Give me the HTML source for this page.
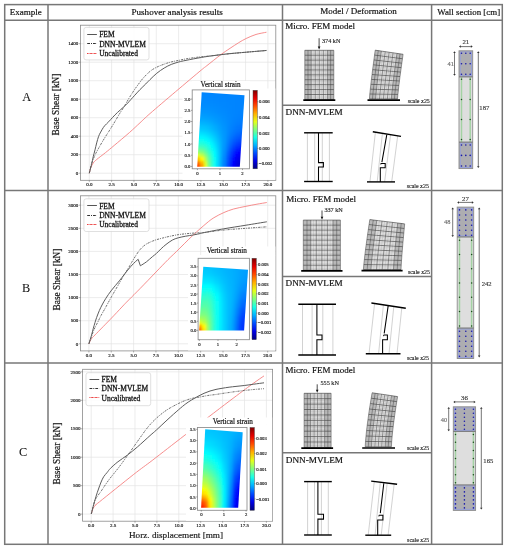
<!DOCTYPE html>
<html><head><meta charset="utf-8"><title>Pushover analysis</title><style>html,body{margin:0;padding:0;background:#fff;}svg{display:block;}</style></head><body>
<svg width="507" height="550" viewBox="0 0 507 550" font-family="'Liberation Serif','Times New Roman',serif">
<rect width="507" height="550" fill="#fff"/>
<g>
<line x1="89.3" y1="25.2" x2="89.3" y2="180.3" stroke="#e4e4e4" stroke-width="0.7" />
<line x1="111.62" y1="25.2" x2="111.62" y2="180.3" stroke="#e4e4e4" stroke-width="0.7" />
<line x1="133.95" y1="25.2" x2="133.95" y2="180.3" stroke="#e4e4e4" stroke-width="0.7" />
<line x1="156.27" y1="25.2" x2="156.27" y2="180.3" stroke="#e4e4e4" stroke-width="0.7" />
<line x1="178.6" y1="25.2" x2="178.6" y2="180.3" stroke="#e4e4e4" stroke-width="0.7" />
<line x1="200.93" y1="25.2" x2="200.93" y2="180.3" stroke="#e4e4e4" stroke-width="0.7" />
<line x1="223.25" y1="25.2" x2="223.25" y2="180.3" stroke="#e4e4e4" stroke-width="0.7" />
<line x1="245.57" y1="25.2" x2="245.57" y2="180.3" stroke="#e4e4e4" stroke-width="0.7" />
<line x1="267.9" y1="25.2" x2="267.9" y2="180.3" stroke="#e4e4e4" stroke-width="0.7" />
<line x1="80.5" y1="173.2" x2="275.8" y2="173.2" stroke="#e4e4e4" stroke-width="0.7" />
<line x1="80.5" y1="154.7" x2="275.8" y2="154.7" stroke="#e4e4e4" stroke-width="0.7" />
<line x1="80.5" y1="136.2" x2="275.8" y2="136.2" stroke="#e4e4e4" stroke-width="0.7" />
<line x1="80.5" y1="117.7" x2="275.8" y2="117.7" stroke="#e4e4e4" stroke-width="0.7" />
<line x1="80.5" y1="99.2" x2="275.8" y2="99.2" stroke="#e4e4e4" stroke-width="0.7" />
<line x1="80.5" y1="80.7" x2="275.8" y2="80.7" stroke="#e4e4e4" stroke-width="0.7" />
<line x1="80.5" y1="62.2" x2="275.8" y2="62.2" stroke="#e4e4e4" stroke-width="0.7" />
<line x1="80.5" y1="43.7" x2="275.8" y2="43.7" stroke="#e4e4e4" stroke-width="0.7" />
<rect x="80.5" y="25.2" width="195.3" height="155.1" fill="none" stroke="#8a8a8a" stroke-width="0.8"/>
<line x1="89.3" y1="180.3" x2="89.3" y2="181.9" stroke="#666" stroke-width="0.5" />
<text x="89.3" y="185.9" font-size="5" text-anchor="middle" fill="#111" stroke="#111" stroke-width="0.14" >0.0</text>
<line x1="111.62" y1="180.3" x2="111.62" y2="181.9" stroke="#666" stroke-width="0.5" />
<text x="111.62" y="185.9" font-size="5" text-anchor="middle" fill="#111" stroke="#111" stroke-width="0.14" >2.5</text>
<line x1="133.95" y1="180.3" x2="133.95" y2="181.9" stroke="#666" stroke-width="0.5" />
<text x="133.95" y="185.9" font-size="5" text-anchor="middle" fill="#111" stroke="#111" stroke-width="0.14" >5.0</text>
<line x1="156.27" y1="180.3" x2="156.27" y2="181.9" stroke="#666" stroke-width="0.5" />
<text x="156.27" y="185.9" font-size="5" text-anchor="middle" fill="#111" stroke="#111" stroke-width="0.14" >7.5</text>
<line x1="178.6" y1="180.3" x2="178.6" y2="181.9" stroke="#666" stroke-width="0.5" />
<text x="178.6" y="185.9" font-size="5" text-anchor="middle" fill="#111" stroke="#111" stroke-width="0.14" >10.0</text>
<line x1="200.93" y1="180.3" x2="200.93" y2="181.9" stroke="#666" stroke-width="0.5" />
<text x="200.93" y="185.9" font-size="5" text-anchor="middle" fill="#111" stroke="#111" stroke-width="0.14" >12.5</text>
<line x1="223.25" y1="180.3" x2="223.25" y2="181.9" stroke="#666" stroke-width="0.5" />
<text x="223.25" y="185.9" font-size="5" text-anchor="middle" fill="#111" stroke="#111" stroke-width="0.14" >15.0</text>
<line x1="245.57" y1="180.3" x2="245.57" y2="181.9" stroke="#666" stroke-width="0.5" />
<text x="245.57" y="185.9" font-size="5" text-anchor="middle" fill="#111" stroke="#111" stroke-width="0.14" >17.5</text>
<line x1="267.9" y1="180.3" x2="267.9" y2="181.9" stroke="#666" stroke-width="0.5" />
<text x="267.9" y="185.9" font-size="5" text-anchor="middle" fill="#111" stroke="#111" stroke-width="0.14" >20.0</text>
<line x1="78.9" y1="173.2" x2="80.5" y2="173.2" stroke="#666" stroke-width="0.5" />
<text x="78.3" y="174.9" font-size="5" text-anchor="end" fill="#111" stroke="#111" stroke-width="0.14" >0</text>
<line x1="78.9" y1="154.7" x2="80.5" y2="154.7" stroke="#666" stroke-width="0.5" />
<text x="78.3" y="156.4" font-size="5" text-anchor="end" fill="#111" stroke="#111" stroke-width="0.14" >200</text>
<line x1="78.9" y1="136.2" x2="80.5" y2="136.2" stroke="#666" stroke-width="0.5" />
<text x="78.3" y="137.9" font-size="5" text-anchor="end" fill="#111" stroke="#111" stroke-width="0.14" >400</text>
<line x1="78.9" y1="117.7" x2="80.5" y2="117.7" stroke="#666" stroke-width="0.5" />
<text x="78.3" y="119.4" font-size="5" text-anchor="end" fill="#111" stroke="#111" stroke-width="0.14" >600</text>
<line x1="78.9" y1="99.2" x2="80.5" y2="99.2" stroke="#666" stroke-width="0.5" />
<text x="78.3" y="100.9" font-size="5" text-anchor="end" fill="#111" stroke="#111" stroke-width="0.14" >800</text>
<line x1="78.9" y1="80.7" x2="80.5" y2="80.7" stroke="#666" stroke-width="0.5" />
<text x="78.3" y="82.4" font-size="5" text-anchor="end" fill="#111" stroke="#111" stroke-width="0.14" >1000</text>
<line x1="78.9" y1="62.2" x2="80.5" y2="62.2" stroke="#666" stroke-width="0.5" />
<text x="78.3" y="63.9" font-size="5" text-anchor="end" fill="#111" stroke="#111" stroke-width="0.14" >1200</text>
<line x1="78.9" y1="43.7" x2="80.5" y2="43.7" stroke="#666" stroke-width="0.5" />
<text x="78.3" y="45.4" font-size="5" text-anchor="end" fill="#111" stroke="#111" stroke-width="0.14" >1400</text>
<text x="0" y="0" font-size="9.4" text-anchor="middle" fill="#111" stroke="#111" stroke-width="0.2" transform="translate(58.8,104.5) rotate(-90)">Base Shear [kN]</text>
<clipPath id="pc0"><rect x="80.5" y="25.2" width="195.3" height="155.1"/></clipPath>
<g clip-path="url(#pc0)" fill="none">
<path d="M89.3,173.2 C89.52,172.37 89.95,169.9 90.6,168.2 C91.25,166.51 92.19,164.47 93.2,163.02 C94.22,161.58 94.66,161.24 96.7,159.51 C98.75,157.78 102.54,155.01 105.46,152.66 C108.38,150.32 110.21,148.81 114.21,145.45 C118.22,142.09 125.18,136.28 129.49,132.5 C133.79,128.72 136.6,125.95 140.02,122.79 C143.45,119.63 144.1,118.72 150.02,113.54 C155.95,108.36 167.02,98.95 175.56,91.71 C184.11,84.46 196.07,74.39 201.28,70.06 C206.49,65.73 203.59,68.26 206.82,65.71 C210.05,63.17 216.79,57.7 220.66,54.8 C224.53,51.9 227.03,50.34 230.04,48.32 C233.04,46.31 236.02,44.32 238.7,42.68 C241.38,41.05 243.22,39.89 246.11,38.52 C249,37.15 252.63,35.5 256.02,34.45 C259.42,33.4 264.73,32.6 266.47,32.23 " stroke="#f47a7a" stroke-width="0.85"/>
<path d="M89.3,173.2 C89.67,171.66 90.55,166.97 91.5,163.95 C92.45,160.93 93.83,157.66 95,155.07 C96.16,152.48 97.33,150.52 98.5,148.41 C99.66,146.3 100.82,144.36 101.98,142.4 C103.14,140.44 104.29,138.54 105.46,136.66 C106.64,134.78 107.86,132.96 109.04,131.11 C110.21,129.26 111.34,127.49 112.52,125.56 C113.69,123.64 114.9,121.55 116.09,119.55 C117.28,117.55 118.4,115.57 119.66,113.54 C120.93,111.5 122.59,109.08 123.68,107.34 C124.77,105.6 125.18,104.78 126.18,103.08 C127.18,101.39 128.31,99.35 129.66,97.16 C131.02,94.98 132.92,92 134.31,89.95 C135.69,87.9 136.55,86.76 137.97,84.86 C139.38,82.97 140.78,80.82 142.79,78.57 C144.8,76.32 147.7,73.25 150.02,71.36 C152.35,69.46 154.36,68.4 156.72,67.19 C159.09,65.99 161.8,65.02 164.22,64.14 C166.65,63.26 168.85,62.55 171.28,61.92 C173.7,61.29 176.32,60.86 178.78,60.35 C181.23,59.84 183.36,59.33 186.01,58.87 C188.66,58.41 192.07,57.93 194.67,57.57 C197.28,57.22 198.75,57.05 201.64,56.74 C204.53,56.43 208.31,56.13 212,55.72 C215.69,55.32 218.1,54.92 223.79,54.34 C229.47,53.75 239,52.84 246.11,52.21 C253.23,51.58 263.08,50.82 266.47,50.54 " stroke="#555" stroke-width="0.85" stroke-dasharray="2.2,1,0.9,1"/>
<path d="M89.3,173.2 C89.67,171.78 90.85,167.42 91.5,164.69 C92.15,161.96 92.62,159.29 93.2,156.83 C93.79,154.36 94.41,152.22 95,149.89 C95.58,147.56 96.12,145.06 96.7,142.86 C97.29,140.66 97.92,138.31 98.5,136.66 C99.08,135.01 99.57,134.2 100.19,132.96 C100.82,131.73 101.5,130.46 102.25,129.26 C102.99,128.06 103.59,127 104.66,125.75 C105.73,124.5 107.35,123.16 108.68,121.77 C110,120.38 111.15,118.96 112.61,117.42 C114.07,115.88 115.58,114.26 117.43,112.52 C119.28,110.78 121.97,108.54 123.68,106.97 C125.39,105.4 126.49,104.33 127.7,103.08 C128.9,101.84 129.81,100.7 130.91,99.48 C132.02,98.26 132.82,97.4 134.31,95.78 C135.8,94.16 137.94,91.74 139.84,89.76 C141.75,87.79 144.04,85.63 145.74,83.94 C147.43,82.24 148.19,81.36 150.02,79.59 C151.85,77.82 154.36,75.23 156.72,73.3 C159.09,71.37 161.8,69.51 164.22,68.03 C166.65,66.55 168.85,65.42 171.28,64.42 C173.7,63.42 176.32,62.69 178.78,62.01 C181.23,61.34 182.2,61.12 186.01,60.35 C189.82,59.58 197.31,58.15 201.64,57.39 C205.97,56.63 208.31,56.33 212,55.82 C215.69,55.31 220.78,54.71 223.79,54.34 C226.79,53.97 226.32,53.95 230.04,53.6 C233.76,53.24 240.04,52.73 246.11,52.21 C252.18,51.69 263.08,50.75 266.47,50.45 " stroke="#5c5c5c" stroke-width="1"/>
</g>
<rect x="83.9" y="27.4" width="65.1" height="32.5" rx="2.2" fill="#fff" fill-opacity="0.85" stroke="#d2d2d2" stroke-width="0.7"/>
<line x1="87.2" y1="34.5" x2="96.9" y2="34.5" stroke="#555" stroke-width="1" />
<line x1="87.2" y1="43.5" x2="96.9" y2="43.5" stroke="#333" stroke-width="1" stroke-dasharray="2.8,1,1,1"/>
<line x1="87.2" y1="53.5" x2="96.9" y2="53.5" stroke="#e81818" stroke-width="1" stroke-dasharray="0.8,0.55"/>
<text x="99.2" y="37.4" font-size="7.5" text-anchor="start" fill="#111" stroke="#111" stroke-width="0.26" >FEM</text>
<text x="99.2" y="46.8" font-size="7.5" text-anchor="start" fill="#111" stroke="#111" stroke-width="0.26" >DNN-MVLEM</text>
<text x="99.2" y="56.3" font-size="7.5" text-anchor="start" fill="#111" stroke="#111" stroke-width="0.26" >Uncalibrated</text>
</g>
<g>
<line x1="88.9" y1="195.8" x2="88.9" y2="350.9" stroke="#e4e4e4" stroke-width="0.7" />
<line x1="111.25" y1="195.8" x2="111.25" y2="350.9" stroke="#e4e4e4" stroke-width="0.7" />
<line x1="133.6" y1="195.8" x2="133.6" y2="350.9" stroke="#e4e4e4" stroke-width="0.7" />
<line x1="155.95" y1="195.8" x2="155.95" y2="350.9" stroke="#e4e4e4" stroke-width="0.7" />
<line x1="178.3" y1="195.8" x2="178.3" y2="350.9" stroke="#e4e4e4" stroke-width="0.7" />
<line x1="200.65" y1="195.8" x2="200.65" y2="350.9" stroke="#e4e4e4" stroke-width="0.7" />
<line x1="223" y1="195.8" x2="223" y2="350.9" stroke="#e4e4e4" stroke-width="0.7" />
<line x1="245.35" y1="195.8" x2="245.35" y2="350.9" stroke="#e4e4e4" stroke-width="0.7" />
<line x1="267.7" y1="195.8" x2="267.7" y2="350.9" stroke="#e4e4e4" stroke-width="0.7" />
<line x1="80.5" y1="343.8" x2="275.8" y2="343.8" stroke="#e4e4e4" stroke-width="0.7" />
<line x1="80.5" y1="320.7" x2="275.8" y2="320.7" stroke="#e4e4e4" stroke-width="0.7" />
<line x1="80.5" y1="297.6" x2="275.8" y2="297.6" stroke="#e4e4e4" stroke-width="0.7" />
<line x1="80.5" y1="274.5" x2="275.8" y2="274.5" stroke="#e4e4e4" stroke-width="0.7" />
<line x1="80.5" y1="251.4" x2="275.8" y2="251.4" stroke="#e4e4e4" stroke-width="0.7" />
<line x1="80.5" y1="228.3" x2="275.8" y2="228.3" stroke="#e4e4e4" stroke-width="0.7" />
<line x1="80.5" y1="205.2" x2="275.8" y2="205.2" stroke="#e4e4e4" stroke-width="0.7" />
<rect x="80.5" y="195.8" width="195.3" height="155.1" fill="none" stroke="#8a8a8a" stroke-width="0.8"/>
<line x1="88.9" y1="350.9" x2="88.9" y2="352.5" stroke="#666" stroke-width="0.5" />
<text x="88.9" y="356.5" font-size="5" text-anchor="middle" fill="#111" stroke="#111" stroke-width="0.14" >0.0</text>
<line x1="111.25" y1="350.9" x2="111.25" y2="352.5" stroke="#666" stroke-width="0.5" />
<text x="111.25" y="356.5" font-size="5" text-anchor="middle" fill="#111" stroke="#111" stroke-width="0.14" >2.5</text>
<line x1="133.6" y1="350.9" x2="133.6" y2="352.5" stroke="#666" stroke-width="0.5" />
<text x="133.6" y="356.5" font-size="5" text-anchor="middle" fill="#111" stroke="#111" stroke-width="0.14" >5.0</text>
<line x1="155.95" y1="350.9" x2="155.95" y2="352.5" stroke="#666" stroke-width="0.5" />
<text x="155.95" y="356.5" font-size="5" text-anchor="middle" fill="#111" stroke="#111" stroke-width="0.14" >7.5</text>
<line x1="178.3" y1="350.9" x2="178.3" y2="352.5" stroke="#666" stroke-width="0.5" />
<text x="178.3" y="356.5" font-size="5" text-anchor="middle" fill="#111" stroke="#111" stroke-width="0.14" >10.0</text>
<line x1="200.65" y1="350.9" x2="200.65" y2="352.5" stroke="#666" stroke-width="0.5" />
<text x="200.65" y="356.5" font-size="5" text-anchor="middle" fill="#111" stroke="#111" stroke-width="0.14" >12.5</text>
<line x1="223" y1="350.9" x2="223" y2="352.5" stroke="#666" stroke-width="0.5" />
<text x="223" y="356.5" font-size="5" text-anchor="middle" fill="#111" stroke="#111" stroke-width="0.14" >15.0</text>
<line x1="245.35" y1="350.9" x2="245.35" y2="352.5" stroke="#666" stroke-width="0.5" />
<text x="245.35" y="356.5" font-size="5" text-anchor="middle" fill="#111" stroke="#111" stroke-width="0.14" >17.5</text>
<line x1="267.7" y1="350.9" x2="267.7" y2="352.5" stroke="#666" stroke-width="0.5" />
<text x="267.7" y="356.5" font-size="5" text-anchor="middle" fill="#111" stroke="#111" stroke-width="0.14" >20.0</text>
<line x1="78.9" y1="343.8" x2="80.5" y2="343.8" stroke="#666" stroke-width="0.5" />
<text x="78.3" y="345.5" font-size="5" text-anchor="end" fill="#111" stroke="#111" stroke-width="0.14" >0</text>
<line x1="78.9" y1="320.7" x2="80.5" y2="320.7" stroke="#666" stroke-width="0.5" />
<text x="78.3" y="322.4" font-size="5" text-anchor="end" fill="#111" stroke="#111" stroke-width="0.14" >500</text>
<line x1="78.9" y1="297.6" x2="80.5" y2="297.6" stroke="#666" stroke-width="0.5" />
<text x="78.3" y="299.3" font-size="5" text-anchor="end" fill="#111" stroke="#111" stroke-width="0.14" >1000</text>
<line x1="78.9" y1="274.5" x2="80.5" y2="274.5" stroke="#666" stroke-width="0.5" />
<text x="78.3" y="276.2" font-size="5" text-anchor="end" fill="#111" stroke="#111" stroke-width="0.14" >1500</text>
<line x1="78.9" y1="251.4" x2="80.5" y2="251.4" stroke="#666" stroke-width="0.5" />
<text x="78.3" y="253.1" font-size="5" text-anchor="end" fill="#111" stroke="#111" stroke-width="0.14" >2000</text>
<line x1="78.9" y1="228.3" x2="80.5" y2="228.3" stroke="#666" stroke-width="0.5" />
<text x="78.3" y="230" font-size="5" text-anchor="end" fill="#111" stroke="#111" stroke-width="0.14" >2500</text>
<line x1="78.9" y1="205.2" x2="80.5" y2="205.2" stroke="#666" stroke-width="0.5" />
<text x="78.3" y="206.9" font-size="5" text-anchor="end" fill="#111" stroke="#111" stroke-width="0.14" >3000</text>
<text x="0" y="0" font-size="9.4" text-anchor="middle" fill="#111" stroke="#111" stroke-width="0.2" transform="translate(59.6,279.5) rotate(-90)">Base Shear [kN]</text>
<clipPath id="pc1"><rect x="80.5" y="195.8" width="195.3" height="155.1"/></clipPath>
<g clip-path="url(#pc1)" fill="none">
<path d="M88.9,343.8 C89.33,342.95 90.2,340.47 91.49,338.72 C92.79,336.96 94.34,335.68 96.68,333.27 C99.02,330.85 102.61,327.21 105.53,324.21 C108.45,321.21 111.12,318.49 114.2,315.25 C117.28,312.01 121.53,307.39 124.03,304.76 C126.54,302.13 126.55,302.14 129.22,299.45 C131.89,296.75 135.57,293.16 140.04,288.59 C144.51,284.02 151.38,276.83 156.04,272.01 C160.7,267.18 164.64,263.02 168.02,259.62 C171.4,256.23 172.21,255.67 176.33,251.63 C180.46,247.6 187.84,240.07 192.78,235.41 C197.73,230.76 202.5,226.63 206.01,223.68 C209.53,220.73 210.92,219.57 213.88,217.72 C216.85,215.87 220.51,214.05 223.8,212.59 C227.1,211.14 229.94,210.04 233.64,208.99 C237.33,207.94 242.09,207.11 245.98,206.31 C249.86,205.51 253.5,204.81 256.97,204.18 C260.44,203.55 265.17,202.8 266.81,202.52 " stroke="#f47a7a" stroke-width="0.85"/>
<path d="M88.9,343.8 C89.33,342.58 90.63,338.89 91.49,336.5 C92.36,334.11 93.07,331.81 94.09,329.48 C95.1,327.14 96.41,324.83 97.57,322.5 C98.73,320.17 99.73,317.97 101.06,315.48 C102.38,312.99 103.89,310.53 105.53,307.58 C107.17,304.63 108.6,301.85 110.89,297.78 C113.19,293.72 117.02,287.14 119.3,283.19 C121.58,279.24 123.04,276.63 124.57,274.08 C126.11,271.54 127.27,269.94 128.5,267.89 C129.74,265.85 130.81,263.77 131.99,261.8 C133.17,259.82 134.34,257.91 135.57,256.02 C136.79,254.13 138.1,252.03 139.32,250.48 C140.54,248.92 141.71,247.77 142.9,246.69 C144.09,245.61 145.03,244.87 146.47,244.01 C147.92,243.15 149.92,242.23 151.57,241.51 C153.22,240.8 154.58,240.28 156.4,239.71 C158.21,239.14 160.54,238.59 162.48,238.09 C164.41,237.59 165.4,237.28 168.02,236.71 C170.64,236.14 174.59,235.23 178.21,234.68 C181.83,234.12 186,233.71 189.74,233.38 C193.48,233.05 197.94,232.88 200.65,232.69 C203.36,232.5 202.15,232.67 206.01,232.23 C209.87,231.79 217.14,230.71 223.8,230.06 C230.46,229.4 238.81,228.84 245.98,228.3 C253.14,227.76 263.33,227.07 266.81,226.82 " stroke="#555" stroke-width="0.85" stroke-dasharray="2.2,1,0.9,1"/>
<path d="M88.9,343.8 C89.33,342.38 90.78,337.76 91.49,335.25 C92.21,332.75 92.61,330.89 93.19,328.79 C93.77,326.68 94.4,324.54 94.98,322.64 C95.56,320.74 95.95,319.39 96.68,317.37 C97.41,315.36 98.47,312.6 99.36,310.54 C100.25,308.47 100.95,307.03 102.04,304.99 C103.13,302.95 104.29,300.77 105.89,298.29 C107.48,295.81 109.37,293.01 111.61,290.12 C113.84,287.22 117.14,283.59 119.3,280.92 C121.46,278.25 122.65,276.5 124.57,274.08 C126.49,271.67 129,268.51 130.83,266.42 C132.66,264.32 134.34,262.7 135.57,261.52 C136.79,260.33 137.73,259.67 138.16,259.3 L140.39,265.81 C141.41,265.14 144.48,263.31 146.47,261.8 C148.47,260.28 150.72,258.1 152.37,256.71 C154.03,255.33 154.94,254.81 156.4,253.48 C157.86,252.15 159.54,250.21 161.14,248.72 C162.73,247.23 164.1,245.96 165.96,244.52 C167.83,243.08 170.27,241.2 172.31,240.08 C174.35,238.96 175.98,238.46 178.21,237.82 C180.45,237.17 183.16,236.69 185.72,236.2 C188.28,235.72 191.1,235.36 193.59,234.91 C196.08,234.45 198.58,233.92 200.65,233.47 C202.72,233.03 202.15,233 206.01,232.23 C209.87,231.45 217.14,229.98 223.8,228.81 C230.46,227.64 238.81,226.38 245.98,225.2 C253.14,224.03 263.33,222.36 266.81,221.79 " stroke="#5c5c5c" stroke-width="1"/>
</g>
<rect x="83.9" y="198.8" width="65.1" height="32.7" rx="2.2" fill="#fff" fill-opacity="0.85" stroke="#d2d2d2" stroke-width="0.7"/>
<line x1="87.2" y1="205.5" x2="96.9" y2="205.5" stroke="#555" stroke-width="1" />
<line x1="87.2" y1="215.5" x2="96.9" y2="215.5" stroke="#333" stroke-width="1" stroke-dasharray="2.8,1,1,1"/>
<line x1="87.2" y1="224.5" x2="96.9" y2="224.5" stroke="#e81818" stroke-width="1" stroke-dasharray="0.8,0.55"/>
<text x="99.2" y="208.6" font-size="7.5" text-anchor="start" fill="#111" stroke="#111" stroke-width="0.26" >FEM</text>
<text x="99.2" y="217.9" font-size="7.5" text-anchor="start" fill="#111" stroke="#111" stroke-width="0.26" >DNN-MVLEM</text>
<text x="99.2" y="227.4" font-size="7.5" text-anchor="start" fill="#111" stroke="#111" stroke-width="0.26" >Uncalibrated</text>
</g>
<g>
<line x1="91.2" y1="369.3" x2="91.2" y2="521.2" stroke="#e4e4e4" stroke-width="0.7" />
<line x1="113.1" y1="369.3" x2="113.1" y2="521.2" stroke="#e4e4e4" stroke-width="0.7" />
<line x1="135" y1="369.3" x2="135" y2="521.2" stroke="#e4e4e4" stroke-width="0.7" />
<line x1="156.9" y1="369.3" x2="156.9" y2="521.2" stroke="#e4e4e4" stroke-width="0.7" />
<line x1="178.8" y1="369.3" x2="178.8" y2="521.2" stroke="#e4e4e4" stroke-width="0.7" />
<line x1="200.7" y1="369.3" x2="200.7" y2="521.2" stroke="#e4e4e4" stroke-width="0.7" />
<line x1="222.6" y1="369.3" x2="222.6" y2="521.2" stroke="#e4e4e4" stroke-width="0.7" />
<line x1="244.5" y1="369.3" x2="244.5" y2="521.2" stroke="#e4e4e4" stroke-width="0.7" />
<line x1="266.4" y1="369.3" x2="266.4" y2="521.2" stroke="#e4e4e4" stroke-width="0.7" />
<line x1="82.6" y1="514.1" x2="272.6" y2="514.1" stroke="#e4e4e4" stroke-width="0.7" />
<line x1="82.6" y1="485.65" x2="272.6" y2="485.65" stroke="#e4e4e4" stroke-width="0.7" />
<line x1="82.6" y1="457.2" x2="272.6" y2="457.2" stroke="#e4e4e4" stroke-width="0.7" />
<line x1="82.6" y1="428.75" x2="272.6" y2="428.75" stroke="#e4e4e4" stroke-width="0.7" />
<line x1="82.6" y1="400.3" x2="272.6" y2="400.3" stroke="#e4e4e4" stroke-width="0.7" />
<line x1="82.6" y1="371.85" x2="272.6" y2="371.85" stroke="#e4e4e4" stroke-width="0.7" />
<rect x="82.6" y="369.3" width="190" height="151.9" fill="none" stroke="#8a8a8a" stroke-width="0.8"/>
<line x1="91.2" y1="521.2" x2="91.2" y2="522.8" stroke="#666" stroke-width="0.5" />
<text x="91.2" y="526.8" font-size="5" text-anchor="middle" fill="#111" stroke="#111" stroke-width="0.14" >0.0</text>
<line x1="113.1" y1="521.2" x2="113.1" y2="522.8" stroke="#666" stroke-width="0.5" />
<text x="113.1" y="526.8" font-size="5" text-anchor="middle" fill="#111" stroke="#111" stroke-width="0.14" >2.5</text>
<line x1="135" y1="521.2" x2="135" y2="522.8" stroke="#666" stroke-width="0.5" />
<text x="135" y="526.8" font-size="5" text-anchor="middle" fill="#111" stroke="#111" stroke-width="0.14" >5.0</text>
<line x1="156.9" y1="521.2" x2="156.9" y2="522.8" stroke="#666" stroke-width="0.5" />
<text x="156.9" y="526.8" font-size="5" text-anchor="middle" fill="#111" stroke="#111" stroke-width="0.14" >7.5</text>
<line x1="178.8" y1="521.2" x2="178.8" y2="522.8" stroke="#666" stroke-width="0.5" />
<text x="178.8" y="526.8" font-size="5" text-anchor="middle" fill="#111" stroke="#111" stroke-width="0.14" >10.0</text>
<line x1="200.7" y1="521.2" x2="200.7" y2="522.8" stroke="#666" stroke-width="0.5" />
<text x="200.7" y="526.8" font-size="5" text-anchor="middle" fill="#111" stroke="#111" stroke-width="0.14" >12.5</text>
<line x1="222.6" y1="521.2" x2="222.6" y2="522.8" stroke="#666" stroke-width="0.5" />
<text x="222.6" y="526.8" font-size="5" text-anchor="middle" fill="#111" stroke="#111" stroke-width="0.14" >15.0</text>
<line x1="244.5" y1="521.2" x2="244.5" y2="522.8" stroke="#666" stroke-width="0.5" />
<text x="244.5" y="526.8" font-size="5" text-anchor="middle" fill="#111" stroke="#111" stroke-width="0.14" >17.5</text>
<line x1="266.4" y1="521.2" x2="266.4" y2="522.8" stroke="#666" stroke-width="0.5" />
<text x="266.4" y="526.8" font-size="5" text-anchor="middle" fill="#111" stroke="#111" stroke-width="0.14" >20.0</text>
<line x1="81" y1="514.1" x2="82.6" y2="514.1" stroke="#666" stroke-width="0.5" />
<text x="80.4" y="515.8" font-size="5" text-anchor="end" fill="#111" stroke="#111" stroke-width="0.14" >0</text>
<line x1="81" y1="485.65" x2="82.6" y2="485.65" stroke="#666" stroke-width="0.5" />
<text x="80.4" y="487.35" font-size="5" text-anchor="end" fill="#111" stroke="#111" stroke-width="0.14" >500</text>
<line x1="81" y1="457.2" x2="82.6" y2="457.2" stroke="#666" stroke-width="0.5" />
<text x="80.4" y="458.9" font-size="5" text-anchor="end" fill="#111" stroke="#111" stroke-width="0.14" >1000</text>
<line x1="81" y1="428.75" x2="82.6" y2="428.75" stroke="#666" stroke-width="0.5" />
<text x="80.4" y="430.45" font-size="5" text-anchor="end" fill="#111" stroke="#111" stroke-width="0.14" >1500</text>
<line x1="81" y1="400.3" x2="82.6" y2="400.3" stroke="#666" stroke-width="0.5" />
<text x="80.4" y="402" font-size="5" text-anchor="end" fill="#111" stroke="#111" stroke-width="0.14" >2000</text>
<line x1="81" y1="371.85" x2="82.6" y2="371.85" stroke="#666" stroke-width="0.5" />
<text x="80.4" y="373.55" font-size="5" text-anchor="end" fill="#111" stroke="#111" stroke-width="0.14" >2500</text>
<text x="0" y="0" font-size="9.4" text-anchor="middle" fill="#111" stroke="#111" stroke-width="0.2" transform="translate(59.6,453.6) rotate(-90)">Base Shear [kN]</text>
<clipPath id="pc2"><rect x="82.6" y="369.3" width="190" height="151.9"/></clipPath>
<g clip-path="url(#pc2)" fill="none">
<path d="M91.3,513.9 C91.62,512.95 92.43,509.73 93.2,508.2 C93.97,506.67 94.85,505.77 95.9,504.7 C96.95,503.63 93.2,506.85 99.5,501.8 C105.8,496.75 124.82,481.37 133.7,474.4 C142.58,467.43 144.22,466.58 152.8,460 C161.38,453.42 172.48,444.68 185.2,434.9 C197.92,425.12 217.95,409.75 229.1,401.3 C240.25,392.85 246.28,388.43 252.1,384.2 C257.92,379.97 262.02,377.28 264,375.9 " stroke="#f47a7a" stroke-width="0.85"/>
<path d="M91.3,513.9 C91.85,511.78 93.55,504.18 94.6,501.2 C95.65,498.22 96.52,497.67 97.6,496 C98.68,494.33 99.78,493.1 101.1,491.2 C102.42,489.3 104.03,486.72 105.5,484.6 C106.97,482.48 108.48,480.37 109.9,478.5 C111.32,476.63 112.62,475.12 114,473.4 C115.38,471.68 116.9,469.87 118.2,468.2 C119.5,466.53 120.27,465.5 121.8,463.4 C123.33,461.3 125.42,458.37 127.4,455.6 C129.38,452.83 131.33,450.13 133.7,446.8 C136.07,443.47 139.47,438.58 141.6,435.6 C143.73,432.62 144.77,431.08 146.5,428.9 C148.23,426.72 149.83,424.73 152,422.5 C154.17,420.27 156.83,417.72 159.5,415.5 C162.17,413.28 164.83,411.2 168,409.2 C171.17,407.2 175.53,404.98 178.5,403.5 C181.47,402.02 183.4,401.18 185.8,400.3 C188.2,399.42 190.45,398.77 192.9,398.2 C195.35,397.63 198.02,397.35 200.5,396.9 C202.98,396.45 205.27,395.9 207.8,395.5 C210.33,395.1 213.33,394.83 215.7,394.5 C218.07,394.17 219.77,393.83 222,393.5 C224.23,393.17 226.77,392.83 229.1,392.5 C231.43,392.17 233.47,391.83 236,391.5 C238.53,391.17 241.35,390.83 244.3,390.5 C247.25,390.17 250.42,389.8 253.7,389.5 C256.98,389.2 262.28,388.83 264,388.7 " stroke="#555" stroke-width="0.85" stroke-dasharray="2.2,1,0.9,1"/>
<path d="M91.3,513.9 C91.62,512.67 92.43,509.35 93.2,506.5 C93.97,503.65 95.02,499.72 95.9,496.8 C96.78,493.88 97.63,491.47 98.5,489 C99.37,486.53 100.23,484.05 101.1,482 C101.97,479.95 102.68,478.3 103.7,476.7 C104.72,475.1 106.07,473.8 107.2,472.4 C108.33,471 108.72,470.07 110.5,468.3 C112.28,466.53 115.08,464 117.9,461.8 C120.72,459.6 124.12,457.6 127.4,455.1 C130.68,452.6 133.83,450.05 137.6,446.8 C141.37,443.55 146.88,438.38 150,435.6 C153.12,432.82 153.3,432.83 156.3,430.1 C159.3,427.37 164.3,422.58 168,419.2 C171.7,415.82 175.53,412.37 178.5,409.8 C181.47,407.23 183.6,405.45 185.8,403.8 C188,402.15 189.67,401.15 191.7,399.9 C193.73,398.65 195.95,397.4 198,396.3 C200.05,395.2 202,394.18 204,393.3 C206,392.42 208,391.65 210,391 C212,390.35 214,389.85 216,389.4 C218,388.95 219.82,388.67 222,388.3 C224.18,387.93 226.77,387.52 229.1,387.2 C231.43,386.88 233.47,386.68 236,386.4 C238.53,386.12 241.35,385.87 244.3,385.5 C247.25,385.13 250.42,384.65 253.7,384.2 C256.98,383.75 262.28,383.03 264,382.8 " stroke="#5c5c5c" stroke-width="1"/>
</g>
<rect x="86" y="372.7" width="64.7" height="33" rx="2.2" fill="#fff" fill-opacity="0.85" stroke="#d2d2d2" stroke-width="0.7"/>
<line x1="89.5" y1="379.5" x2="99.2" y2="379.5" stroke="#555" stroke-width="1" />
<line x1="89.5" y1="388.5" x2="99.2" y2="388.5" stroke="#333" stroke-width="1" stroke-dasharray="2.8,1,1,1"/>
<line x1="89.5" y1="397.5" x2="99.2" y2="397.5" stroke="#e81818" stroke-width="1" stroke-dasharray="0.8,0.55"/>
<text x="101.5" y="382" font-size="7.5" text-anchor="start" fill="#111" stroke="#111" stroke-width="0.26" >FEM</text>
<text x="101.5" y="391" font-size="7.5" text-anchor="start" fill="#111" stroke="#111" stroke-width="0.26" >DNN-MVLEM</text>
<text x="101.5" y="400.7" font-size="7.5" text-anchor="start" fill="#111" stroke="#111" stroke-width="0.26" >Uncalibrated</text>
</g>
<text x="176" y="538.3" font-size="9.2" text-anchor="middle" fill="#1a1a1a" stroke="#1a1a1a" stroke-width="0.18" >Horz. displacement [mm]</text>
<rect x="192.2" y="81" width="57.8" height="7.6" fill="#fff"/>
<rect x="182.5" y="88.5" width="92.85" height="91.35" fill="#fff"/>
<text x="220.6" y="86.9" font-size="7.2" text-anchor="middle" fill="#111" stroke="#111" stroke-width="0.18" >Vertical strain</text>
<clipPath id="hq0"><polygon points="197.2,166.8 239.8,166.8 244.5,95.2 201.7,92.2"/></clipPath>
<filter id="hb0" x="-10%" y="-10%" width="120%" height="120%"><feGaussianBlur stdDeviation="1.1"/></filter>
<g clip-path="url(#hq0)"><g filter="url(#hb0)" shape-rendering="crispEdges">
<rect x="194.05" y="89.09" width="3.35" height="3.31" fill="#0086ff"/>
<rect x="197.2" y="89.09" width="3.35" height="3.31" fill="#0086ff"/>
<rect x="200.35" y="89.09" width="3.35" height="3.31" fill="#0086ff"/>
<rect x="203.51" y="89.09" width="3.35" height="3.31" fill="#0086ff"/>
<rect x="206.66" y="89.09" width="3.35" height="3.31" fill="#0086ff"/>
<rect x="209.81" y="89.09" width="3.35" height="3.31" fill="#0086ff"/>
<rect x="212.97" y="89.09" width="3.35" height="3.31" fill="#0085ff"/>
<rect x="216.12" y="89.09" width="3.35" height="3.31" fill="#0085ff"/>
<rect x="219.27" y="89.09" width="3.35" height="3.31" fill="#0085ff"/>
<rect x="222.43" y="89.09" width="3.35" height="3.31" fill="#0085ff"/>
<rect x="225.58" y="89.09" width="3.35" height="3.31" fill="#0085ff"/>
<rect x="228.73" y="89.09" width="3.35" height="3.31" fill="#0084ff"/>
<rect x="231.89" y="89.09" width="3.35" height="3.31" fill="#0084ff"/>
<rect x="235.04" y="89.09" width="3.35" height="3.31" fill="#0084ff"/>
<rect x="238.19" y="89.09" width="3.35" height="3.31" fill="#0084ff"/>
<rect x="241.35" y="89.09" width="3.35" height="3.31" fill="#0084ff"/>
<rect x="244.5" y="89.09" width="3.35" height="3.31" fill="#0084ff"/>
<rect x="194.05" y="92.2" width="3.35" height="3.31" fill="#0086ff"/>
<rect x="197.2" y="92.2" width="3.35" height="3.31" fill="#0086ff"/>
<rect x="200.35" y="92.2" width="3.35" height="3.31" fill="#0086ff"/>
<rect x="203.51" y="92.2" width="3.35" height="3.31" fill="#0086ff"/>
<rect x="206.66" y="92.2" width="3.35" height="3.31" fill="#0086ff"/>
<rect x="209.81" y="92.2" width="3.35" height="3.31" fill="#0086ff"/>
<rect x="212.97" y="92.2" width="3.35" height="3.31" fill="#0086ff"/>
<rect x="216.12" y="92.2" width="3.35" height="3.31" fill="#0085ff"/>
<rect x="219.27" y="92.2" width="3.35" height="3.31" fill="#0085ff"/>
<rect x="222.43" y="92.2" width="3.35" height="3.31" fill="#0085ff"/>
<rect x="225.58" y="92.2" width="3.35" height="3.31" fill="#0085ff"/>
<rect x="228.73" y="92.2" width="3.35" height="3.31" fill="#0085ff"/>
<rect x="231.89" y="92.2" width="3.35" height="3.31" fill="#0084ff"/>
<rect x="235.04" y="92.2" width="3.35" height="3.31" fill="#0084ff"/>
<rect x="238.19" y="92.2" width="3.35" height="3.31" fill="#0084ff"/>
<rect x="241.35" y="92.2" width="3.35" height="3.31" fill="#0084ff"/>
<rect x="244.5" y="92.2" width="3.35" height="3.31" fill="#0084ff"/>
<rect x="194.05" y="95.31" width="3.35" height="3.31" fill="#0087ff"/>
<rect x="197.2" y="95.31" width="3.35" height="3.31" fill="#0087ff"/>
<rect x="200.35" y="95.31" width="3.35" height="3.31" fill="#0087ff"/>
<rect x="203.51" y="95.31" width="3.35" height="3.31" fill="#0087ff"/>
<rect x="206.66" y="95.31" width="3.35" height="3.31" fill="#0087ff"/>
<rect x="209.81" y="95.31" width="3.35" height="3.31" fill="#0087ff"/>
<rect x="212.97" y="95.31" width="3.35" height="3.31" fill="#0086ff"/>
<rect x="216.12" y="95.31" width="3.35" height="3.31" fill="#0086ff"/>
<rect x="219.27" y="95.31" width="3.35" height="3.31" fill="#0086ff"/>
<rect x="222.43" y="95.31" width="3.35" height="3.31" fill="#0085ff"/>
<rect x="225.58" y="95.31" width="3.35" height="3.31" fill="#0085ff"/>
<rect x="228.73" y="95.31" width="3.35" height="3.31" fill="#0085ff"/>
<rect x="231.89" y="95.31" width="3.35" height="3.31" fill="#0085ff"/>
<rect x="235.04" y="95.31" width="3.35" height="3.31" fill="#0084ff"/>
<rect x="238.19" y="95.31" width="3.35" height="3.31" fill="#0084ff"/>
<rect x="241.35" y="95.31" width="3.35" height="3.31" fill="#0084ff"/>
<rect x="244.5" y="95.31" width="3.35" height="3.31" fill="#0084ff"/>
<rect x="194.05" y="98.42" width="3.35" height="3.31" fill="#0089ff"/>
<rect x="197.2" y="98.42" width="3.35" height="3.31" fill="#0089ff"/>
<rect x="200.35" y="98.42" width="3.35" height="3.31" fill="#0089ff"/>
<rect x="203.51" y="98.42" width="3.35" height="3.31" fill="#0089ff"/>
<rect x="206.66" y="98.42" width="3.35" height="3.31" fill="#0088ff"/>
<rect x="209.81" y="98.42" width="3.35" height="3.31" fill="#0088ff"/>
<rect x="212.97" y="98.42" width="3.35" height="3.31" fill="#0087ff"/>
<rect x="216.12" y="98.42" width="3.35" height="3.31" fill="#0087ff"/>
<rect x="219.27" y="98.42" width="3.35" height="3.31" fill="#0086ff"/>
<rect x="222.43" y="98.42" width="3.35" height="3.31" fill="#0086ff"/>
<rect x="225.58" y="98.42" width="3.35" height="3.31" fill="#0085ff"/>
<rect x="228.73" y="98.42" width="3.35" height="3.31" fill="#0085ff"/>
<rect x="231.89" y="98.42" width="3.35" height="3.31" fill="#0085ff"/>
<rect x="235.04" y="98.42" width="3.35" height="3.31" fill="#0084ff"/>
<rect x="238.19" y="98.42" width="3.35" height="3.31" fill="#0084ff"/>
<rect x="241.35" y="98.42" width="3.35" height="3.31" fill="#0084ff"/>
<rect x="244.5" y="98.42" width="3.35" height="3.31" fill="#0084ff"/>
<rect x="194.05" y="101.53" width="3.35" height="3.31" fill="#008bff"/>
<rect x="197.2" y="101.53" width="3.35" height="3.31" fill="#008bff"/>
<rect x="200.35" y="101.53" width="3.35" height="3.31" fill="#008bff"/>
<rect x="203.51" y="101.53" width="3.35" height="3.31" fill="#008bff"/>
<rect x="206.66" y="101.53" width="3.35" height="3.31" fill="#008aff"/>
<rect x="209.81" y="101.53" width="3.35" height="3.31" fill="#008aff"/>
<rect x="212.97" y="101.53" width="3.35" height="3.31" fill="#0089ff"/>
<rect x="216.12" y="101.53" width="3.35" height="3.31" fill="#0088ff"/>
<rect x="219.27" y="101.53" width="3.35" height="3.31" fill="#0087ff"/>
<rect x="222.43" y="101.53" width="3.35" height="3.31" fill="#0087ff"/>
<rect x="225.58" y="101.53" width="3.35" height="3.31" fill="#0086ff"/>
<rect x="228.73" y="101.53" width="3.35" height="3.31" fill="#0085ff"/>
<rect x="231.89" y="101.53" width="3.35" height="3.31" fill="#0085ff"/>
<rect x="235.04" y="101.53" width="3.35" height="3.31" fill="#0084ff"/>
<rect x="238.19" y="101.53" width="3.35" height="3.31" fill="#0084ff"/>
<rect x="241.35" y="101.53" width="3.35" height="3.31" fill="#0084ff"/>
<rect x="244.5" y="101.53" width="3.35" height="3.31" fill="#0084ff"/>
<rect x="194.05" y="104.63" width="3.35" height="3.31" fill="#008dff"/>
<rect x="197.2" y="104.63" width="3.35" height="3.31" fill="#008dff"/>
<rect x="200.35" y="104.63" width="3.35" height="3.31" fill="#008dff"/>
<rect x="203.51" y="104.63" width="3.35" height="3.31" fill="#008dff"/>
<rect x="206.66" y="104.63" width="3.35" height="3.31" fill="#008dff"/>
<rect x="209.81" y="104.63" width="3.35" height="3.31" fill="#008cff"/>
<rect x="212.97" y="104.63" width="3.35" height="3.31" fill="#008bff"/>
<rect x="216.12" y="104.63" width="3.35" height="3.31" fill="#008aff"/>
<rect x="219.27" y="104.63" width="3.35" height="3.31" fill="#0089ff"/>
<rect x="222.43" y="104.63" width="3.35" height="3.31" fill="#0087ff"/>
<rect x="225.58" y="104.63" width="3.35" height="3.31" fill="#0086ff"/>
<rect x="228.73" y="104.63" width="3.35" height="3.31" fill="#0086ff"/>
<rect x="231.89" y="104.63" width="3.35" height="3.31" fill="#0085ff"/>
<rect x="235.04" y="104.63" width="3.35" height="3.31" fill="#0084ff"/>
<rect x="238.19" y="104.63" width="3.35" height="3.31" fill="#0084ff"/>
<rect x="241.35" y="104.63" width="3.35" height="3.31" fill="#0084ff"/>
<rect x="244.5" y="104.63" width="3.35" height="3.31" fill="#0084ff"/>
<rect x="194.05" y="107.74" width="3.35" height="3.31" fill="#0091ff"/>
<rect x="197.2" y="107.74" width="3.35" height="3.31" fill="#0091ff"/>
<rect x="200.35" y="107.74" width="3.35" height="3.31" fill="#0091ff"/>
<rect x="203.51" y="107.74" width="3.35" height="3.31" fill="#0091ff"/>
<rect x="206.66" y="107.74" width="3.35" height="3.31" fill="#0090ff"/>
<rect x="209.81" y="107.74" width="3.35" height="3.31" fill="#008fff"/>
<rect x="212.97" y="107.74" width="3.35" height="3.31" fill="#008dff"/>
<rect x="216.12" y="107.74" width="3.35" height="3.31" fill="#008cff"/>
<rect x="219.27" y="107.74" width="3.35" height="3.31" fill="#008aff"/>
<rect x="222.43" y="107.74" width="3.35" height="3.31" fill="#0089ff"/>
<rect x="225.58" y="107.74" width="3.35" height="3.31" fill="#0087ff"/>
<rect x="228.73" y="107.74" width="3.35" height="3.31" fill="#0086ff"/>
<rect x="231.89" y="107.74" width="3.35" height="3.31" fill="#0085ff"/>
<rect x="235.04" y="107.74" width="3.35" height="3.31" fill="#0084ff"/>
<rect x="238.19" y="107.74" width="3.35" height="3.31" fill="#0084ff"/>
<rect x="241.35" y="107.74" width="3.35" height="3.31" fill="#0083ff"/>
<rect x="244.5" y="107.74" width="3.35" height="3.31" fill="#0083ff"/>
<rect x="194.05" y="110.85" width="3.35" height="3.31" fill="#0096ff"/>
<rect x="197.2" y="110.85" width="3.35" height="3.31" fill="#0096ff"/>
<rect x="200.35" y="110.85" width="3.35" height="3.31" fill="#0096ff"/>
<rect x="203.51" y="110.85" width="3.35" height="3.31" fill="#0095ff"/>
<rect x="206.66" y="110.85" width="3.35" height="3.31" fill="#0094ff"/>
<rect x="209.81" y="110.85" width="3.35" height="3.31" fill="#0092ff"/>
<rect x="212.97" y="110.85" width="3.35" height="3.31" fill="#0090ff"/>
<rect x="216.12" y="110.85" width="3.35" height="3.31" fill="#008eff"/>
<rect x="219.27" y="110.85" width="3.35" height="3.31" fill="#008cff"/>
<rect x="222.43" y="110.85" width="3.35" height="3.31" fill="#008aff"/>
<rect x="225.58" y="110.85" width="3.35" height="3.31" fill="#0088ff"/>
<rect x="228.73" y="110.85" width="3.35" height="3.31" fill="#0086ff"/>
<rect x="231.89" y="110.85" width="3.35" height="3.31" fill="#0085ff"/>
<rect x="235.04" y="110.85" width="3.35" height="3.31" fill="#0084ff"/>
<rect x="238.19" y="110.85" width="3.35" height="3.31" fill="#0083ff"/>
<rect x="241.35" y="110.85" width="3.35" height="3.31" fill="#0083ff"/>
<rect x="244.5" y="110.85" width="3.35" height="3.31" fill="#0083ff"/>
<rect x="194.05" y="113.96" width="3.35" height="3.31" fill="#009cff"/>
<rect x="197.2" y="113.96" width="3.35" height="3.31" fill="#009cff"/>
<rect x="200.35" y="113.96" width="3.35" height="3.31" fill="#009cff"/>
<rect x="203.51" y="113.96" width="3.35" height="3.31" fill="#009bff"/>
<rect x="206.66" y="113.96" width="3.35" height="3.31" fill="#0099ff"/>
<rect x="209.81" y="113.96" width="3.35" height="3.31" fill="#0097ff"/>
<rect x="212.97" y="113.96" width="3.35" height="3.31" fill="#0094ff"/>
<rect x="216.12" y="113.96" width="3.35" height="3.31" fill="#0092ff"/>
<rect x="219.27" y="113.96" width="3.35" height="3.31" fill="#008fff"/>
<rect x="222.43" y="113.96" width="3.35" height="3.31" fill="#008cff"/>
<rect x="225.58" y="113.96" width="3.35" height="3.31" fill="#0089ff"/>
<rect x="228.73" y="113.96" width="3.35" height="3.31" fill="#0087ff"/>
<rect x="231.89" y="113.96" width="3.35" height="3.31" fill="#0085ff"/>
<rect x="235.04" y="113.96" width="3.35" height="3.31" fill="#0083ff"/>
<rect x="238.19" y="113.96" width="3.35" height="3.31" fill="#0082ff"/>
<rect x="241.35" y="113.96" width="3.35" height="3.31" fill="#0081ff"/>
<rect x="244.5" y="113.96" width="3.35" height="3.31" fill="#0081ff"/>
<rect x="194.05" y="117.07" width="3.35" height="3.31" fill="#00a4ff"/>
<rect x="197.2" y="117.07" width="3.35" height="3.31" fill="#00a4ff"/>
<rect x="200.35" y="117.07" width="3.35" height="3.31" fill="#00a4ff"/>
<rect x="203.51" y="117.07" width="3.35" height="3.31" fill="#00a2ff"/>
<rect x="206.66" y="117.07" width="3.35" height="3.31" fill="#00a0ff"/>
<rect x="209.81" y="117.07" width="3.35" height="3.31" fill="#009dff"/>
<rect x="212.97" y="117.07" width="3.35" height="3.31" fill="#0099ff"/>
<rect x="216.12" y="117.07" width="3.35" height="3.31" fill="#0096ff"/>
<rect x="219.27" y="117.07" width="3.35" height="3.31" fill="#0092ff"/>
<rect x="222.43" y="117.07" width="3.35" height="3.31" fill="#008eff"/>
<rect x="225.58" y="117.07" width="3.35" height="3.31" fill="#008aff"/>
<rect x="228.73" y="117.07" width="3.35" height="3.31" fill="#0087ff"/>
<rect x="231.89" y="117.07" width="3.35" height="3.31" fill="#0084ff"/>
<rect x="235.04" y="117.07" width="3.35" height="3.31" fill="#0082ff"/>
<rect x="238.19" y="117.07" width="3.35" height="3.31" fill="#0080ff"/>
<rect x="241.35" y="117.07" width="3.35" height="3.31" fill="#0080ff"/>
<rect x="244.5" y="117.07" width="3.35" height="3.31" fill="#0080ff"/>
<rect x="194.05" y="120.18" width="3.35" height="3.31" fill="#00adff"/>
<rect x="197.2" y="120.18" width="3.35" height="3.31" fill="#00adff"/>
<rect x="200.35" y="120.18" width="3.35" height="3.31" fill="#00adff"/>
<rect x="203.51" y="120.18" width="3.35" height="3.31" fill="#00abff"/>
<rect x="206.66" y="120.18" width="3.35" height="3.31" fill="#00a8ff"/>
<rect x="209.81" y="120.18" width="3.35" height="3.31" fill="#00a4ff"/>
<rect x="212.97" y="120.18" width="3.35" height="3.31" fill="#009fff"/>
<rect x="216.12" y="120.18" width="3.35" height="3.31" fill="#009aff"/>
<rect x="219.27" y="120.18" width="3.35" height="3.31" fill="#0095ff"/>
<rect x="222.43" y="120.18" width="3.35" height="3.31" fill="#0090ff"/>
<rect x="225.58" y="120.18" width="3.35" height="3.31" fill="#008bff"/>
<rect x="228.73" y="120.18" width="3.35" height="3.31" fill="#0087ff"/>
<rect x="231.89" y="120.18" width="3.35" height="3.31" fill="#0083ff"/>
<rect x="235.04" y="120.18" width="3.35" height="3.31" fill="#0080ff"/>
<rect x="238.19" y="120.18" width="3.35" height="3.31" fill="#007eff"/>
<rect x="241.35" y="120.18" width="3.35" height="3.31" fill="#007dff"/>
<rect x="244.5" y="120.18" width="3.35" height="3.31" fill="#007dff"/>
<rect x="194.05" y="123.28" width="3.35" height="3.31" fill="#00b9ff"/>
<rect x="197.2" y="123.28" width="3.35" height="3.31" fill="#00b9ff"/>
<rect x="200.35" y="123.28" width="3.35" height="3.31" fill="#00b8ff"/>
<rect x="203.51" y="123.28" width="3.35" height="3.31" fill="#00b6ff"/>
<rect x="206.66" y="123.28" width="3.35" height="3.31" fill="#00b2ff"/>
<rect x="209.81" y="123.28" width="3.35" height="3.31" fill="#00adff"/>
<rect x="212.97" y="123.28" width="3.35" height="3.31" fill="#00a6ff"/>
<rect x="216.12" y="123.28" width="3.35" height="3.31" fill="#00a0ff"/>
<rect x="219.27" y="123.28" width="3.35" height="3.31" fill="#0099ff"/>
<rect x="222.43" y="123.28" width="3.35" height="3.31" fill="#0092ff"/>
<rect x="225.58" y="123.28" width="3.35" height="3.31" fill="#008cff"/>
<rect x="228.73" y="123.28" width="3.35" height="3.31" fill="#0086ff"/>
<rect x="231.89" y="123.28" width="3.35" height="3.31" fill="#0081ff"/>
<rect x="235.04" y="123.28" width="3.35" height="3.31" fill="#007dff"/>
<rect x="238.19" y="123.28" width="3.35" height="3.31" fill="#007aff"/>
<rect x="241.35" y="123.28" width="3.35" height="3.31" fill="#0079ff"/>
<rect x="244.5" y="123.28" width="3.35" height="3.31" fill="#0079ff"/>
<rect x="194.05" y="126.39" width="3.35" height="3.31" fill="#00c6ff"/>
<rect x="197.2" y="126.39" width="3.35" height="3.31" fill="#00c6ff"/>
<rect x="200.35" y="126.39" width="3.35" height="3.31" fill="#00c5ff"/>
<rect x="203.51" y="126.39" width="3.35" height="3.31" fill="#00c2ff"/>
<rect x="206.66" y="126.39" width="3.35" height="3.31" fill="#00bdff"/>
<rect x="209.81" y="126.39" width="3.35" height="3.31" fill="#00b6ff"/>
<rect x="212.97" y="126.39" width="3.35" height="3.31" fill="#00aeff"/>
<rect x="216.12" y="126.39" width="3.35" height="3.31" fill="#00a6ff"/>
<rect x="219.27" y="126.39" width="3.35" height="3.31" fill="#009dff"/>
<rect x="222.43" y="126.39" width="3.35" height="3.31" fill="#0094ff"/>
<rect x="225.58" y="126.39" width="3.35" height="3.31" fill="#008cff"/>
<rect x="228.73" y="126.39" width="3.35" height="3.31" fill="#0084ff"/>
<rect x="231.89" y="126.39" width="3.35" height="3.31" fill="#007eff"/>
<rect x="235.04" y="126.39" width="3.35" height="3.31" fill="#0078ff"/>
<rect x="238.19" y="126.39" width="3.35" height="3.31" fill="#0075ff"/>
<rect x="241.35" y="126.39" width="3.35" height="3.31" fill="#0073ff"/>
<rect x="244.5" y="126.39" width="3.35" height="3.31" fill="#0073ff"/>
<rect x="194.05" y="129.5" width="3.35" height="3.31" fill="#00d5ff"/>
<rect x="197.2" y="129.5" width="3.35" height="3.31" fill="#00d5ff"/>
<rect x="200.35" y="129.5" width="3.35" height="3.31" fill="#00d4ff"/>
<rect x="203.51" y="129.5" width="3.35" height="3.31" fill="#00d0ff"/>
<rect x="206.66" y="129.5" width="3.35" height="3.31" fill="#00caff"/>
<rect x="209.81" y="129.5" width="3.35" height="3.31" fill="#00c1ff"/>
<rect x="212.97" y="129.5" width="3.35" height="3.31" fill="#00b7ff"/>
<rect x="216.12" y="129.5" width="3.35" height="3.31" fill="#00adff"/>
<rect x="219.27" y="129.5" width="3.35" height="3.31" fill="#00a2ff"/>
<rect x="222.43" y="129.5" width="3.35" height="3.31" fill="#0097ff"/>
<rect x="225.58" y="129.5" width="3.35" height="3.31" fill="#008cff"/>
<rect x="228.73" y="129.5" width="3.35" height="3.31" fill="#0082ff"/>
<rect x="231.89" y="129.5" width="3.35" height="3.31" fill="#0079ff"/>
<rect x="235.04" y="129.5" width="3.35" height="3.31" fill="#0072ff"/>
<rect x="238.19" y="129.5" width="3.35" height="3.31" fill="#006eff"/>
<rect x="241.35" y="129.5" width="3.35" height="3.31" fill="#006cff"/>
<rect x="244.5" y="129.5" width="3.35" height="3.31" fill="#006cff"/>
<rect x="194.05" y="132.61" width="3.35" height="3.31" fill="#00e6ff"/>
<rect x="197.2" y="132.61" width="3.35" height="3.31" fill="#00e6ff"/>
<rect x="200.35" y="132.61" width="3.35" height="3.31" fill="#00e5ff"/>
<rect x="203.51" y="132.61" width="3.35" height="3.31" fill="#00e0ff"/>
<rect x="206.66" y="132.61" width="3.35" height="3.31" fill="#00d8ff"/>
<rect x="209.81" y="132.61" width="3.35" height="3.31" fill="#00cdff"/>
<rect x="212.97" y="132.61" width="3.35" height="3.31" fill="#00c1ff"/>
<rect x="216.12" y="132.61" width="3.35" height="3.31" fill="#00b4ff"/>
<rect x="219.27" y="132.61" width="3.35" height="3.31" fill="#00a6ff"/>
<rect x="222.43" y="132.61" width="3.35" height="3.31" fill="#0098ff"/>
<rect x="225.58" y="132.61" width="3.35" height="3.31" fill="#008bff"/>
<rect x="228.73" y="132.61" width="3.35" height="3.31" fill="#007eff"/>
<rect x="231.89" y="132.61" width="3.35" height="3.31" fill="#0073ff"/>
<rect x="235.04" y="132.61" width="3.35" height="3.31" fill="#006aff"/>
<rect x="238.19" y="132.61" width="3.35" height="3.31" fill="#0064ff"/>
<rect x="241.35" y="132.61" width="3.35" height="3.31" fill="#0062ff"/>
<rect x="244.5" y="132.61" width="3.35" height="3.31" fill="#0062ff"/>
<rect x="194.05" y="135.72" width="3.35" height="3.31" fill="#00f9ff"/>
<rect x="197.2" y="135.72" width="3.35" height="3.31" fill="#00f9ff"/>
<rect x="200.35" y="135.72" width="3.35" height="3.31" fill="#00f7ff"/>
<rect x="203.51" y="135.72" width="3.35" height="3.31" fill="#00f1ff"/>
<rect x="206.66" y="135.72" width="3.35" height="3.31" fill="#00e7ff"/>
<rect x="209.81" y="135.72" width="3.35" height="3.31" fill="#00daff"/>
<rect x="212.97" y="135.72" width="3.35" height="3.31" fill="#00ccff"/>
<rect x="216.12" y="135.72" width="3.35" height="3.31" fill="#00bbff"/>
<rect x="219.27" y="135.72" width="3.35" height="3.31" fill="#00aaff"/>
<rect x="222.43" y="135.72" width="3.35" height="3.31" fill="#0099ff"/>
<rect x="225.58" y="135.72" width="3.35" height="3.31" fill="#0088ff"/>
<rect x="228.73" y="135.72" width="3.35" height="3.31" fill="#0078ff"/>
<rect x="231.89" y="135.72" width="3.35" height="3.31" fill="#006aff"/>
<rect x="235.04" y="135.72" width="3.35" height="3.31" fill="#005fff"/>
<rect x="238.19" y="135.72" width="3.35" height="3.31" fill="#0059ff"/>
<rect x="241.35" y="135.72" width="3.35" height="3.31" fill="#0057ff"/>
<rect x="244.5" y="135.72" width="3.35" height="3.31" fill="#0057ff"/>
<rect x="194.05" y="138.83" width="3.35" height="3.31" fill="#0efff0"/>
<rect x="197.2" y="138.83" width="3.35" height="3.31" fill="#0efff0"/>
<rect x="200.35" y="138.83" width="3.35" height="3.31" fill="#0cfff2"/>
<rect x="203.51" y="138.83" width="3.35" height="3.31" fill="#04fffa"/>
<rect x="206.66" y="138.83" width="3.35" height="3.31" fill="#00f7ff"/>
<rect x="209.81" y="138.83" width="3.35" height="3.31" fill="#00e8ff"/>
<rect x="212.97" y="138.83" width="3.35" height="3.31" fill="#00d6ff"/>
<rect x="216.12" y="138.83" width="3.35" height="3.31" fill="#00c3ff"/>
<rect x="219.27" y="138.83" width="3.35" height="3.31" fill="#00aeff"/>
<rect x="222.43" y="138.83" width="3.35" height="3.31" fill="#009aff"/>
<rect x="225.58" y="138.83" width="3.35" height="3.31" fill="#0085ff"/>
<rect x="228.73" y="138.83" width="3.35" height="3.31" fill="#0071ff"/>
<rect x="231.89" y="138.83" width="3.35" height="3.31" fill="#0060ff"/>
<rect x="235.04" y="138.83" width="3.35" height="3.31" fill="#0053ff"/>
<rect x="238.19" y="138.83" width="3.35" height="3.31" fill="#004bff"/>
<rect x="241.35" y="138.83" width="3.35" height="3.31" fill="#0048ff"/>
<rect x="244.5" y="138.83" width="3.35" height="3.31" fill="#0048ff"/>
<rect x="194.05" y="141.93" width="3.35" height="3.31" fill="#25ffd9"/>
<rect x="197.2" y="141.93" width="3.35" height="3.31" fill="#25ffd9"/>
<rect x="200.35" y="141.93" width="3.35" height="3.31" fill="#21ffdd"/>
<rect x="203.51" y="141.93" width="3.35" height="3.31" fill="#17ffe7"/>
<rect x="206.66" y="141.93" width="3.35" height="3.31" fill="#09fff5"/>
<rect x="209.81" y="141.93" width="3.35" height="3.31" fill="#00f5ff"/>
<rect x="212.97" y="141.93" width="3.35" height="3.31" fill="#00e1ff"/>
<rect x="216.12" y="141.93" width="3.35" height="3.31" fill="#00caff"/>
<rect x="219.27" y="141.93" width="3.35" height="3.31" fill="#00b2ff"/>
<rect x="222.43" y="141.93" width="3.35" height="3.31" fill="#0099ff"/>
<rect x="225.58" y="141.93" width="3.35" height="3.31" fill="#0080ff"/>
<rect x="228.73" y="141.93" width="3.35" height="3.31" fill="#0069ff"/>
<rect x="231.89" y="141.93" width="3.35" height="3.31" fill="#0054ff"/>
<rect x="235.04" y="141.93" width="3.35" height="3.31" fill="#0044ff"/>
<rect x="238.19" y="141.93" width="3.35" height="3.31" fill="#003aff"/>
<rect x="241.35" y="141.93" width="3.35" height="3.31" fill="#0038ff"/>
<rect x="244.5" y="141.93" width="3.35" height="3.31" fill="#0038ff"/>
<rect x="194.05" y="145.04" width="3.35" height="3.31" fill="#41ffbd"/>
<rect x="197.2" y="145.04" width="3.35" height="3.31" fill="#41ffbd"/>
<rect x="200.35" y="145.04" width="3.35" height="3.31" fill="#3bffc3"/>
<rect x="203.51" y="145.04" width="3.35" height="3.31" fill="#2dffd1"/>
<rect x="206.66" y="145.04" width="3.35" height="3.31" fill="#1affe4"/>
<rect x="209.81" y="145.04" width="3.35" height="3.31" fill="#04fffa"/>
<rect x="212.97" y="145.04" width="3.35" height="3.31" fill="#00eaff"/>
<rect x="216.12" y="145.04" width="3.35" height="3.31" fill="#00d0ff"/>
<rect x="219.27" y="145.04" width="3.35" height="3.31" fill="#00b4ff"/>
<rect x="222.43" y="145.04" width="3.35" height="3.31" fill="#0097ff"/>
<rect x="225.58" y="145.04" width="3.35" height="3.31" fill="#007aff"/>
<rect x="228.73" y="145.04" width="3.35" height="3.31" fill="#005eff"/>
<rect x="231.89" y="145.04" width="3.35" height="3.31" fill="#0046ff"/>
<rect x="235.04" y="145.04" width="3.35" height="3.31" fill="#0034ff"/>
<rect x="238.19" y="145.04" width="3.35" height="3.31" fill="#0029ff"/>
<rect x="241.35" y="145.04" width="3.35" height="3.31" fill="#0027ff"/>
<rect x="244.5" y="145.04" width="3.35" height="3.31" fill="#0027ff"/>
<rect x="194.05" y="148.15" width="3.35" height="3.31" fill="#67ff97"/>
<rect x="197.2" y="148.15" width="3.35" height="3.31" fill="#67ff97"/>
<rect x="200.35" y="148.15" width="3.35" height="3.31" fill="#5cffa2"/>
<rect x="203.51" y="148.15" width="3.35" height="3.31" fill="#46ffb8"/>
<rect x="206.66" y="148.15" width="3.35" height="3.31" fill="#2cffd2"/>
<rect x="209.81" y="148.15" width="3.35" height="3.31" fill="#11ffed"/>
<rect x="212.97" y="148.15" width="3.35" height="3.31" fill="#00f4ff"/>
<rect x="216.12" y="148.15" width="3.35" height="3.31" fill="#00d6ff"/>
<rect x="219.27" y="148.15" width="3.35" height="3.31" fill="#00b6ff"/>
<rect x="222.43" y="148.15" width="3.35" height="3.31" fill="#0094ff"/>
<rect x="225.58" y="148.15" width="3.35" height="3.31" fill="#0073ff"/>
<rect x="228.73" y="148.15" width="3.35" height="3.31" fill="#0053ff"/>
<rect x="231.89" y="148.15" width="3.35" height="3.31" fill="#0037ff"/>
<rect x="235.04" y="148.15" width="3.35" height="3.31" fill="#0022ff"/>
<rect x="238.19" y="148.15" width="3.35" height="3.31" fill="#0016ff"/>
<rect x="241.35" y="148.15" width="3.35" height="3.31" fill="#0015ff"/>
<rect x="244.5" y="148.15" width="3.35" height="3.31" fill="#0015ff"/>
<rect x="194.05" y="151.26" width="3.35" height="3.31" fill="#9dff61"/>
<rect x="197.2" y="151.26" width="3.35" height="3.31" fill="#9cff62"/>
<rect x="200.35" y="151.26" width="3.35" height="3.31" fill="#89ff75"/>
<rect x="203.51" y="151.26" width="3.35" height="3.31" fill="#65ff99"/>
<rect x="206.66" y="151.26" width="3.35" height="3.31" fill="#40ffbe"/>
<rect x="209.81" y="151.26" width="3.35" height="3.31" fill="#1effe0"/>
<rect x="212.97" y="151.26" width="3.35" height="3.31" fill="#00fcff"/>
<rect x="216.12" y="151.26" width="3.35" height="3.31" fill="#00daff"/>
<rect x="219.27" y="151.26" width="3.35" height="3.31" fill="#00b6ff"/>
<rect x="222.43" y="151.26" width="3.35" height="3.31" fill="#0091ff"/>
<rect x="225.58" y="151.26" width="3.35" height="3.31" fill="#006bff"/>
<rect x="228.73" y="151.26" width="3.35" height="3.31" fill="#0047ff"/>
<rect x="231.89" y="151.26" width="3.35" height="3.31" fill="#0028ff"/>
<rect x="235.04" y="151.26" width="3.35" height="3.31" fill="#0011ff"/>
<rect x="238.19" y="151.26" width="3.35" height="3.31" fill="#0004ff"/>
<rect x="241.35" y="151.26" width="3.35" height="3.31" fill="#0003ff"/>
<rect x="244.5" y="151.26" width="3.35" height="3.31" fill="#0003ff"/>
<rect x="194.05" y="154.37" width="3.35" height="3.31" fill="#e6ff18"/>
<rect x="197.2" y="154.37" width="3.35" height="3.31" fill="#e4ff1a"/>
<rect x="200.35" y="154.37" width="3.35" height="3.31" fill="#c2ff3c"/>
<rect x="203.51" y="154.37" width="3.35" height="3.31" fill="#8aff74"/>
<rect x="206.66" y="154.37" width="3.35" height="3.31" fill="#55ffa9"/>
<rect x="209.81" y="154.37" width="3.35" height="3.31" fill="#29ffd5"/>
<rect x="212.97" y="154.37" width="3.35" height="3.31" fill="#03fffb"/>
<rect x="216.12" y="154.37" width="3.35" height="3.31" fill="#00ddff"/>
<rect x="219.27" y="154.37" width="3.35" height="3.31" fill="#00b6ff"/>
<rect x="222.43" y="154.37" width="3.35" height="3.31" fill="#008dff"/>
<rect x="225.58" y="154.37" width="3.35" height="3.31" fill="#0063ff"/>
<rect x="228.73" y="154.37" width="3.35" height="3.31" fill="#003cff"/>
<rect x="231.89" y="154.37" width="3.35" height="3.31" fill="#001aff"/>
<rect x="235.04" y="154.37" width="3.35" height="3.31" fill="#0001ff"/>
<rect x="238.19" y="154.37" width="3.35" height="3.31" fill="#0000f3"/>
<rect x="241.35" y="154.37" width="3.35" height="3.31" fill="#0000f1"/>
<rect x="244.5" y="154.37" width="3.35" height="3.31" fill="#0000f1"/>
<rect x="194.05" y="157.48" width="3.35" height="3.31" fill="#ffbf00"/>
<rect x="197.2" y="157.48" width="3.35" height="3.31" fill="#ffc400"/>
<rect x="200.35" y="157.48" width="3.35" height="3.31" fill="#fff900"/>
<rect x="203.51" y="157.48" width="3.35" height="3.31" fill="#b2ff4c"/>
<rect x="206.66" y="157.48" width="3.35" height="3.31" fill="#68ff96"/>
<rect x="209.81" y="157.48" width="3.35" height="3.31" fill="#33ffcb"/>
<rect x="212.97" y="157.48" width="3.35" height="3.31" fill="#08fff6"/>
<rect x="216.12" y="157.48" width="3.35" height="3.31" fill="#00deff"/>
<rect x="219.27" y="157.48" width="3.35" height="3.31" fill="#00b4ff"/>
<rect x="222.43" y="157.48" width="3.35" height="3.31" fill="#0088ff"/>
<rect x="225.58" y="157.48" width="3.35" height="3.31" fill="#005cff"/>
<rect x="228.73" y="157.48" width="3.35" height="3.31" fill="#0032ff"/>
<rect x="231.89" y="157.48" width="3.35" height="3.31" fill="#000eff"/>
<rect x="235.04" y="157.48" width="3.35" height="3.31" fill="#0000f2"/>
<rect x="238.19" y="157.48" width="3.35" height="3.31" fill="#0000e5"/>
<rect x="241.35" y="157.48" width="3.35" height="3.31" fill="#0000e4"/>
<rect x="244.5" y="157.48" width="3.35" height="3.31" fill="#0000e4"/>
<rect x="194.05" y="160.58" width="3.35" height="3.31" fill="#ff6d00"/>
<rect x="197.2" y="160.58" width="3.35" height="3.31" fill="#ff7500"/>
<rect x="200.35" y="160.58" width="3.35" height="3.31" fill="#ffbf00"/>
<rect x="203.51" y="160.58" width="3.35" height="3.31" fill="#d2ff2c"/>
<rect x="206.66" y="160.58" width="3.35" height="3.31" fill="#77ff87"/>
<rect x="209.81" y="160.58" width="3.35" height="3.31" fill="#39ffc5"/>
<rect x="212.97" y="160.58" width="3.35" height="3.31" fill="#0afff4"/>
<rect x="216.12" y="160.58" width="3.35" height="3.31" fill="#00deff"/>
<rect x="219.27" y="160.58" width="3.35" height="3.31" fill="#00b2ff"/>
<rect x="222.43" y="160.58" width="3.35" height="3.31" fill="#0084ff"/>
<rect x="225.58" y="160.58" width="3.35" height="3.31" fill="#0056ff"/>
<rect x="228.73" y="160.58" width="3.35" height="3.31" fill="#002aff"/>
<rect x="231.89" y="160.58" width="3.35" height="3.31" fill="#0004ff"/>
<rect x="235.04" y="160.58" width="3.35" height="3.31" fill="#0000e8"/>
<rect x="238.19" y="160.58" width="3.35" height="3.31" fill="#0000db"/>
<rect x="241.35" y="160.58" width="3.35" height="3.31" fill="#0000da"/>
<rect x="244.5" y="160.58" width="3.35" height="3.31" fill="#0000da"/>
<rect x="194.05" y="163.69" width="3.35" height="3.31" fill="#ff3a00"/>
<rect x="197.2" y="163.69" width="3.35" height="3.31" fill="#ff4600"/>
<rect x="200.35" y="163.69" width="3.35" height="3.31" fill="#ffa000"/>
<rect x="203.51" y="163.69" width="3.35" height="3.31" fill="#e2ff1c"/>
<rect x="206.66" y="163.69" width="3.35" height="3.31" fill="#7dff81"/>
<rect x="209.81" y="163.69" width="3.35" height="3.31" fill="#3bffc3"/>
<rect x="212.97" y="163.69" width="3.35" height="3.31" fill="#0afff4"/>
<rect x="216.12" y="163.69" width="3.35" height="3.31" fill="#00ddff"/>
<rect x="219.27" y="163.69" width="3.35" height="3.31" fill="#00b0ff"/>
<rect x="222.43" y="163.69" width="3.35" height="3.31" fill="#0080ff"/>
<rect x="225.58" y="163.69" width="3.35" height="3.31" fill="#0051ff"/>
<rect x="228.73" y="163.69" width="3.35" height="3.31" fill="#0024ff"/>
<rect x="231.89" y="163.69" width="3.35" height="3.31" fill="#0000fd"/>
<rect x="235.04" y="163.69" width="3.35" height="3.31" fill="#0000e2"/>
<rect x="238.19" y="163.69" width="3.35" height="3.31" fill="#0000d5"/>
<rect x="241.35" y="163.69" width="3.35" height="3.31" fill="#0000d5"/>
<rect x="244.5" y="163.69" width="3.35" height="3.31" fill="#0000d5"/>
<rect x="194.05" y="166.8" width="3.35" height="3.31" fill="#ff3300"/>
<rect x="197.2" y="166.8" width="3.35" height="3.31" fill="#ff4100"/>
<rect x="200.35" y="166.8" width="3.35" height="3.31" fill="#ff9f00"/>
<rect x="203.51" y="166.8" width="3.35" height="3.31" fill="#e1ff1d"/>
<rect x="206.66" y="166.8" width="3.35" height="3.31" fill="#7cff82"/>
<rect x="209.81" y="166.8" width="3.35" height="3.31" fill="#3affc4"/>
<rect x="212.97" y="166.8" width="3.35" height="3.31" fill="#09fff5"/>
<rect x="216.12" y="166.8" width="3.35" height="3.31" fill="#00dcff"/>
<rect x="219.27" y="166.8" width="3.35" height="3.31" fill="#00aeff"/>
<rect x="222.43" y="166.8" width="3.35" height="3.31" fill="#007fff"/>
<rect x="225.58" y="166.8" width="3.35" height="3.31" fill="#004fff"/>
<rect x="228.73" y="166.8" width="3.35" height="3.31" fill="#0022ff"/>
<rect x="231.89" y="166.8" width="3.35" height="3.31" fill="#0000fb"/>
<rect x="235.04" y="166.8" width="3.35" height="3.31" fill="#0000e1"/>
<rect x="238.19" y="166.8" width="3.35" height="3.31" fill="#0000d5"/>
<rect x="241.35" y="166.8" width="3.35" height="3.31" fill="#0000d5"/>
<rect x="244.5" y="166.8" width="3.35" height="3.31" fill="#0000d5"/>
</g>
</g>
<rect x="192.2" y="89.9" width="57.2" height="78.9" fill="none" stroke="#8a8a8a" stroke-width="0.85"/>
<line x1="190.9" y1="166.4" x2="192.2" y2="166.4" stroke="#444" stroke-width="0.45" />
<text x="190.4" y="168" font-size="4.7" text-anchor="end" fill="#111" stroke="#111" stroke-width="0.14" >0.0</text>
<line x1="190.9" y1="155.19" x2="192.2" y2="155.19" stroke="#444" stroke-width="0.45" />
<text x="190.4" y="156.78" font-size="4.7" text-anchor="end" fill="#111" stroke="#111" stroke-width="0.14" >0.5</text>
<line x1="190.9" y1="143.97" x2="192.2" y2="143.97" stroke="#444" stroke-width="0.45" />
<text x="190.4" y="145.57" font-size="4.7" text-anchor="end" fill="#111" stroke="#111" stroke-width="0.14" >1.0</text>
<line x1="190.9" y1="132.75" x2="192.2" y2="132.75" stroke="#444" stroke-width="0.45" />
<text x="190.4" y="134.35" font-size="4.7" text-anchor="end" fill="#111" stroke="#111" stroke-width="0.14" >1.5</text>
<line x1="190.9" y1="121.54" x2="192.2" y2="121.54" stroke="#444" stroke-width="0.45" />
<text x="190.4" y="123.14" font-size="4.7" text-anchor="end" fill="#111" stroke="#111" stroke-width="0.14" >2.0</text>
<line x1="190.9" y1="110.33" x2="192.2" y2="110.33" stroke="#444" stroke-width="0.45" />
<text x="190.4" y="111.92" font-size="4.7" text-anchor="end" fill="#111" stroke="#111" stroke-width="0.14" >2.5</text>
<line x1="190.9" y1="99.11" x2="192.2" y2="99.11" stroke="#444" stroke-width="0.45" />
<text x="190.4" y="100.71" font-size="4.7" text-anchor="end" fill="#111" stroke="#111" stroke-width="0.14" >3.0</text>
<line x1="197.4" y1="168.8" x2="197.4" y2="170.1" stroke="#444" stroke-width="0.45" />
<text x="197.4" y="174.8" font-size="4.7" text-anchor="middle" fill="#111" stroke="#111" stroke-width="0.14" >0</text>
<line x1="220" y1="168.8" x2="220" y2="170.1" stroke="#444" stroke-width="0.45" />
<text x="220" y="174.8" font-size="4.7" text-anchor="middle" fill="#111" stroke="#111" stroke-width="0.14" >1</text>
<line x1="242.5" y1="168.8" x2="242.5" y2="170.1" stroke="#444" stroke-width="0.45" />
<text x="242.5" y="174.8" font-size="4.7" text-anchor="middle" fill="#111" stroke="#111" stroke-width="0.14" >2</text>
<linearGradient id="jg0" x1="0" y1="1" x2="0" y2="0">
<stop offset="0" stop-color="#00007f"/>
<stop offset="0.1" stop-color="#0000e5"/>
<stop offset="0.2" stop-color="#004cff"/>
<stop offset="0.3" stop-color="#00b2ff"/>
<stop offset="0.4" stop-color="#19ffe5"/>
<stop offset="0.5" stop-color="#7fff7f"/>
<stop offset="0.6" stop-color="#e5ff19"/>
<stop offset="0.7" stop-color="#ffb200"/>
<stop offset="0.8" stop-color="#ff4c00"/>
<stop offset="0.9" stop-color="#e50000"/>
<stop offset="1" stop-color="#7f0000"/>
</linearGradient>
<rect x="253" y="90.3" width="4.3" height="78.5" fill="url(#jg0)" stroke="#444" stroke-width="0.45"/>
<line x1="257.3" y1="101.7" x2="258.5" y2="101.7" stroke="#444" stroke-width="0.45" />
<text x="259.1" y="103.3" font-size="4.7" text-anchor="start" fill="#111" stroke="#111" stroke-width="0.14" >0.006</text>
<line x1="257.3" y1="117" x2="258.5" y2="117" stroke="#444" stroke-width="0.45" />
<text x="259.1" y="118.6" font-size="4.7" text-anchor="start" fill="#111" stroke="#111" stroke-width="0.14" >0.004</text>
<line x1="257.3" y1="132.9" x2="258.5" y2="132.9" stroke="#444" stroke-width="0.45" />
<text x="259.1" y="134.5" font-size="4.7" text-anchor="start" fill="#111" stroke="#111" stroke-width="0.14" >0.002</text>
<line x1="257.3" y1="148.4" x2="258.5" y2="148.4" stroke="#444" stroke-width="0.45" />
<text x="259.1" y="150" font-size="4.7" text-anchor="start" fill="#111" stroke="#111" stroke-width="0.14" >0.000</text>
<line x1="257.3" y1="163.8" x2="258.5" y2="163.8" stroke="#444" stroke-width="0.45" />
<text x="259.1" y="165.4" font-size="4.7" text-anchor="start" fill="#111" stroke="#111" stroke-width="0.14" >−0.002</text>
<rect x="206" y="246.5" width="69.35" height="8.7" fill="#fff"/>
<rect x="188" y="255" width="87.35" height="95.45" fill="#fff"/>
<text x="226.7" y="253.1" font-size="7.2" text-anchor="middle" fill="#111" stroke="#111" stroke-width="0.18" >Vertical strain</text>
<clipPath id="hq1"><polygon points="199.1,330.5 244.1,330.5 248,269.7 203.3,266.8"/></clipPath>
<filter id="hb1" x="-10%" y="-10%" width="120%" height="120%"><feGaussianBlur stdDeviation="1.1"/></filter>
<g clip-path="url(#hq1)"><g filter="url(#hb1)" shape-rendering="crispEdges">
<rect x="195.84" y="264.15" width="3.46" height="2.85" fill="#00c6ff"/>
<rect x="199.1" y="264.15" width="3.46" height="2.85" fill="#00c6ff"/>
<rect x="202.36" y="264.15" width="3.46" height="2.85" fill="#00c6ff"/>
<rect x="205.62" y="264.15" width="3.46" height="2.85" fill="#00c4ff"/>
<rect x="208.88" y="264.15" width="3.46" height="2.85" fill="#00c2ff"/>
<rect x="212.14" y="264.15" width="3.46" height="2.85" fill="#00bfff"/>
<rect x="215.4" y="264.15" width="3.46" height="2.85" fill="#00bcff"/>
<rect x="218.66" y="264.15" width="3.46" height="2.85" fill="#00b8ff"/>
<rect x="221.92" y="264.15" width="3.46" height="2.85" fill="#00b5ff"/>
<rect x="225.18" y="264.15" width="3.46" height="2.85" fill="#00b2ff"/>
<rect x="228.44" y="264.15" width="3.46" height="2.85" fill="#00afff"/>
<rect x="231.7" y="264.15" width="3.46" height="2.85" fill="#00acff"/>
<rect x="234.96" y="264.15" width="3.46" height="2.85" fill="#00a9ff"/>
<rect x="238.22" y="264.15" width="3.46" height="2.85" fill="#00a6ff"/>
<rect x="241.48" y="264.15" width="3.46" height="2.85" fill="#00a2ff"/>
<rect x="244.74" y="264.15" width="3.46" height="2.85" fill="#009fff"/>
<rect x="248" y="264.15" width="3.46" height="2.85" fill="#009eff"/>
<rect x="195.84" y="266.8" width="3.46" height="2.85" fill="#00c7ff"/>
<rect x="199.1" y="266.8" width="3.46" height="2.85" fill="#00c7ff"/>
<rect x="202.36" y="266.8" width="3.46" height="2.85" fill="#00c7ff"/>
<rect x="205.62" y="266.8" width="3.46" height="2.85" fill="#00c5ff"/>
<rect x="208.88" y="266.8" width="3.46" height="2.85" fill="#00c3ff"/>
<rect x="212.14" y="266.8" width="3.46" height="2.85" fill="#00c0ff"/>
<rect x="215.4" y="266.8" width="3.46" height="2.85" fill="#00bdff"/>
<rect x="218.66" y="266.8" width="3.46" height="2.85" fill="#00b9ff"/>
<rect x="221.92" y="266.8" width="3.46" height="2.85" fill="#00b6ff"/>
<rect x="225.18" y="266.8" width="3.46" height="2.85" fill="#00b3ff"/>
<rect x="228.44" y="266.8" width="3.46" height="2.85" fill="#00b0ff"/>
<rect x="231.7" y="266.8" width="3.46" height="2.85" fill="#00adff"/>
<rect x="234.96" y="266.8" width="3.46" height="2.85" fill="#00a9ff"/>
<rect x="238.22" y="266.8" width="3.46" height="2.85" fill="#00a6ff"/>
<rect x="241.48" y="266.8" width="3.46" height="2.85" fill="#00a2ff"/>
<rect x="244.74" y="266.8" width="3.46" height="2.85" fill="#009fff"/>
<rect x="248" y="266.8" width="3.46" height="2.85" fill="#009dff"/>
<rect x="195.84" y="269.45" width="3.46" height="2.85" fill="#00caff"/>
<rect x="199.1" y="269.45" width="3.46" height="2.85" fill="#00caff"/>
<rect x="202.36" y="269.45" width="3.46" height="2.85" fill="#00caff"/>
<rect x="205.62" y="269.45" width="3.46" height="2.85" fill="#00c9ff"/>
<rect x="208.88" y="269.45" width="3.46" height="2.85" fill="#00c7ff"/>
<rect x="212.14" y="269.45" width="3.46" height="2.85" fill="#00c3ff"/>
<rect x="215.4" y="269.45" width="3.46" height="2.85" fill="#00c0ff"/>
<rect x="218.66" y="269.45" width="3.46" height="2.85" fill="#00bbff"/>
<rect x="221.92" y="269.45" width="3.46" height="2.85" fill="#00b7ff"/>
<rect x="225.18" y="269.45" width="3.46" height="2.85" fill="#00b4ff"/>
<rect x="228.44" y="269.45" width="3.46" height="2.85" fill="#00b1ff"/>
<rect x="231.7" y="269.45" width="3.46" height="2.85" fill="#00adff"/>
<rect x="234.96" y="269.45" width="3.46" height="2.85" fill="#00aaff"/>
<rect x="238.22" y="269.45" width="3.46" height="2.85" fill="#00a6ff"/>
<rect x="241.48" y="269.45" width="3.46" height="2.85" fill="#00a1ff"/>
<rect x="244.74" y="269.45" width="3.46" height="2.85" fill="#009eff"/>
<rect x="248" y="269.45" width="3.46" height="2.85" fill="#009dff"/>
<rect x="195.84" y="272.11" width="3.46" height="2.85" fill="#00cfff"/>
<rect x="199.1" y="272.11" width="3.46" height="2.85" fill="#00cfff"/>
<rect x="202.36" y="272.11" width="3.46" height="2.85" fill="#00cfff"/>
<rect x="205.62" y="272.11" width="3.46" height="2.85" fill="#00ceff"/>
<rect x="208.88" y="272.11" width="3.46" height="2.85" fill="#00ccff"/>
<rect x="212.14" y="272.11" width="3.46" height="2.85" fill="#00c8ff"/>
<rect x="215.4" y="272.11" width="3.46" height="2.85" fill="#00c3ff"/>
<rect x="218.66" y="272.11" width="3.46" height="2.85" fill="#00beff"/>
<rect x="221.92" y="272.11" width="3.46" height="2.85" fill="#00b9ff"/>
<rect x="225.18" y="272.11" width="3.46" height="2.85" fill="#00b5ff"/>
<rect x="228.44" y="272.11" width="3.46" height="2.85" fill="#00b2ff"/>
<rect x="231.7" y="272.11" width="3.46" height="2.85" fill="#00aeff"/>
<rect x="234.96" y="272.11" width="3.46" height="2.85" fill="#00aaff"/>
<rect x="238.22" y="272.11" width="3.46" height="2.85" fill="#00a5ff"/>
<rect x="241.48" y="272.11" width="3.46" height="2.85" fill="#00a1ff"/>
<rect x="244.74" y="272.11" width="3.46" height="2.85" fill="#009dff"/>
<rect x="248" y="272.11" width="3.46" height="2.85" fill="#009cff"/>
<rect x="195.84" y="274.76" width="3.46" height="2.85" fill="#00d4ff"/>
<rect x="199.1" y="274.76" width="3.46" height="2.85" fill="#00d4ff"/>
<rect x="202.36" y="274.76" width="3.46" height="2.85" fill="#00d5ff"/>
<rect x="205.62" y="274.76" width="3.46" height="2.85" fill="#00d5ff"/>
<rect x="208.88" y="274.76" width="3.46" height="2.85" fill="#00d2ff"/>
<rect x="212.14" y="274.76" width="3.46" height="2.85" fill="#00cdff"/>
<rect x="215.4" y="274.76" width="3.46" height="2.85" fill="#00c8ff"/>
<rect x="218.66" y="274.76" width="3.46" height="2.85" fill="#00c1ff"/>
<rect x="221.92" y="274.76" width="3.46" height="2.85" fill="#00bcff"/>
<rect x="225.18" y="274.76" width="3.46" height="2.85" fill="#00b7ff"/>
<rect x="228.44" y="274.76" width="3.46" height="2.85" fill="#00b3ff"/>
<rect x="231.7" y="274.76" width="3.46" height="2.85" fill="#00afff"/>
<rect x="234.96" y="274.76" width="3.46" height="2.85" fill="#00aaff"/>
<rect x="238.22" y="274.76" width="3.46" height="2.85" fill="#00a5ff"/>
<rect x="241.48" y="274.76" width="3.46" height="2.85" fill="#009fff"/>
<rect x="244.74" y="274.76" width="3.46" height="2.85" fill="#009bff"/>
<rect x="248" y="274.76" width="3.46" height="2.85" fill="#009bff"/>
<rect x="195.84" y="277.42" width="3.46" height="2.85" fill="#00dcff"/>
<rect x="199.1" y="277.42" width="3.46" height="2.85" fill="#00dcff"/>
<rect x="202.36" y="277.42" width="3.46" height="2.85" fill="#00ddff"/>
<rect x="205.62" y="277.42" width="3.46" height="2.85" fill="#00ddff"/>
<rect x="208.88" y="277.42" width="3.46" height="2.85" fill="#00daff"/>
<rect x="212.14" y="277.42" width="3.46" height="2.85" fill="#00d5ff"/>
<rect x="215.4" y="277.42" width="3.46" height="2.85" fill="#00cdff"/>
<rect x="218.66" y="277.42" width="3.46" height="2.85" fill="#00c5ff"/>
<rect x="221.92" y="277.42" width="3.46" height="2.85" fill="#00beff"/>
<rect x="225.18" y="277.42" width="3.46" height="2.85" fill="#00b9ff"/>
<rect x="228.44" y="277.42" width="3.46" height="2.85" fill="#00b4ff"/>
<rect x="231.7" y="277.42" width="3.46" height="2.85" fill="#00afff"/>
<rect x="234.96" y="277.42" width="3.46" height="2.85" fill="#00aaff"/>
<rect x="238.22" y="277.42" width="3.46" height="2.85" fill="#00a4ff"/>
<rect x="241.48" y="277.42" width="3.46" height="2.85" fill="#009eff"/>
<rect x="244.74" y="277.42" width="3.46" height="2.85" fill="#0099ff"/>
<rect x="248" y="277.42" width="3.46" height="2.85" fill="#0099ff"/>
<rect x="195.84" y="280.07" width="3.46" height="2.85" fill="#00e4ff"/>
<rect x="199.1" y="280.07" width="3.46" height="2.85" fill="#00e4ff"/>
<rect x="202.36" y="280.07" width="3.46" height="2.85" fill="#00e6ff"/>
<rect x="205.62" y="280.07" width="3.46" height="2.85" fill="#00e7ff"/>
<rect x="208.88" y="280.07" width="3.46" height="2.85" fill="#00e4ff"/>
<rect x="212.14" y="280.07" width="3.46" height="2.85" fill="#00ddff"/>
<rect x="215.4" y="280.07" width="3.46" height="2.85" fill="#00d4ff"/>
<rect x="218.66" y="280.07" width="3.46" height="2.85" fill="#00caff"/>
<rect x="221.92" y="280.07" width="3.46" height="2.85" fill="#00c2ff"/>
<rect x="225.18" y="280.07" width="3.46" height="2.85" fill="#00bbff"/>
<rect x="228.44" y="280.07" width="3.46" height="2.85" fill="#00b5ff"/>
<rect x="231.7" y="280.07" width="3.46" height="2.85" fill="#00b0ff"/>
<rect x="234.96" y="280.07" width="3.46" height="2.85" fill="#00a9ff"/>
<rect x="238.22" y="280.07" width="3.46" height="2.85" fill="#00a2ff"/>
<rect x="241.48" y="280.07" width="3.46" height="2.85" fill="#009bff"/>
<rect x="244.74" y="280.07" width="3.46" height="2.85" fill="#0097ff"/>
<rect x="248" y="280.07" width="3.46" height="2.85" fill="#0096ff"/>
<rect x="195.84" y="282.73" width="3.46" height="2.85" fill="#00efff"/>
<rect x="199.1" y="282.73" width="3.46" height="2.85" fill="#00efff"/>
<rect x="202.36" y="282.73" width="3.46" height="2.85" fill="#00f1ff"/>
<rect x="205.62" y="282.73" width="3.46" height="2.85" fill="#00f3ff"/>
<rect x="208.88" y="282.73" width="3.46" height="2.85" fill="#00efff"/>
<rect x="212.14" y="282.73" width="3.46" height="2.85" fill="#00e6ff"/>
<rect x="215.4" y="282.73" width="3.46" height="2.85" fill="#00dbff"/>
<rect x="218.66" y="282.73" width="3.46" height="2.85" fill="#00cfff"/>
<rect x="221.92" y="282.73" width="3.46" height="2.85" fill="#00c5ff"/>
<rect x="225.18" y="282.73" width="3.46" height="2.85" fill="#00bdff"/>
<rect x="228.44" y="282.73" width="3.46" height="2.85" fill="#00b6ff"/>
<rect x="231.7" y="282.73" width="3.46" height="2.85" fill="#00b0ff"/>
<rect x="234.96" y="282.73" width="3.46" height="2.85" fill="#00a9ff"/>
<rect x="238.22" y="282.73" width="3.46" height="2.85" fill="#00a0ff"/>
<rect x="241.48" y="282.73" width="3.46" height="2.85" fill="#0098ff"/>
<rect x="244.74" y="282.73" width="3.46" height="2.85" fill="#0093ff"/>
<rect x="248" y="282.73" width="3.46" height="2.85" fill="#0093ff"/>
<rect x="195.84" y="285.38" width="3.46" height="2.85" fill="#00faff"/>
<rect x="199.1" y="285.38" width="3.46" height="2.85" fill="#00faff"/>
<rect x="202.36" y="285.38" width="3.46" height="2.85" fill="#00feff"/>
<rect x="205.62" y="285.38" width="3.46" height="2.85" fill="#01fffd"/>
<rect x="208.88" y="285.38" width="3.46" height="2.85" fill="#00fbff"/>
<rect x="212.14" y="285.38" width="3.46" height="2.85" fill="#00f1ff"/>
<rect x="215.4" y="285.38" width="3.46" height="2.85" fill="#00e3ff"/>
<rect x="218.66" y="285.38" width="3.46" height="2.85" fill="#00d5ff"/>
<rect x="221.92" y="285.38" width="3.46" height="2.85" fill="#00c9ff"/>
<rect x="225.18" y="285.38" width="3.46" height="2.85" fill="#00bfff"/>
<rect x="228.44" y="285.38" width="3.46" height="2.85" fill="#00b7ff"/>
<rect x="231.7" y="285.38" width="3.46" height="2.85" fill="#00b0ff"/>
<rect x="234.96" y="285.38" width="3.46" height="2.85" fill="#00a7ff"/>
<rect x="238.22" y="285.38" width="3.46" height="2.85" fill="#009eff"/>
<rect x="241.48" y="285.38" width="3.46" height="2.85" fill="#0094ff"/>
<rect x="244.74" y="285.38" width="3.46" height="2.85" fill="#008fff"/>
<rect x="248" y="285.38" width="3.46" height="2.85" fill="#008fff"/>
<rect x="195.84" y="288.03" width="3.46" height="2.85" fill="#07fff7"/>
<rect x="199.1" y="288.03" width="3.46" height="2.85" fill="#07fff7"/>
<rect x="202.36" y="288.03" width="3.46" height="2.85" fill="#0cfff2"/>
<rect x="205.62" y="288.03" width="3.46" height="2.85" fill="#0efff0"/>
<rect x="208.88" y="288.03" width="3.46" height="2.85" fill="#09fff5"/>
<rect x="212.14" y="288.03" width="3.46" height="2.85" fill="#00fbff"/>
<rect x="215.4" y="288.03" width="3.46" height="2.85" fill="#00ebff"/>
<rect x="218.66" y="288.03" width="3.46" height="2.85" fill="#00daff"/>
<rect x="221.92" y="288.03" width="3.46" height="2.85" fill="#00ccff"/>
<rect x="225.18" y="288.03" width="3.46" height="2.85" fill="#00c1ff"/>
<rect x="228.44" y="288.03" width="3.46" height="2.85" fill="#00b8ff"/>
<rect x="231.7" y="288.03" width="3.46" height="2.85" fill="#00b0ff"/>
<rect x="234.96" y="288.03" width="3.46" height="2.85" fill="#00a6ff"/>
<rect x="238.22" y="288.03" width="3.46" height="2.85" fill="#009aff"/>
<rect x="241.48" y="288.03" width="3.46" height="2.85" fill="#0090ff"/>
<rect x="244.74" y="288.03" width="3.46" height="2.85" fill="#008aff"/>
<rect x="248" y="288.03" width="3.46" height="2.85" fill="#008aff"/>
<rect x="195.84" y="290.69" width="3.46" height="2.85" fill="#13ffeb"/>
<rect x="199.1" y="290.69" width="3.46" height="2.85" fill="#13ffeb"/>
<rect x="202.36" y="290.69" width="3.46" height="2.85" fill="#1affe4"/>
<rect x="205.62" y="290.69" width="3.46" height="2.85" fill="#1cffe2"/>
<rect x="208.88" y="290.69" width="3.46" height="2.85" fill="#15ffe9"/>
<rect x="212.14" y="290.69" width="3.46" height="2.85" fill="#06fff8"/>
<rect x="215.4" y="290.69" width="3.46" height="2.85" fill="#00f2ff"/>
<rect x="218.66" y="290.69" width="3.46" height="2.85" fill="#00dfff"/>
<rect x="221.92" y="290.69" width="3.46" height="2.85" fill="#00cfff"/>
<rect x="225.18" y="290.69" width="3.46" height="2.85" fill="#00c3ff"/>
<rect x="228.44" y="290.69" width="3.46" height="2.85" fill="#00b9ff"/>
<rect x="231.7" y="290.69" width="3.46" height="2.85" fill="#00b0ff"/>
<rect x="234.96" y="290.69" width="3.46" height="2.85" fill="#00a4ff"/>
<rect x="238.22" y="290.69" width="3.46" height="2.85" fill="#0097ff"/>
<rect x="241.48" y="290.69" width="3.46" height="2.85" fill="#008aff"/>
<rect x="244.74" y="290.69" width="3.46" height="2.85" fill="#0085ff"/>
<rect x="248" y="290.69" width="3.46" height="2.85" fill="#0085ff"/>
<rect x="195.84" y="293.34" width="3.46" height="2.85" fill="#1fffdf"/>
<rect x="199.1" y="293.34" width="3.46" height="2.85" fill="#1fffdf"/>
<rect x="202.36" y="293.34" width="3.46" height="2.85" fill="#27ffd7"/>
<rect x="205.62" y="293.34" width="3.46" height="2.85" fill="#29ffd5"/>
<rect x="208.88" y="293.34" width="3.46" height="2.85" fill="#20ffde"/>
<rect x="212.14" y="293.34" width="3.46" height="2.85" fill="#0fffef"/>
<rect x="215.4" y="293.34" width="3.46" height="2.85" fill="#00f9ff"/>
<rect x="218.66" y="293.34" width="3.46" height="2.85" fill="#00e4ff"/>
<rect x="221.92" y="293.34" width="3.46" height="2.85" fill="#00d2ff"/>
<rect x="225.18" y="293.34" width="3.46" height="2.85" fill="#00c5ff"/>
<rect x="228.44" y="293.34" width="3.46" height="2.85" fill="#00baff"/>
<rect x="231.7" y="293.34" width="3.46" height="2.85" fill="#00afff"/>
<rect x="234.96" y="293.34" width="3.46" height="2.85" fill="#00a2ff"/>
<rect x="238.22" y="293.34" width="3.46" height="2.85" fill="#0092ff"/>
<rect x="241.48" y="293.34" width="3.46" height="2.85" fill="#0084ff"/>
<rect x="244.74" y="293.34" width="3.46" height="2.85" fill="#007eff"/>
<rect x="248" y="293.34" width="3.46" height="2.85" fill="#007eff"/>
<rect x="195.84" y="296" width="3.46" height="2.85" fill="#2bffd3"/>
<rect x="199.1" y="296" width="3.46" height="2.85" fill="#2bffd3"/>
<rect x="202.36" y="296" width="3.46" height="2.85" fill="#34ffca"/>
<rect x="205.62" y="296" width="3.46" height="2.85" fill="#35ffc9"/>
<rect x="208.88" y="296" width="3.46" height="2.85" fill="#2bffd3"/>
<rect x="212.14" y="296" width="3.46" height="2.85" fill="#17ffe7"/>
<rect x="215.4" y="296" width="3.46" height="2.85" fill="#00fffe"/>
<rect x="218.66" y="296" width="3.46" height="2.85" fill="#00e8ff"/>
<rect x="221.92" y="296" width="3.46" height="2.85" fill="#00d4ff"/>
<rect x="225.18" y="296" width="3.46" height="2.85" fill="#00c6ff"/>
<rect x="228.44" y="296" width="3.46" height="2.85" fill="#00baff"/>
<rect x="231.7" y="296" width="3.46" height="2.85" fill="#00aeff"/>
<rect x="234.96" y="296" width="3.46" height="2.85" fill="#009fff"/>
<rect x="238.22" y="296" width="3.46" height="2.85" fill="#008dff"/>
<rect x="241.48" y="296" width="3.46" height="2.85" fill="#007eff"/>
<rect x="244.74" y="296" width="3.46" height="2.85" fill="#0078ff"/>
<rect x="248" y="296" width="3.46" height="2.85" fill="#0078ff"/>
<rect x="195.84" y="298.65" width="3.46" height="2.85" fill="#36ffc8"/>
<rect x="199.1" y="298.65" width="3.46" height="2.85" fill="#36ffc8"/>
<rect x="202.36" y="298.65" width="3.46" height="2.85" fill="#40ffbe"/>
<rect x="205.62" y="298.65" width="3.46" height="2.85" fill="#40ffbe"/>
<rect x="208.88" y="298.65" width="3.46" height="2.85" fill="#33ffcb"/>
<rect x="212.14" y="298.65" width="3.46" height="2.85" fill="#1effe0"/>
<rect x="215.4" y="298.65" width="3.46" height="2.85" fill="#04fffa"/>
<rect x="218.66" y="298.65" width="3.46" height="2.85" fill="#00eaff"/>
<rect x="221.92" y="298.65" width="3.46" height="2.85" fill="#00d6ff"/>
<rect x="225.18" y="298.65" width="3.46" height="2.85" fill="#00c7ff"/>
<rect x="228.44" y="298.65" width="3.46" height="2.85" fill="#00baff"/>
<rect x="231.7" y="298.65" width="3.46" height="2.85" fill="#00adff"/>
<rect x="234.96" y="298.65" width="3.46" height="2.85" fill="#009bff"/>
<rect x="238.22" y="298.65" width="3.46" height="2.85" fill="#0087ff"/>
<rect x="241.48" y="298.65" width="3.46" height="2.85" fill="#0076ff"/>
<rect x="244.74" y="298.65" width="3.46" height="2.85" fill="#0070ff"/>
<rect x="248" y="298.65" width="3.46" height="2.85" fill="#0070ff"/>
<rect x="195.84" y="301.3" width="3.46" height="2.85" fill="#40ffbe"/>
<rect x="199.1" y="301.3" width="3.46" height="2.85" fill="#40ffbe"/>
<rect x="202.36" y="301.3" width="3.46" height="2.85" fill="#4bffb3"/>
<rect x="205.62" y="301.3" width="3.46" height="2.85" fill="#49ffb5"/>
<rect x="208.88" y="301.3" width="3.46" height="2.85" fill="#3affc4"/>
<rect x="212.14" y="301.3" width="3.46" height="2.85" fill="#22ffdc"/>
<rect x="215.4" y="301.3" width="3.46" height="2.85" fill="#07fff7"/>
<rect x="218.66" y="301.3" width="3.46" height="2.85" fill="#00ecff"/>
<rect x="221.92" y="301.3" width="3.46" height="2.85" fill="#00d7ff"/>
<rect x="225.18" y="301.3" width="3.46" height="2.85" fill="#00c7ff"/>
<rect x="228.44" y="301.3" width="3.46" height="2.85" fill="#00baff"/>
<rect x="231.7" y="301.3" width="3.46" height="2.85" fill="#00abff"/>
<rect x="234.96" y="301.3" width="3.46" height="2.85" fill="#0098ff"/>
<rect x="238.22" y="301.3" width="3.46" height="2.85" fill="#0081ff"/>
<rect x="241.48" y="301.3" width="3.46" height="2.85" fill="#006fff"/>
<rect x="244.74" y="301.3" width="3.46" height="2.85" fill="#0069ff"/>
<rect x="248" y="301.3" width="3.46" height="2.85" fill="#0069ff"/>
<rect x="195.84" y="303.96" width="3.46" height="2.85" fill="#4cffb2"/>
<rect x="199.1" y="303.96" width="3.46" height="2.85" fill="#4cffb2"/>
<rect x="202.36" y="303.96" width="3.46" height="2.85" fill="#55ffa9"/>
<rect x="205.62" y="303.96" width="3.46" height="2.85" fill="#51ffad"/>
<rect x="208.88" y="303.96" width="3.46" height="2.85" fill="#40ffbe"/>
<rect x="212.14" y="303.96" width="3.46" height="2.85" fill="#26ffd8"/>
<rect x="215.4" y="303.96" width="3.46" height="2.85" fill="#09fff5"/>
<rect x="218.66" y="303.96" width="3.46" height="2.85" fill="#00edff"/>
<rect x="221.92" y="303.96" width="3.46" height="2.85" fill="#00d8ff"/>
<rect x="225.18" y="303.96" width="3.46" height="2.85" fill="#00c7ff"/>
<rect x="228.44" y="303.96" width="3.46" height="2.85" fill="#00b9ff"/>
<rect x="231.7" y="303.96" width="3.46" height="2.85" fill="#00a9ff"/>
<rect x="234.96" y="303.96" width="3.46" height="2.85" fill="#0093ff"/>
<rect x="238.22" y="303.96" width="3.46" height="2.85" fill="#007bff"/>
<rect x="241.48" y="303.96" width="3.46" height="2.85" fill="#0067ff"/>
<rect x="244.74" y="303.96" width="3.46" height="2.85" fill="#0061ff"/>
<rect x="248" y="303.96" width="3.46" height="2.85" fill="#0061ff"/>
<rect x="195.84" y="306.61" width="3.46" height="2.85" fill="#58ffa6"/>
<rect x="199.1" y="306.61" width="3.46" height="2.85" fill="#58ffa6"/>
<rect x="202.36" y="306.61" width="3.46" height="2.85" fill="#60ff9e"/>
<rect x="205.62" y="306.61" width="3.46" height="2.85" fill="#59ffa5"/>
<rect x="208.88" y="306.61" width="3.46" height="2.85" fill="#45ffb9"/>
<rect x="212.14" y="306.61" width="3.46" height="2.85" fill="#28ffd6"/>
<rect x="215.4" y="306.61" width="3.46" height="2.85" fill="#0afff4"/>
<rect x="218.66" y="306.61" width="3.46" height="2.85" fill="#00eeff"/>
<rect x="221.92" y="306.61" width="3.46" height="2.85" fill="#00d8ff"/>
<rect x="225.18" y="306.61" width="3.46" height="2.85" fill="#00c7ff"/>
<rect x="228.44" y="306.61" width="3.46" height="2.85" fill="#00b9ff"/>
<rect x="231.7" y="306.61" width="3.46" height="2.85" fill="#00a7ff"/>
<rect x="234.96" y="306.61" width="3.46" height="2.85" fill="#008fff"/>
<rect x="238.22" y="306.61" width="3.46" height="2.85" fill="#0074ff"/>
<rect x="241.48" y="306.61" width="3.46" height="2.85" fill="#005eff"/>
<rect x="244.74" y="306.61" width="3.46" height="2.85" fill="#0059ff"/>
<rect x="248" y="306.61" width="3.46" height="2.85" fill="#0059ff"/>
<rect x="195.84" y="309.27" width="3.46" height="2.85" fill="#65ff99"/>
<rect x="199.1" y="309.27" width="3.46" height="2.85" fill="#67ff97"/>
<rect x="202.36" y="309.27" width="3.46" height="2.85" fill="#6bff93"/>
<rect x="205.62" y="309.27" width="3.46" height="2.85" fill="#61ff9d"/>
<rect x="208.88" y="309.27" width="3.46" height="2.85" fill="#4affb4"/>
<rect x="212.14" y="309.27" width="3.46" height="2.85" fill="#2bffd3"/>
<rect x="215.4" y="309.27" width="3.46" height="2.85" fill="#0bfff3"/>
<rect x="218.66" y="309.27" width="3.46" height="2.85" fill="#00eeff"/>
<rect x="221.92" y="309.27" width="3.46" height="2.85" fill="#00d8ff"/>
<rect x="225.18" y="309.27" width="3.46" height="2.85" fill="#00c7ff"/>
<rect x="228.44" y="309.27" width="3.46" height="2.85" fill="#00b8ff"/>
<rect x="231.7" y="309.27" width="3.46" height="2.85" fill="#00a5ff"/>
<rect x="234.96" y="309.27" width="3.46" height="2.85" fill="#008aff"/>
<rect x="238.22" y="309.27" width="3.46" height="2.85" fill="#006dff"/>
<rect x="241.48" y="309.27" width="3.46" height="2.85" fill="#0056ff"/>
<rect x="244.74" y="309.27" width="3.46" height="2.85" fill="#0051ff"/>
<rect x="248" y="309.27" width="3.46" height="2.85" fill="#0051ff"/>
<rect x="195.84" y="311.92" width="3.46" height="2.85" fill="#76ff88"/>
<rect x="199.1" y="311.92" width="3.46" height="2.85" fill="#77ff87"/>
<rect x="202.36" y="311.92" width="3.46" height="2.85" fill="#78ff86"/>
<rect x="205.62" y="311.92" width="3.46" height="2.85" fill="#6aff94"/>
<rect x="208.88" y="311.92" width="3.46" height="2.85" fill="#4fffaf"/>
<rect x="212.14" y="311.92" width="3.46" height="2.85" fill="#2dffd1"/>
<rect x="215.4" y="311.92" width="3.46" height="2.85" fill="#0cfff2"/>
<rect x="218.66" y="311.92" width="3.46" height="2.85" fill="#00eeff"/>
<rect x="221.92" y="311.92" width="3.46" height="2.85" fill="#00d8ff"/>
<rect x="225.18" y="311.92" width="3.46" height="2.85" fill="#00c7ff"/>
<rect x="228.44" y="311.92" width="3.46" height="2.85" fill="#00b7ff"/>
<rect x="231.7" y="311.92" width="3.46" height="2.85" fill="#00a2ff"/>
<rect x="234.96" y="311.92" width="3.46" height="2.85" fill="#0086ff"/>
<rect x="238.22" y="311.92" width="3.46" height="2.85" fill="#0066ff"/>
<rect x="241.48" y="311.92" width="3.46" height="2.85" fill="#004eff"/>
<rect x="244.74" y="311.92" width="3.46" height="2.85" fill="#0049ff"/>
<rect x="248" y="311.92" width="3.46" height="2.85" fill="#0049ff"/>
<rect x="195.84" y="314.57" width="3.46" height="2.85" fill="#89ff75"/>
<rect x="199.1" y="314.57" width="3.46" height="2.85" fill="#8bff73"/>
<rect x="202.36" y="314.57" width="3.46" height="2.85" fill="#88ff76"/>
<rect x="205.62" y="314.57" width="3.46" height="2.85" fill="#74ff8a"/>
<rect x="208.88" y="314.57" width="3.46" height="2.85" fill="#54ffaa"/>
<rect x="212.14" y="314.57" width="3.46" height="2.85" fill="#30ffce"/>
<rect x="215.4" y="314.57" width="3.46" height="2.85" fill="#0dfff1"/>
<rect x="218.66" y="314.57" width="3.46" height="2.85" fill="#00eeff"/>
<rect x="221.92" y="314.57" width="3.46" height="2.85" fill="#00d8ff"/>
<rect x="225.18" y="314.57" width="3.46" height="2.85" fill="#00c7ff"/>
<rect x="228.44" y="314.57" width="3.46" height="2.85" fill="#00b6ff"/>
<rect x="231.7" y="314.57" width="3.46" height="2.85" fill="#00a0ff"/>
<rect x="234.96" y="314.57" width="3.46" height="2.85" fill="#0081ff"/>
<rect x="238.22" y="314.57" width="3.46" height="2.85" fill="#005fff"/>
<rect x="241.48" y="314.57" width="3.46" height="2.85" fill="#0047ff"/>
<rect x="244.74" y="314.57" width="3.46" height="2.85" fill="#0042ff"/>
<rect x="248" y="314.57" width="3.46" height="2.85" fill="#0042ff"/>
<rect x="195.84" y="317.23" width="3.46" height="2.85" fill="#a5ff59"/>
<rect x="199.1" y="317.23" width="3.46" height="2.85" fill="#a6ff58"/>
<rect x="202.36" y="317.23" width="3.46" height="2.85" fill="#9bff63"/>
<rect x="205.62" y="317.23" width="3.46" height="2.85" fill="#7fff7f"/>
<rect x="208.88" y="317.23" width="3.46" height="2.85" fill="#5affa4"/>
<rect x="212.14" y="317.23" width="3.46" height="2.85" fill="#33ffcb"/>
<rect x="215.4" y="317.23" width="3.46" height="2.85" fill="#0efff0"/>
<rect x="218.66" y="317.23" width="3.46" height="2.85" fill="#00efff"/>
<rect x="221.92" y="317.23" width="3.46" height="2.85" fill="#00d8ff"/>
<rect x="225.18" y="317.23" width="3.46" height="2.85" fill="#00c7ff"/>
<rect x="228.44" y="317.23" width="3.46" height="2.85" fill="#00b5ff"/>
<rect x="231.7" y="317.23" width="3.46" height="2.85" fill="#009eff"/>
<rect x="234.96" y="317.23" width="3.46" height="2.85" fill="#007dff"/>
<rect x="238.22" y="317.23" width="3.46" height="2.85" fill="#0059ff"/>
<rect x="241.48" y="317.23" width="3.46" height="2.85" fill="#0041ff"/>
<rect x="244.74" y="317.23" width="3.46" height="2.85" fill="#003dff"/>
<rect x="248" y="317.23" width="3.46" height="2.85" fill="#003dff"/>
<rect x="195.84" y="319.88" width="3.46" height="2.85" fill="#d0ff2e"/>
<rect x="199.1" y="319.88" width="3.46" height="2.85" fill="#d0ff2e"/>
<rect x="202.36" y="319.88" width="3.46" height="2.85" fill="#b6ff48"/>
<rect x="205.62" y="319.88" width="3.46" height="2.85" fill="#8cff72"/>
<rect x="208.88" y="319.88" width="3.46" height="2.85" fill="#60ff9e"/>
<rect x="212.14" y="319.88" width="3.46" height="2.85" fill="#35ffc9"/>
<rect x="215.4" y="319.88" width="3.46" height="2.85" fill="#0fffef"/>
<rect x="218.66" y="319.88" width="3.46" height="2.85" fill="#00efff"/>
<rect x="221.92" y="319.88" width="3.46" height="2.85" fill="#00d8ff"/>
<rect x="225.18" y="319.88" width="3.46" height="2.85" fill="#00c7ff"/>
<rect x="228.44" y="319.88" width="3.46" height="2.85" fill="#00b5ff"/>
<rect x="231.7" y="319.88" width="3.46" height="2.85" fill="#009bff"/>
<rect x="234.96" y="319.88" width="3.46" height="2.85" fill="#0079ff"/>
<rect x="238.22" y="319.88" width="3.46" height="2.85" fill="#0054ff"/>
<rect x="241.48" y="319.88" width="3.46" height="2.85" fill="#003bff"/>
<rect x="244.74" y="319.88" width="3.46" height="2.85" fill="#0038ff"/>
<rect x="248" y="319.88" width="3.46" height="2.85" fill="#0038ff"/>
<rect x="195.84" y="322.54" width="3.46" height="2.85" fill="#ffe900"/>
<rect x="199.1" y="322.54" width="3.46" height="2.85" fill="#ffed00"/>
<rect x="202.36" y="322.54" width="3.46" height="2.85" fill="#dbff23"/>
<rect x="205.62" y="322.54" width="3.46" height="2.85" fill="#99ff65"/>
<rect x="208.88" y="322.54" width="3.46" height="2.85" fill="#64ff9a"/>
<rect x="212.14" y="322.54" width="3.46" height="2.85" fill="#37ffc7"/>
<rect x="215.4" y="322.54" width="3.46" height="2.85" fill="#0fffef"/>
<rect x="218.66" y="322.54" width="3.46" height="2.85" fill="#00efff"/>
<rect x="221.92" y="322.54" width="3.46" height="2.85" fill="#00d8ff"/>
<rect x="225.18" y="322.54" width="3.46" height="2.85" fill="#00c6ff"/>
<rect x="228.44" y="322.54" width="3.46" height="2.85" fill="#00b4ff"/>
<rect x="231.7" y="322.54" width="3.46" height="2.85" fill="#0099ff"/>
<rect x="234.96" y="322.54" width="3.46" height="2.85" fill="#0076ff"/>
<rect x="238.22" y="322.54" width="3.46" height="2.85" fill="#0050ff"/>
<rect x="241.48" y="322.54" width="3.46" height="2.85" fill="#0037ff"/>
<rect x="244.74" y="322.54" width="3.46" height="2.85" fill="#0034ff"/>
<rect x="248" y="322.54" width="3.46" height="2.85" fill="#0034ff"/>
<rect x="195.84" y="325.19" width="3.46" height="2.85" fill="#ff9900"/>
<rect x="199.1" y="325.19" width="3.46" height="2.85" fill="#ffa300"/>
<rect x="202.36" y="325.19" width="3.46" height="2.85" fill="#fffb00"/>
<rect x="205.62" y="325.19" width="3.46" height="2.85" fill="#a4ff5a"/>
<rect x="208.88" y="325.19" width="3.46" height="2.85" fill="#66ff98"/>
<rect x="212.14" y="325.19" width="3.46" height="2.85" fill="#36ffc8"/>
<rect x="215.4" y="325.19" width="3.46" height="2.85" fill="#0efff0"/>
<rect x="218.66" y="325.19" width="3.46" height="2.85" fill="#00eeff"/>
<rect x="221.92" y="325.19" width="3.46" height="2.85" fill="#00d8ff"/>
<rect x="225.18" y="325.19" width="3.46" height="2.85" fill="#00c6ff"/>
<rect x="228.44" y="325.19" width="3.46" height="2.85" fill="#00b3ff"/>
<rect x="231.7" y="325.19" width="3.46" height="2.85" fill="#0098ff"/>
<rect x="234.96" y="325.19" width="3.46" height="2.85" fill="#0073ff"/>
<rect x="238.22" y="325.19" width="3.46" height="2.85" fill="#004cff"/>
<rect x="241.48" y="325.19" width="3.46" height="2.85" fill="#0035ff"/>
<rect x="244.74" y="325.19" width="3.46" height="2.85" fill="#0033ff"/>
<rect x="248" y="325.19" width="3.46" height="2.85" fill="#0033ff"/>
<rect x="195.84" y="327.85" width="3.46" height="2.85" fill="#ff5f00"/>
<rect x="199.1" y="327.85" width="3.46" height="2.85" fill="#ff7100"/>
<rect x="202.36" y="327.85" width="3.46" height="2.85" fill="#ffe600"/>
<rect x="205.62" y="327.85" width="3.46" height="2.85" fill="#a7ff57"/>
<rect x="208.88" y="327.85" width="3.46" height="2.85" fill="#64ff9a"/>
<rect x="212.14" y="327.85" width="3.46" height="2.85" fill="#34ffca"/>
<rect x="215.4" y="327.85" width="3.46" height="2.85" fill="#0cfff2"/>
<rect x="218.66" y="327.85" width="3.46" height="2.85" fill="#00edff"/>
<rect x="221.92" y="327.85" width="3.46" height="2.85" fill="#00d7ff"/>
<rect x="225.18" y="327.85" width="3.46" height="2.85" fill="#00c6ff"/>
<rect x="228.44" y="327.85" width="3.46" height="2.85" fill="#00b2ff"/>
<rect x="231.7" y="327.85" width="3.46" height="2.85" fill="#0097ff"/>
<rect x="234.96" y="327.85" width="3.46" height="2.85" fill="#0071ff"/>
<rect x="238.22" y="327.85" width="3.46" height="2.85" fill="#004bff"/>
<rect x="241.48" y="327.85" width="3.46" height="2.85" fill="#0034ff"/>
<rect x="244.74" y="327.85" width="3.46" height="2.85" fill="#0032ff"/>
<rect x="248" y="327.85" width="3.46" height="2.85" fill="#0032ff"/>
<rect x="195.84" y="330.5" width="3.46" height="2.85" fill="#ff5900"/>
<rect x="199.1" y="330.5" width="3.46" height="2.85" fill="#ff6d00"/>
<rect x="202.36" y="330.5" width="3.46" height="2.85" fill="#ffe800"/>
<rect x="205.62" y="330.5" width="3.46" height="2.85" fill="#a4ff5a"/>
<rect x="208.88" y="330.5" width="3.46" height="2.85" fill="#61ff9d"/>
<rect x="212.14" y="330.5" width="3.46" height="2.85" fill="#31ffcd"/>
<rect x="215.4" y="330.5" width="3.46" height="2.85" fill="#0afff4"/>
<rect x="218.66" y="330.5" width="3.46" height="2.85" fill="#00ecff"/>
<rect x="221.92" y="330.5" width="3.46" height="2.85" fill="#00d6ff"/>
<rect x="225.18" y="330.5" width="3.46" height="2.85" fill="#00c6ff"/>
<rect x="228.44" y="330.5" width="3.46" height="2.85" fill="#00b2ff"/>
<rect x="231.7" y="330.5" width="3.46" height="2.85" fill="#0096ff"/>
<rect x="234.96" y="330.5" width="3.46" height="2.85" fill="#0070ff"/>
<rect x="238.22" y="330.5" width="3.46" height="2.85" fill="#004aff"/>
<rect x="241.48" y="330.5" width="3.46" height="2.85" fill="#0034ff"/>
<rect x="244.74" y="330.5" width="3.46" height="2.85" fill="#0033ff"/>
<rect x="248" y="330.5" width="3.46" height="2.85" fill="#0033ff"/>
</g>
</g>
<rect x="198.1" y="258.3" width="51.3" height="81.4" fill="none" stroke="#8a8a8a" stroke-width="0.85"/>
<line x1="196.8" y1="330.3" x2="198.1" y2="330.3" stroke="#444" stroke-width="0.45" />
<text x="196.3" y="331.9" font-size="4.7" text-anchor="end" fill="#111" stroke="#111" stroke-width="0.14" >0.0</text>
<line x1="196.8" y1="321.23" x2="198.1" y2="321.23" stroke="#444" stroke-width="0.45" />
<text x="196.3" y="322.83" font-size="4.7" text-anchor="end" fill="#111" stroke="#111" stroke-width="0.14" >0.5</text>
<line x1="196.8" y1="312.16" x2="198.1" y2="312.16" stroke="#444" stroke-width="0.45" />
<text x="196.3" y="313.76" font-size="4.7" text-anchor="end" fill="#111" stroke="#111" stroke-width="0.14" >1.0</text>
<line x1="196.8" y1="303.09" x2="198.1" y2="303.09" stroke="#444" stroke-width="0.45" />
<text x="196.3" y="304.69" font-size="4.7" text-anchor="end" fill="#111" stroke="#111" stroke-width="0.14" >1.5</text>
<line x1="196.8" y1="294.02" x2="198.1" y2="294.02" stroke="#444" stroke-width="0.45" />
<text x="196.3" y="295.62" font-size="4.7" text-anchor="end" fill="#111" stroke="#111" stroke-width="0.14" >2.0</text>
<line x1="196.8" y1="284.95" x2="198.1" y2="284.95" stroke="#444" stroke-width="0.45" />
<text x="196.3" y="286.55" font-size="4.7" text-anchor="end" fill="#111" stroke="#111" stroke-width="0.14" >2.5</text>
<line x1="196.8" y1="275.88" x2="198.1" y2="275.88" stroke="#444" stroke-width="0.45" />
<text x="196.3" y="277.48" font-size="4.7" text-anchor="end" fill="#111" stroke="#111" stroke-width="0.14" >3.0</text>
<line x1="196.8" y1="266.81" x2="198.1" y2="266.81" stroke="#444" stroke-width="0.45" />
<text x="196.3" y="268.41" font-size="4.7" text-anchor="end" fill="#111" stroke="#111" stroke-width="0.14" >3.5</text>
<line x1="199.3" y1="339.7" x2="199.3" y2="341" stroke="#444" stroke-width="0.45" />
<text x="199.3" y="345.7" font-size="4.7" text-anchor="middle" fill="#111" stroke="#111" stroke-width="0.14" >0</text>
<line x1="218" y1="339.7" x2="218" y2="341" stroke="#444" stroke-width="0.45" />
<text x="218" y="345.7" font-size="4.7" text-anchor="middle" fill="#111" stroke="#111" stroke-width="0.14" >1</text>
<line x1="236.6" y1="339.7" x2="236.6" y2="341" stroke="#444" stroke-width="0.45" />
<text x="236.6" y="345.7" font-size="4.7" text-anchor="middle" fill="#111" stroke="#111" stroke-width="0.14" >2</text>
<linearGradient id="jg1" x1="0" y1="1" x2="0" y2="0">
<stop offset="0" stop-color="#00007f"/>
<stop offset="0.1" stop-color="#0000e5"/>
<stop offset="0.2" stop-color="#004cff"/>
<stop offset="0.3" stop-color="#00b2ff"/>
<stop offset="0.4" stop-color="#19ffe5"/>
<stop offset="0.5" stop-color="#7fff7f"/>
<stop offset="0.6" stop-color="#e5ff19"/>
<stop offset="0.7" stop-color="#ffb200"/>
<stop offset="0.8" stop-color="#ff4c00"/>
<stop offset="0.9" stop-color="#e50000"/>
<stop offset="1" stop-color="#7f0000"/>
</linearGradient>
<rect x="252" y="258.3" width="4.3" height="81.4" fill="url(#jg1)" stroke="#444" stroke-width="0.45"/>
<line x1="256.3" y1="264.8" x2="257.5" y2="264.8" stroke="#444" stroke-width="0.45" />
<text x="258.1" y="266.4" font-size="4.7" text-anchor="start" fill="#111" stroke="#111" stroke-width="0.14" >0.005</text>
<line x1="256.3" y1="274.7" x2="257.5" y2="274.7" stroke="#444" stroke-width="0.45" />
<text x="258.1" y="276.3" font-size="4.7" text-anchor="start" fill="#111" stroke="#111" stroke-width="0.14" >0.004</text>
<line x1="256.3" y1="283.9" x2="257.5" y2="283.9" stroke="#444" stroke-width="0.45" />
<text x="258.1" y="285.5" font-size="4.7" text-anchor="start" fill="#111" stroke="#111" stroke-width="0.14" >0.003</text>
<line x1="256.3" y1="293.8" x2="257.5" y2="293.8" stroke="#444" stroke-width="0.45" />
<text x="258.1" y="295.4" font-size="4.7" text-anchor="start" fill="#111" stroke="#111" stroke-width="0.14" >0.002</text>
<line x1="256.3" y1="303.3" x2="257.5" y2="303.3" stroke="#444" stroke-width="0.45" />
<text x="258.1" y="304.9" font-size="4.7" text-anchor="start" fill="#111" stroke="#111" stroke-width="0.14" >0.001</text>
<line x1="256.3" y1="313.1" x2="257.5" y2="313.1" stroke="#444" stroke-width="0.45" />
<text x="258.1" y="314.7" font-size="4.7" text-anchor="start" fill="#111" stroke="#111" stroke-width="0.14" >0.000</text>
<line x1="256.3" y1="322.4" x2="257.5" y2="322.4" stroke="#444" stroke-width="0.45" />
<text x="258.1" y="324" font-size="4.7" text-anchor="start" fill="#111" stroke="#111" stroke-width="0.14" >−0.001</text>
<line x1="256.3" y1="331.9" x2="257.5" y2="331.9" stroke="#444" stroke-width="0.45" />
<text x="258.1" y="333.5" font-size="4.7" text-anchor="start" fill="#111" stroke="#111" stroke-width="0.14" >−0.002</text>
<rect x="197.4" y="417.5" width="74.75" height="7.2" fill="#fff"/>
<rect x="186" y="424.5" width="86.15" height="96.25" fill="#fff"/>
<text x="232.7" y="423.5" font-size="7.2" text-anchor="middle" fill="#111" stroke="#111" stroke-width="0.18" >Vertical strain</text>
<clipPath id="hq2"><polygon points="201.1,507.8 238.2,507.8 242.7,432.2 205.2,429.3"/></clipPath>
<filter id="hb2" x="-10%" y="-10%" width="120%" height="120%"><feGaussianBlur stdDeviation="1.1"/></filter>
<g clip-path="url(#hq2)"><g filter="url(#hb2)" shape-rendering="crispEdges">
<rect x="198.33" y="426.03" width="2.97" height="3.47" fill="#00c4ff"/>
<rect x="201.1" y="426.03" width="2.97" height="3.47" fill="#00c4ff"/>
<rect x="203.87" y="426.03" width="2.97" height="3.47" fill="#00c4ff"/>
<rect x="206.65" y="426.03" width="2.97" height="3.47" fill="#00c4ff"/>
<rect x="209.42" y="426.03" width="2.97" height="3.47" fill="#00c3ff"/>
<rect x="212.19" y="426.03" width="2.97" height="3.47" fill="#00c2ff"/>
<rect x="214.97" y="426.03" width="2.97" height="3.47" fill="#00c1ff"/>
<rect x="217.74" y="426.03" width="2.97" height="3.47" fill="#00bfff"/>
<rect x="220.51" y="426.03" width="2.97" height="3.47" fill="#00beff"/>
<rect x="223.29" y="426.03" width="2.97" height="3.47" fill="#00bcff"/>
<rect x="226.06" y="426.03" width="2.97" height="3.47" fill="#00baff"/>
<rect x="228.83" y="426.03" width="2.97" height="3.47" fill="#00b8ff"/>
<rect x="231.61" y="426.03" width="2.97" height="3.47" fill="#00b5ff"/>
<rect x="234.38" y="426.03" width="2.97" height="3.47" fill="#00b2ff"/>
<rect x="237.15" y="426.03" width="2.97" height="3.47" fill="#00afff"/>
<rect x="239.93" y="426.03" width="2.97" height="3.47" fill="#00adff"/>
<rect x="242.7" y="426.03" width="2.97" height="3.47" fill="#00acff"/>
<rect x="198.33" y="429.3" width="2.97" height="3.47" fill="#00c6ff"/>
<rect x="201.1" y="429.3" width="2.97" height="3.47" fill="#00c6ff"/>
<rect x="203.87" y="429.3" width="2.97" height="3.47" fill="#00c6ff"/>
<rect x="206.65" y="429.3" width="2.97" height="3.47" fill="#00c6ff"/>
<rect x="209.42" y="429.3" width="2.97" height="3.47" fill="#00c5ff"/>
<rect x="212.19" y="429.3" width="2.97" height="3.47" fill="#00c4ff"/>
<rect x="214.97" y="429.3" width="2.97" height="3.47" fill="#00c2ff"/>
<rect x="217.74" y="429.3" width="2.97" height="3.47" fill="#00c0ff"/>
<rect x="220.51" y="429.3" width="2.97" height="3.47" fill="#00beff"/>
<rect x="223.29" y="429.3" width="2.97" height="3.47" fill="#00bcff"/>
<rect x="226.06" y="429.3" width="2.97" height="3.47" fill="#00baff"/>
<rect x="228.83" y="429.3" width="2.97" height="3.47" fill="#00b7ff"/>
<rect x="231.61" y="429.3" width="2.97" height="3.47" fill="#00b4ff"/>
<rect x="234.38" y="429.3" width="2.97" height="3.47" fill="#00b0ff"/>
<rect x="237.15" y="429.3" width="2.97" height="3.47" fill="#00adff"/>
<rect x="239.93" y="429.3" width="2.97" height="3.47" fill="#00abff"/>
<rect x="242.7" y="429.3" width="2.97" height="3.47" fill="#00aaff"/>
<rect x="198.33" y="432.57" width="2.97" height="3.47" fill="#00cbff"/>
<rect x="201.1" y="432.57" width="2.97" height="3.47" fill="#00cbff"/>
<rect x="203.87" y="432.57" width="2.97" height="3.47" fill="#00cbff"/>
<rect x="206.65" y="432.57" width="2.97" height="3.47" fill="#00caff"/>
<rect x="209.42" y="432.57" width="2.97" height="3.47" fill="#00c9ff"/>
<rect x="212.19" y="432.57" width="2.97" height="3.47" fill="#00c7ff"/>
<rect x="214.97" y="432.57" width="2.97" height="3.47" fill="#00c5ff"/>
<rect x="217.74" y="432.57" width="2.97" height="3.47" fill="#00c2ff"/>
<rect x="220.51" y="432.57" width="2.97" height="3.47" fill="#00c0ff"/>
<rect x="223.29" y="432.57" width="2.97" height="3.47" fill="#00bdff"/>
<rect x="226.06" y="432.57" width="2.97" height="3.47" fill="#00baff"/>
<rect x="228.83" y="432.57" width="2.97" height="3.47" fill="#00b7ff"/>
<rect x="231.61" y="432.57" width="2.97" height="3.47" fill="#00b2ff"/>
<rect x="234.38" y="432.57" width="2.97" height="3.47" fill="#00aeff"/>
<rect x="237.15" y="432.57" width="2.97" height="3.47" fill="#00a9ff"/>
<rect x="239.93" y="432.57" width="2.97" height="3.47" fill="#00a7ff"/>
<rect x="242.7" y="432.57" width="2.97" height="3.47" fill="#00a6ff"/>
<rect x="198.33" y="435.84" width="2.97" height="3.47" fill="#00d0ff"/>
<rect x="201.1" y="435.84" width="2.97" height="3.47" fill="#00d0ff"/>
<rect x="203.87" y="435.84" width="2.97" height="3.47" fill="#00d0ff"/>
<rect x="206.65" y="435.84" width="2.97" height="3.47" fill="#00cfff"/>
<rect x="209.42" y="435.84" width="2.97" height="3.47" fill="#00ceff"/>
<rect x="212.19" y="435.84" width="2.97" height="3.47" fill="#00cbff"/>
<rect x="214.97" y="435.84" width="2.97" height="3.47" fill="#00c8ff"/>
<rect x="217.74" y="435.84" width="2.97" height="3.47" fill="#00c5ff"/>
<rect x="220.51" y="435.84" width="2.97" height="3.47" fill="#00c2ff"/>
<rect x="223.29" y="435.84" width="2.97" height="3.47" fill="#00beff"/>
<rect x="226.06" y="435.84" width="2.97" height="3.47" fill="#00bbff"/>
<rect x="228.83" y="435.84" width="2.97" height="3.47" fill="#00b6ff"/>
<rect x="231.61" y="435.84" width="2.97" height="3.47" fill="#00b0ff"/>
<rect x="234.38" y="435.84" width="2.97" height="3.47" fill="#00aaff"/>
<rect x="237.15" y="435.84" width="2.97" height="3.47" fill="#00a5ff"/>
<rect x="239.93" y="435.84" width="2.97" height="3.47" fill="#00a2ff"/>
<rect x="242.7" y="435.84" width="2.97" height="3.47" fill="#00a1ff"/>
<rect x="198.33" y="439.11" width="2.97" height="3.47" fill="#00d7ff"/>
<rect x="201.1" y="439.11" width="2.97" height="3.47" fill="#00d7ff"/>
<rect x="203.87" y="439.11" width="2.97" height="3.47" fill="#00d7ff"/>
<rect x="206.65" y="439.11" width="2.97" height="3.47" fill="#00d6ff"/>
<rect x="209.42" y="439.11" width="2.97" height="3.47" fill="#00d4ff"/>
<rect x="212.19" y="439.11" width="2.97" height="3.47" fill="#00d1ff"/>
<rect x="214.97" y="439.11" width="2.97" height="3.47" fill="#00cdff"/>
<rect x="217.74" y="439.11" width="2.97" height="3.47" fill="#00c9ff"/>
<rect x="220.51" y="439.11" width="2.97" height="3.47" fill="#00c4ff"/>
<rect x="223.29" y="439.11" width="2.97" height="3.47" fill="#00c0ff"/>
<rect x="226.06" y="439.11" width="2.97" height="3.47" fill="#00bbff"/>
<rect x="228.83" y="439.11" width="2.97" height="3.47" fill="#00b5ff"/>
<rect x="231.61" y="439.11" width="2.97" height="3.47" fill="#00aeff"/>
<rect x="234.38" y="439.11" width="2.97" height="3.47" fill="#00a6ff"/>
<rect x="237.15" y="439.11" width="2.97" height="3.47" fill="#00a0ff"/>
<rect x="239.93" y="439.11" width="2.97" height="3.47" fill="#009cff"/>
<rect x="242.7" y="439.11" width="2.97" height="3.47" fill="#009cff"/>
<rect x="198.33" y="442.38" width="2.97" height="3.47" fill="#00e0ff"/>
<rect x="201.1" y="442.38" width="2.97" height="3.47" fill="#00e0ff"/>
<rect x="203.87" y="442.38" width="2.97" height="3.47" fill="#00e0ff"/>
<rect x="206.65" y="442.38" width="2.97" height="3.47" fill="#00deff"/>
<rect x="209.42" y="442.38" width="2.97" height="3.47" fill="#00dbff"/>
<rect x="212.19" y="442.38" width="2.97" height="3.47" fill="#00d7ff"/>
<rect x="214.97" y="442.38" width="2.97" height="3.47" fill="#00d2ff"/>
<rect x="217.74" y="442.38" width="2.97" height="3.47" fill="#00cdff"/>
<rect x="220.51" y="442.38" width="2.97" height="3.47" fill="#00c8ff"/>
<rect x="223.29" y="442.38" width="2.97" height="3.47" fill="#00c2ff"/>
<rect x="226.06" y="442.38" width="2.97" height="3.47" fill="#00bcff"/>
<rect x="228.83" y="442.38" width="2.97" height="3.47" fill="#00b4ff"/>
<rect x="231.61" y="442.38" width="2.97" height="3.47" fill="#00abff"/>
<rect x="234.38" y="442.38" width="2.97" height="3.47" fill="#00a2ff"/>
<rect x="237.15" y="442.38" width="2.97" height="3.47" fill="#009aff"/>
<rect x="239.93" y="442.38" width="2.97" height="3.47" fill="#0096ff"/>
<rect x="242.7" y="442.38" width="2.97" height="3.47" fill="#0095ff"/>
<rect x="198.33" y="445.65" width="2.97" height="3.47" fill="#00eaff"/>
<rect x="201.1" y="445.65" width="2.97" height="3.47" fill="#00eaff"/>
<rect x="203.87" y="445.65" width="2.97" height="3.47" fill="#00e9ff"/>
<rect x="206.65" y="445.65" width="2.97" height="3.47" fill="#00e7ff"/>
<rect x="209.42" y="445.65" width="2.97" height="3.47" fill="#00e4ff"/>
<rect x="212.19" y="445.65" width="2.97" height="3.47" fill="#00dfff"/>
<rect x="214.97" y="445.65" width="2.97" height="3.47" fill="#00d9ff"/>
<rect x="217.74" y="445.65" width="2.97" height="3.47" fill="#00d2ff"/>
<rect x="220.51" y="445.65" width="2.97" height="3.47" fill="#00cbff"/>
<rect x="223.29" y="445.65" width="2.97" height="3.47" fill="#00c4ff"/>
<rect x="226.06" y="445.65" width="2.97" height="3.47" fill="#00bcff"/>
<rect x="228.83" y="445.65" width="2.97" height="3.47" fill="#00b3ff"/>
<rect x="231.61" y="445.65" width="2.97" height="3.47" fill="#00a8ff"/>
<rect x="234.38" y="445.65" width="2.97" height="3.47" fill="#009dff"/>
<rect x="237.15" y="445.65" width="2.97" height="3.47" fill="#0094ff"/>
<rect x="239.93" y="445.65" width="2.97" height="3.47" fill="#008fff"/>
<rect x="242.7" y="445.65" width="2.97" height="3.47" fill="#008eff"/>
<rect x="198.33" y="448.93" width="2.97" height="3.47" fill="#00f6ff"/>
<rect x="201.1" y="448.93" width="2.97" height="3.47" fill="#00f6ff"/>
<rect x="203.87" y="448.93" width="2.97" height="3.47" fill="#00f5ff"/>
<rect x="206.65" y="448.93" width="2.97" height="3.47" fill="#00f2ff"/>
<rect x="209.42" y="448.93" width="2.97" height="3.47" fill="#00eeff"/>
<rect x="212.19" y="448.93" width="2.97" height="3.47" fill="#00e7ff"/>
<rect x="214.97" y="448.93" width="2.97" height="3.47" fill="#00e0ff"/>
<rect x="217.74" y="448.93" width="2.97" height="3.47" fill="#00d8ff"/>
<rect x="220.51" y="448.93" width="2.97" height="3.47" fill="#00d0ff"/>
<rect x="223.29" y="448.93" width="2.97" height="3.47" fill="#00c7ff"/>
<rect x="226.06" y="448.93" width="2.97" height="3.47" fill="#00bdff"/>
<rect x="228.83" y="448.93" width="2.97" height="3.47" fill="#00b2ff"/>
<rect x="231.61" y="448.93" width="2.97" height="3.47" fill="#00a5ff"/>
<rect x="234.38" y="448.93" width="2.97" height="3.47" fill="#0097ff"/>
<rect x="237.15" y="448.93" width="2.97" height="3.47" fill="#008cff"/>
<rect x="239.93" y="448.93" width="2.97" height="3.47" fill="#0087ff"/>
<rect x="242.7" y="448.93" width="2.97" height="3.47" fill="#0087ff"/>
<rect x="198.33" y="452.2" width="2.97" height="3.47" fill="#04fffa"/>
<rect x="201.1" y="452.2" width="2.97" height="3.47" fill="#04fffa"/>
<rect x="203.87" y="452.2" width="2.97" height="3.47" fill="#03fffb"/>
<rect x="206.65" y="452.2" width="2.97" height="3.47" fill="#00fffe"/>
<rect x="209.42" y="452.2" width="2.97" height="3.47" fill="#00f9ff"/>
<rect x="212.19" y="452.2" width="2.97" height="3.47" fill="#00f1ff"/>
<rect x="214.97" y="452.2" width="2.97" height="3.47" fill="#00e8ff"/>
<rect x="217.74" y="452.2" width="2.97" height="3.47" fill="#00dfff"/>
<rect x="220.51" y="452.2" width="2.97" height="3.47" fill="#00d5ff"/>
<rect x="223.29" y="452.2" width="2.97" height="3.47" fill="#00caff"/>
<rect x="226.06" y="452.2" width="2.97" height="3.47" fill="#00beff"/>
<rect x="228.83" y="452.2" width="2.97" height="3.47" fill="#00b1ff"/>
<rect x="231.61" y="452.2" width="2.97" height="3.47" fill="#00a1ff"/>
<rect x="234.38" y="452.2" width="2.97" height="3.47" fill="#0091ff"/>
<rect x="237.15" y="452.2" width="2.97" height="3.47" fill="#0084ff"/>
<rect x="239.93" y="452.2" width="2.97" height="3.47" fill="#007eff"/>
<rect x="242.7" y="452.2" width="2.97" height="3.47" fill="#007eff"/>
<rect x="198.33" y="455.47" width="2.97" height="3.47" fill="#14ffea"/>
<rect x="201.1" y="455.47" width="2.97" height="3.47" fill="#14ffea"/>
<rect x="203.87" y="455.47" width="2.97" height="3.47" fill="#13ffeb"/>
<rect x="206.65" y="455.47" width="2.97" height="3.47" fill="#0efff0"/>
<rect x="209.42" y="455.47" width="2.97" height="3.47" fill="#07fff7"/>
<rect x="212.19" y="455.47" width="2.97" height="3.47" fill="#00fdff"/>
<rect x="214.97" y="455.47" width="2.97" height="3.47" fill="#00f2ff"/>
<rect x="217.74" y="455.47" width="2.97" height="3.47" fill="#00e6ff"/>
<rect x="220.51" y="455.47" width="2.97" height="3.47" fill="#00daff"/>
<rect x="223.29" y="455.47" width="2.97" height="3.47" fill="#00cdff"/>
<rect x="226.06" y="455.47" width="2.97" height="3.47" fill="#00bfff"/>
<rect x="228.83" y="455.47" width="2.97" height="3.47" fill="#00afff"/>
<rect x="231.61" y="455.47" width="2.97" height="3.47" fill="#009cff"/>
<rect x="234.38" y="455.47" width="2.97" height="3.47" fill="#008aff"/>
<rect x="237.15" y="455.47" width="2.97" height="3.47" fill="#007bff"/>
<rect x="239.93" y="455.47" width="2.97" height="3.47" fill="#0075ff"/>
<rect x="242.7" y="455.47" width="2.97" height="3.47" fill="#0075ff"/>
<rect x="198.33" y="458.74" width="2.97" height="3.47" fill="#25ffd9"/>
<rect x="201.1" y="458.74" width="2.97" height="3.47" fill="#25ffd9"/>
<rect x="203.87" y="458.74" width="2.97" height="3.47" fill="#24ffda"/>
<rect x="206.65" y="458.74" width="2.97" height="3.47" fill="#1effe0"/>
<rect x="209.42" y="458.74" width="2.97" height="3.47" fill="#16ffe8"/>
<rect x="212.19" y="458.74" width="2.97" height="3.47" fill="#0afff4"/>
<rect x="214.97" y="458.74" width="2.97" height="3.47" fill="#00fcff"/>
<rect x="217.74" y="458.74" width="2.97" height="3.47" fill="#00efff"/>
<rect x="220.51" y="458.74" width="2.97" height="3.47" fill="#00e0ff"/>
<rect x="223.29" y="458.74" width="2.97" height="3.47" fill="#00d1ff"/>
<rect x="226.06" y="458.74" width="2.97" height="3.47" fill="#00c1ff"/>
<rect x="228.83" y="458.74" width="2.97" height="3.47" fill="#00adff"/>
<rect x="231.61" y="458.74" width="2.97" height="3.47" fill="#0097ff"/>
<rect x="234.38" y="458.74" width="2.97" height="3.47" fill="#0082ff"/>
<rect x="237.15" y="458.74" width="2.97" height="3.47" fill="#0071ff"/>
<rect x="239.93" y="458.74" width="2.97" height="3.47" fill="#006bff"/>
<rect x="242.7" y="458.74" width="2.97" height="3.47" fill="#006bff"/>
<rect x="198.33" y="462.01" width="2.97" height="3.47" fill="#38ffc6"/>
<rect x="201.1" y="462.01" width="2.97" height="3.47" fill="#38ffc6"/>
<rect x="203.87" y="462.01" width="2.97" height="3.47" fill="#36ffc8"/>
<rect x="206.65" y="462.01" width="2.97" height="3.47" fill="#30ffce"/>
<rect x="209.42" y="462.01" width="2.97" height="3.47" fill="#26ffd8"/>
<rect x="212.19" y="462.01" width="2.97" height="3.47" fill="#18ffe6"/>
<rect x="214.97" y="462.01" width="2.97" height="3.47" fill="#09fff5"/>
<rect x="217.74" y="462.01" width="2.97" height="3.47" fill="#00f8ff"/>
<rect x="220.51" y="462.01" width="2.97" height="3.47" fill="#00e7ff"/>
<rect x="223.29" y="462.01" width="2.97" height="3.47" fill="#00d5ff"/>
<rect x="226.06" y="462.01" width="2.97" height="3.47" fill="#00c2ff"/>
<rect x="228.83" y="462.01" width="2.97" height="3.47" fill="#00abff"/>
<rect x="231.61" y="462.01" width="2.97" height="3.47" fill="#0092ff"/>
<rect x="234.38" y="462.01" width="2.97" height="3.47" fill="#0079ff"/>
<rect x="237.15" y="462.01" width="2.97" height="3.47" fill="#0066ff"/>
<rect x="239.93" y="462.01" width="2.97" height="3.47" fill="#0060ff"/>
<rect x="242.7" y="462.01" width="2.97" height="3.47" fill="#0060ff"/>
<rect x="198.33" y="465.28" width="2.97" height="3.47" fill="#4dffb1"/>
<rect x="201.1" y="465.28" width="2.97" height="3.47" fill="#4dffb1"/>
<rect x="203.87" y="465.28" width="2.97" height="3.47" fill="#4bffb3"/>
<rect x="206.65" y="465.28" width="2.97" height="3.47" fill="#43ffbb"/>
<rect x="209.42" y="465.28" width="2.97" height="3.47" fill="#37ffc7"/>
<rect x="212.19" y="465.28" width="2.97" height="3.47" fill="#27ffd7"/>
<rect x="214.97" y="465.28" width="2.97" height="3.47" fill="#15ffe9"/>
<rect x="217.74" y="465.28" width="2.97" height="3.47" fill="#02fffc"/>
<rect x="220.51" y="465.28" width="2.97" height="3.47" fill="#00eeff"/>
<rect x="223.29" y="465.28" width="2.97" height="3.47" fill="#00d9ff"/>
<rect x="226.06" y="465.28" width="2.97" height="3.47" fill="#00c3ff"/>
<rect x="228.83" y="465.28" width="2.97" height="3.47" fill="#00a9ff"/>
<rect x="231.61" y="465.28" width="2.97" height="3.47" fill="#008cff"/>
<rect x="234.38" y="465.28" width="2.97" height="3.47" fill="#006fff"/>
<rect x="237.15" y="465.28" width="2.97" height="3.47" fill="#005bff"/>
<rect x="239.93" y="465.28" width="2.97" height="3.47" fill="#0054ff"/>
<rect x="242.7" y="465.28" width="2.97" height="3.47" fill="#0054ff"/>
<rect x="198.33" y="468.55" width="2.97" height="3.47" fill="#63ff9b"/>
<rect x="201.1" y="468.55" width="2.97" height="3.47" fill="#63ff9b"/>
<rect x="203.87" y="468.55" width="2.97" height="3.47" fill="#60ff9e"/>
<rect x="206.65" y="468.55" width="2.97" height="3.47" fill="#57ffa7"/>
<rect x="209.42" y="468.55" width="2.97" height="3.47" fill="#49ffb5"/>
<rect x="212.19" y="468.55" width="2.97" height="3.47" fill="#37ffc7"/>
<rect x="214.97" y="468.55" width="2.97" height="3.47" fill="#22ffdc"/>
<rect x="217.74" y="468.55" width="2.97" height="3.47" fill="#0cfff2"/>
<rect x="220.51" y="468.55" width="2.97" height="3.47" fill="#00f5ff"/>
<rect x="223.29" y="468.55" width="2.97" height="3.47" fill="#00deff"/>
<rect x="226.06" y="468.55" width="2.97" height="3.47" fill="#00c4ff"/>
<rect x="228.83" y="468.55" width="2.97" height="3.47" fill="#00a6ff"/>
<rect x="231.61" y="468.55" width="2.97" height="3.47" fill="#0085ff"/>
<rect x="234.38" y="468.55" width="2.97" height="3.47" fill="#0065ff"/>
<rect x="237.15" y="468.55" width="2.97" height="3.47" fill="#004fff"/>
<rect x="239.93" y="468.55" width="2.97" height="3.47" fill="#0049ff"/>
<rect x="242.7" y="468.55" width="2.97" height="3.47" fill="#0049ff"/>
<rect x="198.33" y="471.82" width="2.97" height="3.47" fill="#7aff84"/>
<rect x="201.1" y="471.82" width="2.97" height="3.47" fill="#7aff84"/>
<rect x="203.87" y="471.82" width="2.97" height="3.47" fill="#76ff88"/>
<rect x="206.65" y="471.82" width="2.97" height="3.47" fill="#6cff92"/>
<rect x="209.42" y="471.82" width="2.97" height="3.47" fill="#5bffa3"/>
<rect x="212.19" y="471.82" width="2.97" height="3.47" fill="#47ffb7"/>
<rect x="214.97" y="471.82" width="2.97" height="3.47" fill="#2fffcf"/>
<rect x="217.74" y="471.82" width="2.97" height="3.47" fill="#17ffe7"/>
<rect x="220.51" y="471.82" width="2.97" height="3.47" fill="#00fcff"/>
<rect x="223.29" y="471.82" width="2.97" height="3.47" fill="#00e2ff"/>
<rect x="226.06" y="471.82" width="2.97" height="3.47" fill="#00c4ff"/>
<rect x="228.83" y="471.82" width="2.97" height="3.47" fill="#00a2ff"/>
<rect x="231.61" y="471.82" width="2.97" height="3.47" fill="#007dff"/>
<rect x="234.38" y="471.82" width="2.97" height="3.47" fill="#005bff"/>
<rect x="237.15" y="471.82" width="2.97" height="3.47" fill="#0043ff"/>
<rect x="239.93" y="471.82" width="2.97" height="3.47" fill="#003dff"/>
<rect x="242.7" y="471.82" width="2.97" height="3.47" fill="#003dff"/>
<rect x="198.33" y="475.09" width="2.97" height="3.47" fill="#92ff6c"/>
<rect x="201.1" y="475.09" width="2.97" height="3.47" fill="#92ff6c"/>
<rect x="203.87" y="475.09" width="2.97" height="3.47" fill="#8dff71"/>
<rect x="206.65" y="475.09" width="2.97" height="3.47" fill="#81ff7d"/>
<rect x="209.42" y="475.09" width="2.97" height="3.47" fill="#6eff90"/>
<rect x="212.19" y="475.09" width="2.97" height="3.47" fill="#57ffa7"/>
<rect x="214.97" y="475.09" width="2.97" height="3.47" fill="#3cffc2"/>
<rect x="217.74" y="475.09" width="2.97" height="3.47" fill="#21ffdd"/>
<rect x="220.51" y="475.09" width="2.97" height="3.47" fill="#04fffa"/>
<rect x="223.29" y="475.09" width="2.97" height="3.47" fill="#00e6ff"/>
<rect x="226.06" y="475.09" width="2.97" height="3.47" fill="#00c4ff"/>
<rect x="228.83" y="475.09" width="2.97" height="3.47" fill="#009eff"/>
<rect x="231.61" y="475.09" width="2.97" height="3.47" fill="#0075ff"/>
<rect x="234.38" y="475.09" width="2.97" height="3.47" fill="#004fff"/>
<rect x="237.15" y="475.09" width="2.97" height="3.47" fill="#0036ff"/>
<rect x="239.93" y="475.09" width="2.97" height="3.47" fill="#0031ff"/>
<rect x="242.7" y="475.09" width="2.97" height="3.47" fill="#0031ff"/>
<rect x="198.33" y="478.36" width="2.97" height="3.47" fill="#aaff54"/>
<rect x="201.1" y="478.36" width="2.97" height="3.47" fill="#aaff54"/>
<rect x="203.87" y="478.36" width="2.97" height="3.47" fill="#a4ff5a"/>
<rect x="206.65" y="478.36" width="2.97" height="3.47" fill="#96ff68"/>
<rect x="209.42" y="478.36" width="2.97" height="3.47" fill="#81ff7d"/>
<rect x="212.19" y="478.36" width="2.97" height="3.47" fill="#67ff97"/>
<rect x="214.97" y="478.36" width="2.97" height="3.47" fill="#49ffb5"/>
<rect x="217.74" y="478.36" width="2.97" height="3.47" fill="#2bffd3"/>
<rect x="220.51" y="478.36" width="2.97" height="3.47" fill="#0bfff3"/>
<rect x="223.29" y="478.36" width="2.97" height="3.47" fill="#00e9ff"/>
<rect x="226.06" y="478.36" width="2.97" height="3.47" fill="#00c4ff"/>
<rect x="228.83" y="478.36" width="2.97" height="3.47" fill="#009aff"/>
<rect x="231.61" y="478.36" width="2.97" height="3.47" fill="#006dff"/>
<rect x="234.38" y="478.36" width="2.97" height="3.47" fill="#0044ff"/>
<rect x="237.15" y="478.36" width="2.97" height="3.47" fill="#002aff"/>
<rect x="239.93" y="478.36" width="2.97" height="3.47" fill="#0025ff"/>
<rect x="242.7" y="478.36" width="2.97" height="3.47" fill="#0025ff"/>
<rect x="198.33" y="481.63" width="2.97" height="3.47" fill="#c3ff3b"/>
<rect x="201.1" y="481.63" width="2.97" height="3.47" fill="#c3ff3b"/>
<rect x="203.87" y="481.63" width="2.97" height="3.47" fill="#bcff42"/>
<rect x="206.65" y="481.63" width="2.97" height="3.47" fill="#abff53"/>
<rect x="209.42" y="481.63" width="2.97" height="3.47" fill="#93ff6b"/>
<rect x="212.19" y="481.63" width="2.97" height="3.47" fill="#76ff88"/>
<rect x="214.97" y="481.63" width="2.97" height="3.47" fill="#56ffa8"/>
<rect x="217.74" y="481.63" width="2.97" height="3.47" fill="#34ffca"/>
<rect x="220.51" y="481.63" width="2.97" height="3.47" fill="#11ffed"/>
<rect x="223.29" y="481.63" width="2.97" height="3.47" fill="#00ecff"/>
<rect x="226.06" y="481.63" width="2.97" height="3.47" fill="#00c4ff"/>
<rect x="228.83" y="481.63" width="2.97" height="3.47" fill="#0095ff"/>
<rect x="231.61" y="481.63" width="2.97" height="3.47" fill="#0064ff"/>
<rect x="234.38" y="481.63" width="2.97" height="3.47" fill="#0038ff"/>
<rect x="237.15" y="481.63" width="2.97" height="3.47" fill="#001dff"/>
<rect x="239.93" y="481.63" width="2.97" height="3.47" fill="#0019ff"/>
<rect x="242.7" y="481.63" width="2.97" height="3.47" fill="#0019ff"/>
<rect x="198.33" y="484.9" width="2.97" height="3.47" fill="#ddff21"/>
<rect x="201.1" y="484.9" width="2.97" height="3.47" fill="#dcff22"/>
<rect x="203.87" y="484.9" width="2.97" height="3.47" fill="#d4ff2a"/>
<rect x="206.65" y="484.9" width="2.97" height="3.47" fill="#c1ff3d"/>
<rect x="209.42" y="484.9" width="2.97" height="3.47" fill="#a6ff58"/>
<rect x="212.19" y="484.9" width="2.97" height="3.47" fill="#85ff79"/>
<rect x="214.97" y="484.9" width="2.97" height="3.47" fill="#61ff9d"/>
<rect x="217.74" y="484.9" width="2.97" height="3.47" fill="#3cffc2"/>
<rect x="220.51" y="484.9" width="2.97" height="3.47" fill="#17ffe7"/>
<rect x="223.29" y="484.9" width="2.97" height="3.47" fill="#00eeff"/>
<rect x="226.06" y="484.9" width="2.97" height="3.47" fill="#00c2ff"/>
<rect x="228.83" y="484.9" width="2.97" height="3.47" fill="#0090ff"/>
<rect x="231.61" y="484.9" width="2.97" height="3.47" fill="#005bff"/>
<rect x="234.38" y="484.9" width="2.97" height="3.47" fill="#002dff"/>
<rect x="237.15" y="484.9" width="2.97" height="3.47" fill="#0011ff"/>
<rect x="239.93" y="484.9" width="2.97" height="3.47" fill="#000eff"/>
<rect x="242.7" y="484.9" width="2.97" height="3.47" fill="#000eff"/>
<rect x="198.33" y="488.18" width="2.97" height="3.47" fill="#faff04"/>
<rect x="201.1" y="488.18" width="2.97" height="3.47" fill="#faff04"/>
<rect x="203.87" y="488.18" width="2.97" height="3.47" fill="#efff0f"/>
<rect x="206.65" y="488.18" width="2.97" height="3.47" fill="#d8ff26"/>
<rect x="209.42" y="488.18" width="2.97" height="3.47" fill="#b8ff46"/>
<rect x="212.19" y="488.18" width="2.97" height="3.47" fill="#93ff6b"/>
<rect x="214.97" y="488.18" width="2.97" height="3.47" fill="#6cff92"/>
<rect x="217.74" y="488.18" width="2.97" height="3.47" fill="#44ffba"/>
<rect x="220.51" y="488.18" width="2.97" height="3.47" fill="#1bffe3"/>
<rect x="223.29" y="488.18" width="2.97" height="3.47" fill="#00f0ff"/>
<rect x="226.06" y="488.18" width="2.97" height="3.47" fill="#00c0ff"/>
<rect x="228.83" y="488.18" width="2.97" height="3.47" fill="#008bff"/>
<rect x="231.61" y="488.18" width="2.97" height="3.47" fill="#0052ff"/>
<rect x="234.38" y="488.18" width="2.97" height="3.47" fill="#0022ff"/>
<rect x="237.15" y="488.18" width="2.97" height="3.47" fill="#0006ff"/>
<rect x="239.93" y="488.18" width="2.97" height="3.47" fill="#0004ff"/>
<rect x="242.7" y="488.18" width="2.97" height="3.47" fill="#0004ff"/>
<rect x="198.33" y="491.45" width="2.97" height="3.47" fill="#ffdd00"/>
<rect x="201.1" y="491.45" width="2.97" height="3.47" fill="#ffde00"/>
<rect x="203.87" y="491.45" width="2.97" height="3.47" fill="#ffec00"/>
<rect x="206.65" y="491.45" width="2.97" height="3.47" fill="#f3ff0b"/>
<rect x="209.42" y="491.45" width="2.97" height="3.47" fill="#ccff32"/>
<rect x="212.19" y="491.45" width="2.97" height="3.47" fill="#a1ff5d"/>
<rect x="214.97" y="491.45" width="2.97" height="3.47" fill="#75ff89"/>
<rect x="217.74" y="491.45" width="2.97" height="3.47" fill="#4affb4"/>
<rect x="220.51" y="491.45" width="2.97" height="3.47" fill="#1fffdf"/>
<rect x="223.29" y="491.45" width="2.97" height="3.47" fill="#00f0ff"/>
<rect x="226.06" y="491.45" width="2.97" height="3.47" fill="#00beff"/>
<rect x="228.83" y="491.45" width="2.97" height="3.47" fill="#0085ff"/>
<rect x="231.61" y="491.45" width="2.97" height="3.47" fill="#004aff"/>
<rect x="234.38" y="491.45" width="2.97" height="3.47" fill="#0018ff"/>
<rect x="237.15" y="491.45" width="2.97" height="3.47" fill="#0000fb"/>
<rect x="239.93" y="491.45" width="2.97" height="3.47" fill="#0000fa"/>
<rect x="242.7" y="491.45" width="2.97" height="3.47" fill="#0000fa"/>
<rect x="198.33" y="494.72" width="2.97" height="3.47" fill="#ffac00"/>
<rect x="201.1" y="494.72" width="2.97" height="3.47" fill="#ffad00"/>
<rect x="203.87" y="494.72" width="2.97" height="3.47" fill="#ffc200"/>
<rect x="206.65" y="494.72" width="2.97" height="3.47" fill="#ffea00"/>
<rect x="209.42" y="494.72" width="2.97" height="3.47" fill="#e2ff1c"/>
<rect x="212.19" y="494.72" width="2.97" height="3.47" fill="#afff4f"/>
<rect x="214.97" y="494.72" width="2.97" height="3.47" fill="#7eff80"/>
<rect x="217.74" y="494.72" width="2.97" height="3.47" fill="#4fffaf"/>
<rect x="220.51" y="494.72" width="2.97" height="3.47" fill="#21ffdd"/>
<rect x="223.29" y="494.72" width="2.97" height="3.47" fill="#00f0ff"/>
<rect x="226.06" y="494.72" width="2.97" height="3.47" fill="#00bbff"/>
<rect x="228.83" y="494.72" width="2.97" height="3.47" fill="#007fff"/>
<rect x="231.61" y="494.72" width="2.97" height="3.47" fill="#0041ff"/>
<rect x="234.38" y="494.72" width="2.97" height="3.47" fill="#000fff"/>
<rect x="237.15" y="494.72" width="2.97" height="3.47" fill="#0000f3"/>
<rect x="239.93" y="494.72" width="2.97" height="3.47" fill="#0000f2"/>
<rect x="242.7" y="494.72" width="2.97" height="3.47" fill="#0000f2"/>
<rect x="198.33" y="497.99" width="2.97" height="3.47" fill="#ff7200"/>
<rect x="201.1" y="497.99" width="2.97" height="3.47" fill="#ff7500"/>
<rect x="203.87" y="497.99" width="2.97" height="3.47" fill="#ff9200"/>
<rect x="206.65" y="497.99" width="2.97" height="3.47" fill="#ffc600"/>
<rect x="209.42" y="497.99" width="2.97" height="3.47" fill="#f9ff05"/>
<rect x="212.19" y="497.99" width="2.97" height="3.47" fill="#bcff42"/>
<rect x="214.97" y="497.99" width="2.97" height="3.47" fill="#84ff7a"/>
<rect x="217.74" y="497.99" width="2.97" height="3.47" fill="#52ffac"/>
<rect x="220.51" y="497.99" width="2.97" height="3.47" fill="#22ffdc"/>
<rect x="223.29" y="497.99" width="2.97" height="3.47" fill="#00efff"/>
<rect x="226.06" y="497.99" width="2.97" height="3.47" fill="#00b7ff"/>
<rect x="228.83" y="497.99" width="2.97" height="3.47" fill="#0079ff"/>
<rect x="231.61" y="497.99" width="2.97" height="3.47" fill="#003aff"/>
<rect x="234.38" y="497.99" width="2.97" height="3.47" fill="#0006ff"/>
<rect x="237.15" y="497.99" width="2.97" height="3.47" fill="#0000ec"/>
<rect x="239.93" y="497.99" width="2.97" height="3.47" fill="#0000eb"/>
<rect x="242.7" y="497.99" width="2.97" height="3.47" fill="#0000eb"/>
<rect x="198.33" y="501.26" width="2.97" height="3.47" fill="#ff3b00"/>
<rect x="201.1" y="501.26" width="2.97" height="3.47" fill="#ff3f00"/>
<rect x="203.87" y="501.26" width="2.97" height="3.47" fill="#ff6600"/>
<rect x="206.65" y="501.26" width="2.97" height="3.47" fill="#ffa800"/>
<rect x="209.42" y="501.26" width="2.97" height="3.47" fill="#fff200"/>
<rect x="212.19" y="501.26" width="2.97" height="3.47" fill="#c5ff39"/>
<rect x="214.97" y="501.26" width="2.97" height="3.47" fill="#88ff76"/>
<rect x="217.74" y="501.26" width="2.97" height="3.47" fill="#53ffab"/>
<rect x="220.51" y="501.26" width="2.97" height="3.47" fill="#21ffdd"/>
<rect x="223.29" y="501.26" width="2.97" height="3.47" fill="#00ecff"/>
<rect x="226.06" y="501.26" width="2.97" height="3.47" fill="#00b3ff"/>
<rect x="228.83" y="501.26" width="2.97" height="3.47" fill="#0073ff"/>
<rect x="231.61" y="501.26" width="2.97" height="3.47" fill="#0033ff"/>
<rect x="234.38" y="501.26" width="2.97" height="3.47" fill="#0000ff"/>
<rect x="237.15" y="501.26" width="2.97" height="3.47" fill="#0000e7"/>
<rect x="239.93" y="501.26" width="2.97" height="3.47" fill="#0000e7"/>
<rect x="242.7" y="501.26" width="2.97" height="3.47" fill="#0000e7"/>
<rect x="198.33" y="504.53" width="2.97" height="3.47" fill="#ff1900"/>
<rect x="201.1" y="504.53" width="2.97" height="3.47" fill="#ff1f00"/>
<rect x="203.87" y="504.53" width="2.97" height="3.47" fill="#ff4d00"/>
<rect x="206.65" y="504.53" width="2.97" height="3.47" fill="#ff9800"/>
<rect x="209.42" y="504.53" width="2.97" height="3.47" fill="#ffea00"/>
<rect x="212.19" y="504.53" width="2.97" height="3.47" fill="#c8ff36"/>
<rect x="214.97" y="504.53" width="2.97" height="3.47" fill="#88ff76"/>
<rect x="217.74" y="504.53" width="2.97" height="3.47" fill="#51ffad"/>
<rect x="220.51" y="504.53" width="2.97" height="3.47" fill="#1effe0"/>
<rect x="223.29" y="504.53" width="2.97" height="3.47" fill="#00e9ff"/>
<rect x="226.06" y="504.53" width="2.97" height="3.47" fill="#00aeff"/>
<rect x="228.83" y="504.53" width="2.97" height="3.47" fill="#006dff"/>
<rect x="231.61" y="504.53" width="2.97" height="3.47" fill="#002cff"/>
<rect x="234.38" y="504.53" width="2.97" height="3.47" fill="#0000f9"/>
<rect x="237.15" y="504.53" width="2.97" height="3.47" fill="#0000e4"/>
<rect x="239.93" y="504.53" width="2.97" height="3.47" fill="#0000e4"/>
<rect x="242.7" y="504.53" width="2.97" height="3.47" fill="#0000e4"/>
<rect x="198.33" y="507.8" width="2.97" height="3.47" fill="#ff1400"/>
<rect x="201.1" y="507.8" width="2.97" height="3.47" fill="#ff1b00"/>
<rect x="203.87" y="507.8" width="2.97" height="3.47" fill="#ff4b00"/>
<rect x="206.65" y="507.8" width="2.97" height="3.47" fill="#ff9800"/>
<rect x="209.42" y="507.8" width="2.97" height="3.47" fill="#ffeb00"/>
<rect x="212.19" y="507.8" width="2.97" height="3.47" fill="#c7ff37"/>
<rect x="214.97" y="507.8" width="2.97" height="3.47" fill="#87ff77"/>
<rect x="217.74" y="507.8" width="2.97" height="3.47" fill="#50ffae"/>
<rect x="220.51" y="507.8" width="2.97" height="3.47" fill="#1cffe2"/>
<rect x="223.29" y="507.8" width="2.97" height="3.47" fill="#00e6ff"/>
<rect x="226.06" y="507.8" width="2.97" height="3.47" fill="#00abff"/>
<rect x="228.83" y="507.8" width="2.97" height="3.47" fill="#006aff"/>
<rect x="231.61" y="507.8" width="2.97" height="3.47" fill="#002aff"/>
<rect x="234.38" y="507.8" width="2.97" height="3.47" fill="#0000f7"/>
<rect x="237.15" y="507.8" width="2.97" height="3.47" fill="#0000e3"/>
<rect x="239.93" y="507.8" width="2.97" height="3.47" fill="#0000e3"/>
<rect x="242.7" y="507.8" width="2.97" height="3.47" fill="#0000e3"/>
</g>
</g>
<rect x="197.4" y="427.5" width="49.6" height="82.8" fill="none" stroke="#8a8a8a" stroke-width="0.85"/>
<line x1="196.1" y1="508.2" x2="197.4" y2="508.2" stroke="#444" stroke-width="0.45" />
<text x="195.6" y="509.8" font-size="4.7" text-anchor="end" fill="#111" stroke="#111" stroke-width="0.14" >0.0</text>
<line x1="196.1" y1="496.93" x2="197.4" y2="496.93" stroke="#444" stroke-width="0.45" />
<text x="195.6" y="498.53" font-size="4.7" text-anchor="end" fill="#111" stroke="#111" stroke-width="0.14" >0.5</text>
<line x1="196.1" y1="485.66" x2="197.4" y2="485.66" stroke="#444" stroke-width="0.45" />
<text x="195.6" y="487.26" font-size="4.7" text-anchor="end" fill="#111" stroke="#111" stroke-width="0.14" >1.0</text>
<line x1="196.1" y1="474.39" x2="197.4" y2="474.39" stroke="#444" stroke-width="0.45" />
<text x="195.6" y="475.99" font-size="4.7" text-anchor="end" fill="#111" stroke="#111" stroke-width="0.14" >1.5</text>
<line x1="196.1" y1="463.12" x2="197.4" y2="463.12" stroke="#444" stroke-width="0.45" />
<text x="195.6" y="464.72" font-size="4.7" text-anchor="end" fill="#111" stroke="#111" stroke-width="0.14" >2.0</text>
<line x1="196.1" y1="451.85" x2="197.4" y2="451.85" stroke="#444" stroke-width="0.45" />
<text x="195.6" y="453.45" font-size="4.7" text-anchor="end" fill="#111" stroke="#111" stroke-width="0.14" >2.5</text>
<line x1="196.1" y1="440.58" x2="197.4" y2="440.58" stroke="#444" stroke-width="0.45" />
<text x="195.6" y="442.18" font-size="4.7" text-anchor="end" fill="#111" stroke="#111" stroke-width="0.14" >3.0</text>
<line x1="196.1" y1="429.31" x2="197.4" y2="429.31" stroke="#444" stroke-width="0.45" />
<text x="195.6" y="430.91" font-size="4.7" text-anchor="end" fill="#111" stroke="#111" stroke-width="0.14" >3.5</text>
<line x1="201.3" y1="510.3" x2="201.3" y2="511.6" stroke="#444" stroke-width="0.45" />
<text x="201.3" y="516.3" font-size="4.7" text-anchor="middle" fill="#111" stroke="#111" stroke-width="0.14" >0</text>
<line x1="223.8" y1="510.3" x2="223.8" y2="511.6" stroke="#444" stroke-width="0.45" />
<text x="223.8" y="516.3" font-size="4.7" text-anchor="middle" fill="#111" stroke="#111" stroke-width="0.14" >1</text>
<line x1="246.1" y1="510.3" x2="246.1" y2="511.6" stroke="#444" stroke-width="0.45" />
<text x="246.1" y="516.3" font-size="4.7" text-anchor="middle" fill="#111" stroke="#111" stroke-width="0.14" >2</text>
<linearGradient id="jg2" x1="0" y1="1" x2="0" y2="0">
<stop offset="0" stop-color="#00007f"/>
<stop offset="0.1" stop-color="#0000e5"/>
<stop offset="0.2" stop-color="#004cff"/>
<stop offset="0.3" stop-color="#00b2ff"/>
<stop offset="0.4" stop-color="#19ffe5"/>
<stop offset="0.5" stop-color="#7fff7f"/>
<stop offset="0.6" stop-color="#e5ff19"/>
<stop offset="0.7" stop-color="#ffb200"/>
<stop offset="0.8" stop-color="#ff4c00"/>
<stop offset="0.9" stop-color="#e50000"/>
<stop offset="1" stop-color="#7f0000"/>
</linearGradient>
<rect x="250" y="427.5" width="4.4" height="82.8" fill="url(#jg2)" stroke="#444" stroke-width="0.45"/>
<line x1="254.4" y1="438.7" x2="255.6" y2="438.7" stroke="#444" stroke-width="0.45" />
<text x="256.2" y="440.3" font-size="4.7" text-anchor="start" fill="#111" stroke="#111" stroke-width="0.14" >0.003</text>
<line x1="254.4" y1="453.5" x2="255.6" y2="453.5" stroke="#444" stroke-width="0.45" />
<text x="256.2" y="455.1" font-size="4.7" text-anchor="start" fill="#111" stroke="#111" stroke-width="0.14" >0.002</text>
<line x1="254.4" y1="468.9" x2="255.6" y2="468.9" stroke="#444" stroke-width="0.45" />
<text x="256.2" y="470.5" font-size="4.7" text-anchor="start" fill="#111" stroke="#111" stroke-width="0.14" >0.001</text>
<line x1="254.4" y1="483.7" x2="255.6" y2="483.7" stroke="#444" stroke-width="0.45" />
<text x="256.2" y="485.3" font-size="4.7" text-anchor="start" fill="#111" stroke="#111" stroke-width="0.14" >0.000</text>
<line x1="254.4" y1="498.9" x2="255.6" y2="498.9" stroke="#444" stroke-width="0.45" />
<text x="256.2" y="500.5" font-size="4.7" text-anchor="start" fill="#111" stroke="#111" stroke-width="0.14" >−0.001</text>
<rect x="4.7" y="4.6" width="497.6" height="539.7" fill="none" stroke="#777" stroke-width="1.5"/>
<line x1="4.7" y1="20.2" x2="502.3" y2="20.2" stroke="#777" stroke-width="1.5" />
<line x1="4.7" y1="190.4" x2="502.3" y2="190.4" stroke="#777" stroke-width="1.5" />
<line x1="4.7" y1="363.1" x2="502.3" y2="363.1" stroke="#777" stroke-width="1.5" />
<line x1="48" y1="4.6" x2="48" y2="544.3" stroke="#777" stroke-width="1.5" />
<line x1="282.5" y1="4.6" x2="282.5" y2="544.3" stroke="#777" stroke-width="1.5" />
<line x1="431.6" y1="4.6" x2="431.6" y2="544.3" stroke="#777" stroke-width="1.5" />
<line x1="282.5" y1="105.2" x2="431.6" y2="105.2" stroke="#777" stroke-width="1.5" />
<line x1="282.5" y1="276.5" x2="431.6" y2="276.5" stroke="#777" stroke-width="1.5" />
<line x1="282.5" y1="452.8" x2="431.6" y2="452.8" stroke="#777" stroke-width="1.5" />
<text x="25.8" y="15.3" font-size="9" text-anchor="middle" fill="#111" stroke="#111" stroke-width="0.18" >Example</text>
<text x="177.2" y="15.2" font-size="9.1" text-anchor="middle" fill="#111" stroke="#111" stroke-width="0.18" >Pushover analysis results</text>
<text x="358.5" y="14.1" font-size="9" text-anchor="middle" fill="#111" stroke="#111" stroke-width="0.18" >Model / Deformation</text>
<text x="468.7" y="15.3" font-size="8.9" text-anchor="middle" fill="#111" stroke="#111" stroke-width="0.18" >Wall section [cm]</text>
<text x="26.6" y="100.6" font-size="12.3" text-anchor="middle" fill="#111" stroke="#111" stroke-width="0.05" >A</text>
<text x="26" y="292.3" font-size="12.3" text-anchor="middle" fill="#111" stroke="#111" stroke-width="0.05" >B</text>
<text x="23.1" y="456.4" font-size="12.3" text-anchor="middle" fill="#111" stroke="#111" stroke-width="0.05" >C</text>
<text x="285.2" y="29.1" font-size="9" text-anchor="start" fill="#111" stroke="#111" stroke-width="0.18" >Micro. FEM model</text>
<path d="M304.8,99.4 307.7,99.4 310.6,99.4 313.5,99.4 316.4,99.4 319.3,99.4 322.2,99.4 325.1,99.4 328,99.4 330.9,99.4 333.8,99.4 333.8,99.4 333.8,94.49 333.8,89.58 333.8,84.67 333.8,79.76 333.8,74.85 333.8,69.94 333.8,65.03 333.8,60.12 333.8,55.21 333.8,50.3 333.8,50.3 330.9,50.3 328,50.3 325.1,50.3 322.2,50.3 319.3,50.3 316.4,50.3 313.5,50.3 310.6,50.3 307.7,50.3 304.8,50.3 304.8,50.3 304.8,55.21 304.8,60.12 304.8,65.03 304.8,69.94 304.8,74.85 304.8,79.76 304.8,84.67 304.8,89.58 304.8,94.49 304.8,99.4Z" fill="#e6e6e6"/>
<path d="M304.8,99.4 304.8,94.49 304.8,89.58 304.8,84.67 304.8,79.76 304.8,74.85 304.8,69.94 304.8,65.03 304.8,60.12 304.8,55.21 304.8,50.3 311.18,50.3 311.18,55.21 311.18,60.12 311.18,65.03 311.18,69.94 311.18,74.85 311.18,79.76 311.18,84.67 311.18,89.58 311.18,94.49 311.18,99.4Z M327.42,99.4 327.42,94.49 327.42,89.58 327.42,84.67 327.42,79.76 327.42,74.85 327.42,69.94 327.42,65.03 327.42,60.12 327.42,55.21 327.42,50.3 333.8,50.3 333.8,55.21 333.8,60.12 333.8,65.03 333.8,69.94 333.8,74.85 333.8,79.76 333.8,84.67 333.8,89.58 333.8,94.49 333.8,99.4Z" fill="#c6c6c6"/>
<path d="M305.86,99.4 305.86,94.49 305.86,89.58 305.86,84.67 305.86,79.76 305.86,74.85 305.86,69.94 305.86,65.03 305.86,60.12 305.86,55.21 305.86,50.3 M306.93,99.4 306.93,94.49 306.93,89.58 306.93,84.67 306.93,79.76 306.93,74.85 306.93,69.94 306.93,65.03 306.93,60.12 306.93,55.21 306.93,50.3 M309.05,99.4 309.05,94.49 309.05,89.58 309.05,84.67 309.05,79.76 309.05,74.85 309.05,69.94 309.05,65.03 309.05,60.12 309.05,55.21 309.05,50.3 M310.12,99.4 310.12,94.49 310.12,89.58 310.12,84.67 310.12,79.76 310.12,74.85 310.12,69.94 310.12,65.03 310.12,60.12 310.12,55.21 310.12,50.3 M313.21,99.4 313.21,94.49 313.21,89.58 313.21,84.67 313.21,79.76 313.21,74.85 313.21,69.94 313.21,65.03 313.21,60.12 313.21,55.21 313.21,50.3 M317.27,99.4 317.27,94.49 317.27,89.58 317.27,84.67 317.27,79.76 317.27,74.85 317.27,69.94 317.27,65.03 317.27,60.12 317.27,55.21 317.27,50.3 M321.33,99.4 321.33,94.49 321.33,89.58 321.33,84.67 321.33,79.76 321.33,74.85 321.33,69.94 321.33,65.03 321.33,60.12 321.33,55.21 321.33,50.3 M325.39,99.4 325.39,94.49 325.39,89.58 325.39,84.67 325.39,79.76 325.39,74.85 325.39,69.94 325.39,65.03 325.39,60.12 325.39,55.21 325.39,50.3 M328.48,99.4 328.48,94.49 328.48,89.58 328.48,84.67 328.48,79.76 328.48,74.85 328.48,69.94 328.48,65.03 328.48,60.12 328.48,55.21 328.48,50.3 M329.55,99.4 329.55,94.49 329.55,89.58 329.55,84.67 329.55,79.76 329.55,74.85 329.55,69.94 329.55,65.03 329.55,60.12 329.55,55.21 329.55,50.3 M331.67,99.4 331.67,94.49 331.67,89.58 331.67,84.67 331.67,79.76 331.67,74.85 331.67,69.94 331.67,65.03 331.67,60.12 331.67,55.21 331.67,50.3 M332.74,99.4 332.74,94.49 332.74,89.58 332.74,84.67 332.74,79.76 332.74,74.85 332.74,69.94 332.74,65.03 332.74,60.12 332.74,55.21 332.74,50.3 M304.8,97.76 312.05,97.76 319.3,97.76 326.55,97.76 333.8,97.76 M304.8,96.13 312.05,96.13 319.3,96.13 326.55,96.13 333.8,96.13 M304.8,92.85 312.05,92.85 319.3,92.85 326.55,92.85 333.8,92.85 M304.8,91.22 312.05,91.22 319.3,91.22 326.55,91.22 333.8,91.22 M304.8,87.94 312.05,87.94 319.3,87.94 326.55,87.94 333.8,87.94 M304.8,86.31 312.05,86.31 319.3,86.31 326.55,86.31 333.8,86.31 M304.8,83.03 312.05,83.03 319.3,83.03 326.55,83.03 333.8,83.03 M304.8,81.4 312.05,81.4 319.3,81.4 326.55,81.4 333.8,81.4 M304.8,78.12 312.05,78.12 319.3,78.12 326.55,78.12 333.8,78.12 M304.8,76.49 312.05,76.49 319.3,76.49 326.55,76.49 333.8,76.49 M304.8,73.21 312.05,73.21 319.3,73.21 326.55,73.21 333.8,73.21 M304.8,71.58 312.05,71.58 319.3,71.58 326.55,71.58 333.8,71.58 M304.8,68.3 312.05,68.3 319.3,68.3 326.55,68.3 333.8,68.3 M304.8,66.67 312.05,66.67 319.3,66.67 326.55,66.67 333.8,66.67 M304.8,63.39 312.05,63.39 319.3,63.39 326.55,63.39 333.8,63.39 M304.8,61.76 312.05,61.76 319.3,61.76 326.55,61.76 333.8,61.76 M304.8,58.48 312.05,58.48 319.3,58.48 326.55,58.48 333.8,58.48 M304.8,56.85 312.05,56.85 319.3,56.85 326.55,56.85 333.8,56.85 M304.8,53.57 312.05,53.57 319.3,53.57 326.55,53.57 333.8,53.57 M304.8,51.94 312.05,51.94 319.3,51.94 326.55,51.94 333.8,51.94" fill="none" stroke="#a4a4a4" stroke-width="0.3"/>
<path d="M304.8,99.4 304.8,94.49 304.8,89.58 304.8,84.67 304.8,79.76 304.8,74.85 304.8,69.94 304.8,65.03 304.8,60.12 304.8,55.21 304.8,50.3 M307.99,99.4 307.99,94.49 307.99,89.58 307.99,84.67 307.99,79.76 307.99,74.85 307.99,69.94 307.99,65.03 307.99,60.12 307.99,55.21 307.99,50.3 M311.18,99.4 311.18,94.49 311.18,89.58 311.18,84.67 311.18,79.76 311.18,74.85 311.18,69.94 311.18,65.03 311.18,60.12 311.18,55.21 311.18,50.3 M315.24,99.4 315.24,94.49 315.24,89.58 315.24,84.67 315.24,79.76 315.24,74.85 315.24,69.94 315.24,65.03 315.24,60.12 315.24,55.21 315.24,50.3 M319.3,99.4 319.3,94.49 319.3,89.58 319.3,84.67 319.3,79.76 319.3,74.85 319.3,69.94 319.3,65.03 319.3,60.12 319.3,55.21 319.3,50.3 M323.36,99.4 323.36,94.49 323.36,89.58 323.36,84.67 323.36,79.76 323.36,74.85 323.36,69.94 323.36,65.03 323.36,60.12 323.36,55.21 323.36,50.3 M327.42,99.4 327.42,94.49 327.42,89.58 327.42,84.67 327.42,79.76 327.42,74.85 327.42,69.94 327.42,65.03 327.42,60.12 327.42,55.21 327.42,50.3 M330.61,99.4 330.61,94.49 330.61,89.58 330.61,84.67 330.61,79.76 330.61,74.85 330.61,69.94 330.61,65.03 330.61,60.12 330.61,55.21 330.61,50.3 M333.8,99.4 333.8,94.49 333.8,89.58 333.8,84.67 333.8,79.76 333.8,74.85 333.8,69.94 333.8,65.03 333.8,60.12 333.8,55.21 333.8,50.3" fill="none" stroke="#444" stroke-width="0.5"/>
<path d="M304.8,99.4 312.05,99.4 319.3,99.4 326.55,99.4 333.8,99.4 M304.8,94.49 312.05,94.49 319.3,94.49 326.55,94.49 333.8,94.49 M304.8,89.58 312.05,89.58 319.3,89.58 326.55,89.58 333.8,89.58 M304.8,84.67 312.05,84.67 319.3,84.67 326.55,84.67 333.8,84.67 M304.8,79.76 312.05,79.76 319.3,79.76 326.55,79.76 333.8,79.76 M304.8,74.85 312.05,74.85 319.3,74.85 326.55,74.85 333.8,74.85 M304.8,69.94 312.05,69.94 319.3,69.94 326.55,69.94 333.8,69.94 M304.8,65.03 312.05,65.03 319.3,65.03 326.55,65.03 333.8,65.03 M304.8,60.12 312.05,60.12 319.3,60.12 326.55,60.12 333.8,60.12 M304.8,55.21 312.05,55.21 319.3,55.21 326.55,55.21 333.8,55.21 M304.8,50.3 312.05,50.3 319.3,50.3 326.55,50.3 333.8,50.3" fill="none" stroke="#333" stroke-width="0.6"/>
<path d="M369.4,98.9 372.21,98.9 375.02,98.9 377.83,98.9 380.64,98.9 383.45,98.9 386.26,98.9 389.07,98.9 391.88,98.9 394.69,98.9 397.5,98.9 397.5,98.9 397.9,94.4 398.38,89.92 398.9,85.45 399.45,80.99 400.02,76.53 400.61,72.08 401.22,67.63 401.83,63.18 402.46,58.74 403.1,54.3 403.1,54.3 400.31,53.89 397.52,53.48 394.73,53.07 391.94,52.66 389.15,52.25 386.36,51.84 383.57,51.43 380.78,51.02 377.99,50.61 375.2,50.2 375.2,50.2 374.54,55.07 373.89,59.94 373.25,64.81 372.62,69.68 372.01,74.55 371.42,79.42 370.85,84.29 370.31,89.16 369.81,94.03 369.4,98.9Z" fill="#e6e6e6"/>
<path d="M369.4,98.9 369.81,94.03 370.31,89.16 370.85,84.29 371.42,79.42 372.01,74.55 372.62,69.68 373.25,64.81 373.89,59.94 374.54,55.07 375.2,50.2 381.34,51.1 380.68,55.88 380.04,60.65 379.4,65.43 378.78,70.21 378.18,74.99 377.59,79.76 377.02,84.54 376.49,89.33 375.99,94.11 375.58,98.9Z M391.32,98.9 391.72,94.32 392.2,89.75 392.73,85.19 393.29,80.64 393.86,76.09 394.45,71.55 395.06,67.01 395.68,62.47 396.32,57.93 396.96,53.4 403.1,54.3 402.46,58.74 401.83,63.18 401.22,67.63 400.61,72.08 400.02,76.53 399.45,80.99 398.9,85.45 398.38,89.92 397.9,94.4 397.5,98.9Z" fill="#c6c6c6"/>
<path d="M370.43,98.9 370.84,94.04 371.34,89.19 371.88,84.33 372.45,79.48 373.04,74.62 373.65,69.77 374.27,64.91 374.91,60.06 375.56,55.2 376.22,50.35 M371.46,98.9 371.87,94.06 372.37,89.22 372.91,84.37 373.48,79.53 374.07,74.7 374.68,69.86 375.3,65.02 375.94,60.18 376.59,55.34 377.25,50.5 M373.52,98.9 373.93,94.08 374.43,89.27 374.97,84.46 375.53,79.65 376.12,74.84 376.73,70.03 377.35,65.22 377.99,60.42 378.63,55.61 379.29,50.8 M374.55,98.9 374.96,94.1 375.46,89.3 375.99,84.5 376.56,79.71 377.15,74.91 377.75,70.12 378.38,65.33 379.01,60.53 379.66,55.74 380.31,50.95 M377.55,98.9 377.96,94.14 378.45,89.38 378.99,84.63 379.55,79.87 380.14,75.12 380.74,70.38 381.36,65.63 381.99,60.88 382.64,56.13 383.29,51.39 M381.48,98.9 381.89,94.19 382.38,89.49 382.91,84.79 383.48,80.09 384.06,75.4 384.66,70.71 385.27,66.02 385.9,61.33 386.54,56.65 387.2,51.96 M385.42,98.9 385.82,94.24 386.31,89.59 386.84,84.95 387.4,80.31 387.98,75.68 388.58,71.05 389.19,66.42 389.82,61.79 390.45,57.16 391.1,52.54 M389.35,98.9 389.75,94.29 390.24,89.7 390.77,85.11 391.32,80.53 391.9,75.96 392.5,71.38 393.11,66.81 393.73,62.24 394.36,57.68 395.01,53.11 M392.35,98.9 392.75,94.33 393.23,89.78 393.76,85.24 394.31,80.7 394.89,76.17 395.48,71.64 396.09,67.11 396.71,62.59 397.34,58.07 397.99,53.55 M393.38,98.9 393.78,94.34 394.26,89.81 394.79,85.28 395.34,80.76 395.92,76.24 396.51,71.73 397.11,67.22 397.73,62.71 398.37,58.2 399.01,53.7 M395.44,98.9 395.84,94.37 396.32,89.86 396.85,85.36 397.4,80.87 397.97,76.38 398.56,71.9 399.16,67.42 399.78,62.95 400.41,58.47 401.05,54 M396.47,98.9 396.87,94.38 397.35,89.89 397.87,85.41 398.42,80.93 399,76.46 399.59,71.99 400.19,67.53 400.81,63.06 401.44,58.61 402.08,54.15 M369.52,97.28 376.54,97.31 383.56,97.33 390.59,97.36 397.61,97.39 M369.66,95.65 376.68,95.71 383.7,95.77 390.73,95.83 397.75,95.89 M369.97,92.41 376.99,92.53 384.01,92.65 391.03,92.78 398.05,92.9 M370.14,90.78 377.16,90.94 384.18,91.1 391.19,91.25 398.21,91.41 M370.49,87.54 377.5,87.76 384.52,87.98 391.53,88.2 398.55,88.43 M370.67,85.91 377.68,86.17 384.7,86.43 391.71,86.68 398.72,86.94 M371.04,82.67 378.05,82.99 385.06,83.31 392.07,83.64 399.08,83.96 M371.23,81.04 378.24,81.4 385.25,81.76 392.26,82.12 399.27,82.47 M371.62,77.8 378.62,78.22 385.63,78.65 392.63,79.07 399.64,79.5 M371.81,76.17 378.82,76.63 385.82,77.09 392.83,77.55 399.83,78.02 M372.21,72.93 379.22,73.46 386.22,73.99 393.22,74.52 400.22,75.05 M372.42,71.3 379.42,71.87 386.42,72.43 393.42,73 400.41,73.56 M372.83,68.06 379.83,68.69 386.82,69.33 393.82,69.96 400.81,70.59 M373.04,66.43 380.03,67.1 387.03,67.77 394.02,68.44 401.01,69.11 M373.46,63.19 380.45,63.93 387.44,64.67 394.43,65.41 401.42,66.15 M373.67,61.56 380.66,62.34 387.65,63.11 394.64,63.89 401.63,64.67 M374.1,58.32 381.09,59.16 388.07,60.01 395.06,60.86 402.04,61.7 M374.32,56.69 381.3,57.58 388.29,58.46 395.27,59.34 402.25,60.22 M374.76,53.45 381.74,54.4 388.72,55.35 395.69,56.31 402.67,57.26 M374.98,51.82 381.96,52.81 388.93,53.8 395.91,54.79 402.89,55.78" fill="none" stroke="#a4a4a4" stroke-width="0.3"/>
<path d="M369.4,98.9 369.81,94.03 370.31,89.16 370.85,84.29 371.42,79.42 372.01,74.55 372.62,69.68 373.25,64.81 373.89,59.94 374.54,55.07 375.2,50.2 M372.49,98.9 372.9,94.07 373.4,89.24 373.94,84.42 374.51,79.59 375.09,74.77 375.7,69.94 376.32,65.12 376.96,60.3 377.61,55.47 378.27,50.65 M375.58,98.9 375.99,94.11 376.49,89.33 377.02,84.54 377.59,79.76 378.18,74.99 378.78,70.21 379.4,65.43 380.04,60.65 380.68,55.88 381.34,51.1 M379.52,98.9 379.92,94.16 380.42,89.43 380.95,84.71 381.51,79.98 382.1,75.26 382.7,70.54 383.32,65.82 383.95,61.11 384.59,56.39 385.24,51.68 M383.45,98.9 383.85,94.21 384.35,89.54 384.88,84.87 385.44,80.2 386.02,75.54 386.62,70.88 387.23,66.22 387.86,61.56 388.5,56.91 389.15,52.25 M387.38,98.9 387.79,94.26 388.28,89.64 388.8,85.03 389.36,80.42 389.94,75.82 390.54,71.21 391.15,66.61 391.77,62.02 392.41,57.42 393.06,52.82 M391.32,98.9 391.72,94.32 392.2,89.75 392.73,85.19 393.29,80.64 393.86,76.09 394.45,71.55 395.06,67.01 395.68,62.47 396.32,57.93 396.96,53.4 M394.41,98.9 394.81,94.36 395.29,89.83 395.82,85.32 396.37,80.81 396.94,76.31 397.53,71.81 398.14,67.32 398.76,62.83 399.39,58.34 400.03,53.85 M397.5,98.9 397.9,94.4 398.38,89.92 398.9,85.45 399.45,80.99 400.02,76.53 400.61,72.08 401.22,67.63 401.83,63.18 402.46,58.74 403.1,54.3" fill="none" stroke="#444" stroke-width="0.5"/>
<path d="M369.4,98.9 376.42,98.9 383.45,98.9 390.48,98.9 397.5,98.9 M369.81,94.03 376.83,94.12 383.85,94.21 390.87,94.3 397.9,94.4 M370.31,89.16 377.33,89.35 384.35,89.54 391.36,89.73 398.38,89.92 M370.85,84.29 377.86,84.58 384.88,84.87 391.89,85.16 398.9,85.45 M371.42,79.42 378.43,79.81 385.44,80.2 392.44,80.59 399.45,80.99 M372.01,74.55 379.02,75.05 386.02,75.54 393.02,76.04 400.02,76.53 M372.62,69.68 379.62,70.28 386.62,70.88 393.61,71.48 400.61,72.08 M373.25,64.81 380.24,65.51 387.23,66.22 394.22,66.92 401.22,67.63 M373.89,59.94 380.87,60.75 387.86,61.56 394.85,62.37 401.83,63.18 M374.54,55.07 381.52,55.99 388.5,56.91 395.48,57.82 402.46,58.74 M375.2,50.2 382.17,51.23 389.15,52.25 396.13,53.27 403.1,54.3" fill="none" stroke="#333" stroke-width="0.6"/>
<line x1="303.3" y1="100.2" x2="335.3" y2="100.2" stroke="#000" stroke-width="1.7" />
<line x1="367.5" y1="100.2" x2="400" y2="100.2" stroke="#000" stroke-width="1.7" />
<line x1="319.1" y1="38.2" x2="319.1" y2="47.1" stroke="#111" stroke-width="0.75" />
<polygon points="317.8,46.6 320.4,46.6 319.1,49.6" fill="#111"/>
<text x="322" y="43" font-size="6.2" text-anchor="start" fill="#222" stroke="#222" stroke-width="0.14" >374 kN</text>
<text x="407.7" y="102.8" font-size="5.9" text-anchor="start" fill="#222" stroke="#222" stroke-width="0.14" >scale x25</text>
<text x="285.5" y="114.8" font-size="9.2" text-anchor="start" fill="#111" stroke="#111" stroke-width="0.18" >DNN-MVLEM</text>
<line x1="307.4" y1="132.8" x2="307.4" y2="181.5" stroke="#9a9a9a" stroke-width="0.45" />
<line x1="314.7" y1="132.8" x2="314.7" y2="181.5" stroke="#9a9a9a" stroke-width="0.45" />
<line x1="322.3" y1="132.8" x2="322.3" y2="181.5" stroke="#9a9a9a" stroke-width="0.45" />
<line x1="329.4" y1="132.8" x2="329.4" y2="181.5" stroke="#9a9a9a" stroke-width="0.45" />
<path d="M318.5,132.8 V162.6 H323.4 V167 H318.5 V181.5" fill="none" stroke="#000" stroke-width="1.05"/>
<line x1="304.1" y1="132.8" x2="332.7" y2="132.8" stroke="#000" stroke-width="1.4" />
<line x1="304.1" y1="181.5" x2="332.7" y2="181.5" stroke="#000" stroke-width="1.4" />
<line x1="369.9" y1="181.9" x2="375.4" y2="132.22" stroke="#9a9a9a" stroke-width="0.45" />
<line x1="377.2" y1="181.9" x2="382.4" y2="133.37" stroke="#9a9a9a" stroke-width="0.45" />
<line x1="384.6" y1="181.9" x2="390.6" y2="134.7" stroke="#9a9a9a" stroke-width="0.45" />
<line x1="391.7" y1="181.9" x2="397.7" y2="135.86" stroke="#9a9a9a" stroke-width="0.45" />
<path d="M386.8,134.6 L381.9,162.1 M380.8,163.4 H385.2 V167.7 H380.3 V181.9" fill="none" stroke="#000" stroke-width="1.05"/>
<line x1="380.8" y1="163.4" x2="380.8" y2="164.6" stroke="#000" stroke-width="0.8" />
<line x1="372.8" y1="131.8" x2="401" y2="136.4" stroke="#000" stroke-width="1.4" />
<line x1="367" y1="181.9" x2="395" y2="181.9" stroke="#000" stroke-width="1.4" />
<text x="406.8" y="187.7" font-size="5.9" text-anchor="start" fill="#222" stroke="#222" stroke-width="0.14" >scale x25</text>
<text x="286.3" y="201.9" font-size="9" text-anchor="start" fill="#111" stroke="#111" stroke-width="0.18" >Micro. FEM model</text>
<path d="M303.3,270.2 307.01,270.2 310.72,270.2 314.43,270.2 318.14,270.2 321.85,270.2 325.56,270.2 329.27,270.2 332.98,270.2 336.69,270.2 340.4,270.2 340.4,270.2 340.4,265.19 340.4,260.18 340.4,255.17 340.4,250.16 340.4,245.15 340.4,240.14 340.4,235.13 340.4,230.12 340.4,225.11 340.4,220.1 340.4,220.1 336.69,220.1 332.98,220.1 329.27,220.1 325.56,220.1 321.85,220.1 318.14,220.1 314.43,220.1 310.72,220.1 307.01,220.1 303.3,220.1 303.3,220.1 303.3,225.11 303.3,230.12 303.3,235.13 303.3,240.14 303.3,245.15 303.3,250.16 303.3,255.17 303.3,260.18 303.3,265.19 303.3,270.2Z" fill="#e6e6e6"/>
<path d="M303.3,270.2 303.3,265.19 303.3,260.18 303.3,255.17 303.3,250.16 303.3,245.15 303.3,240.14 303.3,235.13 303.3,230.12 303.3,225.11 303.3,220.1 310.72,220.1 310.72,225.11 310.72,230.12 310.72,235.13 310.72,240.14 310.72,245.15 310.72,250.16 310.72,255.17 310.72,260.18 310.72,265.19 310.72,270.2Z M332.98,270.2 332.98,265.19 332.98,260.18 332.98,255.17 332.98,250.16 332.98,245.15 332.98,240.14 332.98,235.13 332.98,230.12 332.98,225.11 332.98,220.1 340.4,220.1 340.4,225.11 340.4,230.12 340.4,235.13 340.4,240.14 340.4,245.15 340.4,250.16 340.4,255.17 340.4,260.18 340.4,265.19 340.4,270.2Z" fill="#c6c6c6"/>
<path d="M304.54,270.2 304.54,265.19 304.54,260.18 304.54,255.17 304.54,250.16 304.54,245.15 304.54,240.14 304.54,235.13 304.54,230.12 304.54,225.11 304.54,220.1 M305.77,270.2 305.77,265.19 305.77,260.18 305.77,255.17 305.77,250.16 305.77,245.15 305.77,240.14 305.77,235.13 305.77,230.12 305.77,225.11 305.77,220.1 M308.25,270.2 308.25,265.19 308.25,260.18 308.25,255.17 308.25,250.16 308.25,245.15 308.25,240.14 308.25,235.13 308.25,230.12 308.25,225.11 308.25,220.1 M309.48,270.2 309.48,265.19 309.48,260.18 309.48,255.17 309.48,250.16 309.48,245.15 309.48,240.14 309.48,235.13 309.48,230.12 309.48,225.11 309.48,220.1 M313.5,270.2 313.5,265.19 313.5,260.18 313.5,255.17 313.5,250.16 313.5,245.15 313.5,240.14 313.5,235.13 313.5,230.12 313.5,225.11 313.5,220.1 M319.07,270.2 319.07,265.19 319.07,260.18 319.07,255.17 319.07,250.16 319.07,245.15 319.07,240.14 319.07,235.13 319.07,230.12 319.07,225.11 319.07,220.1 M324.63,270.2 324.63,265.19 324.63,260.18 324.63,255.17 324.63,250.16 324.63,245.15 324.63,240.14 324.63,235.13 324.63,230.12 324.63,225.11 324.63,220.1 M330.2,270.2 330.2,265.19 330.2,260.18 330.2,255.17 330.2,250.16 330.2,245.15 330.2,240.14 330.2,235.13 330.2,230.12 330.2,225.11 330.2,220.1 M334.22,270.2 334.22,265.19 334.22,260.18 334.22,255.17 334.22,250.16 334.22,245.15 334.22,240.14 334.22,235.13 334.22,230.12 334.22,225.11 334.22,220.1 M335.45,270.2 335.45,265.19 335.45,260.18 335.45,255.17 335.45,250.16 335.45,245.15 335.45,240.14 335.45,235.13 335.45,230.12 335.45,225.11 335.45,220.1 M337.93,270.2 337.93,265.19 337.93,260.18 337.93,255.17 337.93,250.16 337.93,245.15 337.93,240.14 337.93,235.13 337.93,230.12 337.93,225.11 337.93,220.1 M339.16,270.2 339.16,265.19 339.16,260.18 339.16,255.17 339.16,250.16 339.16,245.15 339.16,240.14 339.16,235.13 339.16,230.12 339.16,225.11 339.16,220.1 M303.3,268.53 312.57,268.53 321.85,268.53 331.12,268.53 340.4,268.53 M303.3,266.86 312.57,266.86 321.85,266.86 331.12,266.86 340.4,266.86 M303.3,263.52 312.57,263.52 321.85,263.52 331.12,263.52 340.4,263.52 M303.3,261.85 312.57,261.85 321.85,261.85 331.12,261.85 340.4,261.85 M303.3,258.51 312.57,258.51 321.85,258.51 331.12,258.51 340.4,258.51 M303.3,256.84 312.57,256.84 321.85,256.84 331.12,256.84 340.4,256.84 M303.3,253.5 312.57,253.5 321.85,253.5 331.12,253.5 340.4,253.5 M303.3,251.83 312.57,251.83 321.85,251.83 331.12,251.83 340.4,251.83 M303.3,248.49 312.57,248.49 321.85,248.49 331.12,248.49 340.4,248.49 M303.3,246.82 312.57,246.82 321.85,246.82 331.12,246.82 340.4,246.82 M303.3,243.48 312.57,243.48 321.85,243.48 331.12,243.48 340.4,243.48 M303.3,241.81 312.57,241.81 321.85,241.81 331.12,241.81 340.4,241.81 M303.3,238.47 312.57,238.47 321.85,238.47 331.12,238.47 340.4,238.47 M303.3,236.8 312.57,236.8 321.85,236.8 331.12,236.8 340.4,236.8 M303.3,233.46 312.57,233.46 321.85,233.46 331.12,233.46 340.4,233.46 M303.3,231.79 312.57,231.79 321.85,231.79 331.12,231.79 340.4,231.79 M303.3,228.45 312.57,228.45 321.85,228.45 331.12,228.45 340.4,228.45 M303.3,226.78 312.57,226.78 321.85,226.78 331.12,226.78 340.4,226.78 M303.3,223.44 312.57,223.44 321.85,223.44 331.12,223.44 340.4,223.44 M303.3,221.77 312.57,221.77 321.85,221.77 331.12,221.77 340.4,221.77" fill="none" stroke="#a4a4a4" stroke-width="0.3"/>
<path d="M303.3,270.2 303.3,265.19 303.3,260.18 303.3,255.17 303.3,250.16 303.3,245.15 303.3,240.14 303.3,235.13 303.3,230.12 303.3,225.11 303.3,220.1 M307.01,270.2 307.01,265.19 307.01,260.18 307.01,255.17 307.01,250.16 307.01,245.15 307.01,240.14 307.01,235.13 307.01,230.12 307.01,225.11 307.01,220.1 M310.72,270.2 310.72,265.19 310.72,260.18 310.72,255.17 310.72,250.16 310.72,245.15 310.72,240.14 310.72,235.13 310.72,230.12 310.72,225.11 310.72,220.1 M316.29,270.2 316.29,265.19 316.29,260.18 316.29,255.17 316.29,250.16 316.29,245.15 316.29,240.14 316.29,235.13 316.29,230.12 316.29,225.11 316.29,220.1 M321.85,270.2 321.85,265.19 321.85,260.18 321.85,255.17 321.85,250.16 321.85,245.15 321.85,240.14 321.85,235.13 321.85,230.12 321.85,225.11 321.85,220.1 M327.41,270.2 327.41,265.19 327.41,260.18 327.41,255.17 327.41,250.16 327.41,245.15 327.41,240.14 327.41,235.13 327.41,230.12 327.41,225.11 327.41,220.1 M332.98,270.2 332.98,265.19 332.98,260.18 332.98,255.17 332.98,250.16 332.98,245.15 332.98,240.14 332.98,235.13 332.98,230.12 332.98,225.11 332.98,220.1 M336.69,270.2 336.69,265.19 336.69,260.18 336.69,255.17 336.69,250.16 336.69,245.15 336.69,240.14 336.69,235.13 336.69,230.12 336.69,225.11 336.69,220.1 M340.4,270.2 340.4,265.19 340.4,260.18 340.4,255.17 340.4,250.16 340.4,245.15 340.4,240.14 340.4,235.13 340.4,230.12 340.4,225.11 340.4,220.1" fill="none" stroke="#444" stroke-width="0.5"/>
<path d="M303.3,270.2 312.57,270.2 321.85,270.2 331.12,270.2 340.4,270.2 M303.3,265.19 312.57,265.19 321.85,265.19 331.12,265.19 340.4,265.19 M303.3,260.18 312.57,260.18 321.85,260.18 331.12,260.18 340.4,260.18 M303.3,255.17 312.57,255.17 321.85,255.17 331.12,255.17 340.4,255.17 M303.3,250.16 312.57,250.16 321.85,250.16 331.12,250.16 340.4,250.16 M303.3,245.15 312.57,245.15 321.85,245.15 331.12,245.15 340.4,245.15 M303.3,240.14 312.57,240.14 321.85,240.14 331.12,240.14 340.4,240.14 M303.3,235.13 312.57,235.13 321.85,235.13 331.12,235.13 340.4,235.13 M303.3,230.12 312.57,230.12 321.85,230.12 331.12,230.12 340.4,230.12 M303.3,225.11 312.57,225.11 321.85,225.11 331.12,225.11 340.4,225.11 M303.3,220.1 312.57,220.1 321.85,220.1 331.12,220.1 340.4,220.1" fill="none" stroke="#333" stroke-width="0.6"/>
<path d="M363.4,269.6 367.16,269.6 370.92,269.6 374.68,269.6 378.44,269.6 382.2,269.6 385.96,269.6 389.72,269.6 393.48,269.6 397.24,269.6 401,269.6 401,269.6 401.23,264.98 401.54,260.39 401.87,255.81 402.23,251.24 402.61,246.68 403,242.11 403.41,237.56 403.83,233 404.26,228.45 404.7,223.9 404.7,223.9 401.21,223.47 397.72,223.04 394.23,222.61 390.74,222.18 387.25,221.75 383.76,221.32 380.27,220.89 376.78,220.46 373.29,220.03 369.8,219.6 369.8,219.6 369.04,224.6 368.3,229.6 367.57,234.6 366.87,239.6 366.19,244.6 365.53,249.6 364.91,254.6 364.33,259.6 363.8,264.6 363.4,269.6Z" fill="#e6e6e6"/>
<path d="M363.4,269.6 363.8,264.6 364.33,259.6 364.91,254.6 365.53,249.6 366.19,244.6 366.87,239.6 367.57,234.6 368.3,229.6 369.04,224.6 369.8,219.6 376.78,220.46 376.08,225.37 375.4,230.28 374.74,235.19 374.09,240.1 373.47,245.02 372.87,249.93 372.3,254.84 371.77,259.76 371.29,264.68 370.92,269.6Z M393.48,269.6 393.75,264.91 394.09,260.23 394.48,255.57 394.89,250.91 395.33,246.26 395.78,241.61 396.24,236.97 396.72,232.32 397.22,227.68 397.72,223.04 404.7,223.9 404.26,228.45 403.83,233 403.41,237.56 403,242.11 402.61,246.68 402.23,251.24 401.87,255.81 401.54,260.39 401.23,264.98 401,269.6Z" fill="#c6c6c6"/>
<path d="M364.65,269.6 365.05,264.61 365.57,259.63 366.14,254.64 366.75,249.65 367.4,244.67 368.07,239.68 368.77,234.7 369.48,229.71 370.21,224.73 370.96,219.74 M365.91,269.6 366.3,264.63 366.81,259.65 367.37,254.68 367.98,249.71 368.61,244.74 369.28,239.77 369.96,234.8 370.67,229.83 371.39,224.86 372.13,219.89 M368.41,269.6 368.79,264.65 369.29,259.71 369.84,254.76 370.42,249.82 371.04,244.88 371.69,239.94 372.35,234.99 373.03,230.05 373.74,225.11 374.45,220.17 M369.67,269.6 370.04,264.66 370.53,259.73 371.07,254.8 371.65,249.87 372.26,244.95 372.89,240.02 373.54,235.09 374.22,230.17 374.91,225.24 375.62,220.32 M373.74,269.6 374.1,264.71 374.56,259.82 375.07,254.93 375.62,250.05 376.2,245.17 376.8,240.29 377.43,235.41 378.07,230.54 378.73,225.66 379.4,220.78 M379.38,269.6 379.71,264.76 380.14,259.94 380.62,255.12 381.13,250.3 381.67,245.48 382.23,240.67 382.8,235.86 383.4,231.05 384.01,226.24 384.63,221.43 M385.02,269.6 385.33,264.82 385.72,260.06 386.16,255.3 386.63,250.54 387.13,245.79 387.65,241.05 388.18,236.3 388.73,231.56 389.29,226.81 389.87,222.07 M390.66,269.6 390.94,264.88 391.3,260.18 391.71,255.48 392.14,250.79 392.59,246.11 393.07,241.42 393.56,236.74 394.06,232.07 394.57,227.39 395.1,222.72 M394.73,269.6 395,264.92 395.33,260.26 395.71,255.61 396.12,250.97 396.54,246.33 396.98,241.7 397.44,237.06 397.91,232.43 398.39,227.81 398.88,223.18 M395.99,269.6 396.24,264.93 396.58,260.29 396.94,255.65 397.34,251.02 397.75,246.4 398.19,241.78 398.63,237.16 399.09,232.55 399.56,227.94 400.05,223.33 M398.49,269.6 398.74,264.96 399.06,260.34 399.41,255.73 399.79,251.13 400.18,246.54 400.6,241.95 401.02,237.36 401.46,232.78 401.91,228.19 402.37,223.61 M399.75,269.6 399.99,264.97 400.3,260.37 400.64,255.77 401.01,251.19 401.4,246.61 401.8,242.03 402.22,237.46 402.65,232.89 403.09,228.32 403.54,223.76 M363.51,267.93 372.9,267.96 382.29,267.99 391.67,268.02 401.06,268.05 M363.65,266.27 373.02,266.33 382.4,266.39 391.77,266.45 401.14,266.52 M363.97,262.93 373.31,263.06 382.65,263.19 391.99,263.32 401.33,263.45 M364.15,261.27 373.47,261.43 382.79,261.59 392.11,261.76 401.43,261.92 M364.52,257.93 373.8,258.17 383.08,258.4 392.36,258.63 401.65,258.87 M364.71,256.27 373.97,256.54 383.23,256.8 392.5,257.07 401.76,257.34 M365.11,252.93 374.33,253.27 383.55,253.61 392.77,253.95 401.99,254.29 M365.32,251.27 374.52,251.64 383.72,252.02 392.91,252.39 402.11,252.77 M365.75,247.93 374.9,248.38 384.05,248.83 393.2,249.27 402.36,249.72 M365.96,246.27 375.09,246.75 384.22,247.23 393.35,247.72 402.48,248.2 M366.41,242.93 375.49,243.49 384.58,244.04 393.66,244.6 402.74,245.16 M366.64,241.27 375.7,241.86 384.75,242.45 393.81,243.04 402.87,243.64 M367.1,237.93 376.11,238.6 385.12,239.26 394.13,239.93 403.14,240.6 M367.33,236.27 376.32,236.97 385.3,237.67 394.29,238.37 403.27,239.08 M367.81,232.93 376.75,233.71 385.68,234.49 394.62,235.26 403.55,236.04 M368.05,231.27 376.96,232.08 385.87,232.89 394.78,233.71 403.69,234.52 M368.54,227.93 377.4,228.82 386.26,229.71 395.12,230.6 403.97,231.48 M368.79,226.27 377.62,227.19 386.45,228.12 395.28,229.04 404.12,229.97 M369.29,222.93 378.07,223.93 386.85,224.93 395.63,225.93 404.41,226.93 M369.54,221.27 378.3,222.3 387.05,223.34 395.8,224.38 404.55,225.42" fill="none" stroke="#a4a4a4" stroke-width="0.3"/>
<path d="M363.4,269.6 363.8,264.6 364.33,259.6 364.91,254.6 365.53,249.6 366.19,244.6 366.87,239.6 367.57,234.6 368.3,229.6 369.04,224.6 369.8,219.6 M367.16,269.6 367.55,264.64 368.05,259.68 368.61,254.72 369.2,249.76 369.83,244.81 370.48,239.85 371.16,234.9 371.85,229.94 372.56,224.98 373.29,220.03 M370.92,269.6 371.29,264.68 371.77,259.76 372.3,254.84 372.87,249.93 373.47,245.02 374.09,240.1 374.74,235.19 375.4,230.28 376.08,225.37 376.78,220.46 M376.56,269.6 376.9,264.73 377.35,259.88 377.85,255.03 378.38,250.18 378.93,245.33 379.52,240.48 380.12,235.63 380.73,230.79 381.37,225.95 382.02,221.1 M382.2,269.6 382.52,264.79 382.93,260 383.39,255.21 383.88,250.42 384.4,245.64 384.94,240.86 385.49,236.08 386.06,231.3 386.65,226.52 387.25,221.75 M387.84,269.6 388.13,264.85 388.51,260.12 388.94,255.39 389.39,250.67 389.86,245.95 390.36,241.23 390.87,236.52 391.39,231.81 391.93,227.1 392.48,222.4 M393.48,269.6 393.75,264.91 394.09,260.23 394.48,255.57 394.89,250.91 395.33,246.26 395.78,241.61 396.24,236.97 396.72,232.32 397.22,227.68 397.72,223.04 M397.24,269.6 397.49,264.94 397.82,260.31 398.18,255.69 398.56,251.08 398.97,246.47 399.39,241.86 399.83,237.26 400.28,232.66 400.74,228.06 401.21,223.47 M401,269.6 401.23,264.98 401.54,260.39 401.87,255.81 402.23,251.24 402.61,246.68 403,242.11 403.41,237.56 403.83,233 404.26,228.45 404.7,223.9" fill="none" stroke="#444" stroke-width="0.5"/>
<path d="M363.4,269.6 372.8,269.6 382.2,269.6 391.6,269.6 401,269.6 M363.8,264.6 373.16,264.7 382.52,264.79 391.88,264.89 401.23,264.98 M364.33,259.6 373.63,259.8 382.93,260 392.23,260.2 401.54,260.39 M364.91,254.6 374.15,254.9 383.39,255.21 392.63,255.51 401.87,255.81 M365.53,249.6 374.71,250.01 383.88,250.42 393.06,250.83 402.23,251.24 M366.19,244.6 375.29,245.12 384.4,245.64 393.5,246.16 402.61,246.68 M366.87,239.6 375.9,240.23 384.94,240.86 393.97,241.49 403,242.11 M367.57,234.6 376.53,235.34 385.49,236.08 394.45,236.82 403.41,237.56 M368.3,229.6 377.18,230.45 386.06,231.3 394.95,232.15 403.83,233 M369.04,224.6 377.85,225.56 386.65,226.52 395.46,227.49 404.26,228.45 M369.8,219.6 378.52,220.68 387.25,221.75 395.98,222.82 404.7,223.9" fill="none" stroke="#333" stroke-width="0.6"/>
<line x1="301.2" y1="270.9" x2="342.5" y2="270.9" stroke="#000" stroke-width="1.7" />
<line x1="361.5" y1="270.6" x2="402.6" y2="270.6" stroke="#000" stroke-width="1.7" />
<line x1="322" y1="210.5" x2="322" y2="217.3" stroke="#111" stroke-width="0.75" />
<polygon points="320.7,216.8 323.3,216.8 322,219.8" fill="#111"/>
<text x="324.4" y="212.1" font-size="6.2" text-anchor="start" fill="#222" stroke="#222" stroke-width="0.14" >337 kN</text>
<text x="407.9" y="274" font-size="5.9" text-anchor="start" fill="#222" stroke="#222" stroke-width="0.14" >scale x25</text>
<text x="285.5" y="286.4" font-size="9.2" text-anchor="start" fill="#111" stroke="#111" stroke-width="0.18" >DNN-MVLEM</text>
<line x1="302.5" y1="304.3" x2="302.5" y2="355" stroke="#9a9a9a" stroke-width="0.45" />
<line x1="312.1" y1="304.3" x2="312.1" y2="355" stroke="#9a9a9a" stroke-width="0.45" />
<line x1="322.8" y1="304.3" x2="322.8" y2="355" stroke="#9a9a9a" stroke-width="0.45" />
<line x1="332.9" y1="304.3" x2="332.9" y2="355" stroke="#9a9a9a" stroke-width="0.45" />
<path d="M316.9,304.3 V335 H322 V339.8 H316.9 V355" fill="none" stroke="#000" stroke-width="1.05"/>
<line x1="298.3" y1="304.3" x2="336" y2="304.3" stroke="#000" stroke-width="1.4" />
<line x1="298.3" y1="355" x2="336" y2="355" stroke="#000" stroke-width="1.4" />
<line x1="369" y1="353.7" x2="374.6" y2="303.49" stroke="#9a9a9a" stroke-width="0.45" />
<line x1="378.6" y1="353.7" x2="383.4" y2="304.85" stroke="#9a9a9a" stroke-width="0.45" />
<line x1="389" y1="353.7" x2="393.8" y2="306.45" stroke="#9a9a9a" stroke-width="0.45" />
<line x1="397" y1="353.7" x2="401.8" y2="307.68" stroke="#9a9a9a" stroke-width="0.45" />
<path d="M388.2,305.7 L384.2,333.4 M383.6,335 H387.4 V339.8 H382.6 V353.7" fill="none" stroke="#000" stroke-width="1.05"/>
<line x1="383.6" y1="335" x2="383.6" y2="336.2" stroke="#000" stroke-width="0.8" />
<line x1="371.4" y1="303" x2="405.8" y2="308.3" stroke="#000" stroke-width="1.4" />
<line x1="365.8" y1="353.7" x2="400.5" y2="353.7" stroke="#000" stroke-width="1.4" />
<text x="406.9" y="359.9" font-size="5.9" text-anchor="start" fill="#222" stroke="#222" stroke-width="0.14" >scale x25</text>
<text x="285.6" y="373.3" font-size="9" text-anchor="start" fill="#111" stroke="#111" stroke-width="0.18" >Micro. FEM model</text>
<path d="M304.1,447.4 306.8,447.4 309.5,447.4 312.2,447.4 314.9,447.4 317.6,447.4 320.3,447.4 323,447.4 325.7,447.4 328.4,447.4 331.1,447.4 331.1,447.4 331.1,441.99 331.1,436.58 331.1,431.17 331.1,425.76 331.1,420.35 331.1,414.94 331.1,409.53 331.1,404.12 331.1,398.71 331.1,393.3 331.1,393.3 328.4,393.3 325.7,393.3 323,393.3 320.3,393.3 317.6,393.3 314.9,393.3 312.2,393.3 309.5,393.3 306.8,393.3 304.1,393.3 304.1,393.3 304.1,398.71 304.1,404.12 304.1,409.53 304.1,414.94 304.1,420.35 304.1,425.76 304.1,431.17 304.1,436.58 304.1,441.99 304.1,447.4Z" fill="#e6e6e6"/>
<path d="M304.1,447.4 304.1,441.99 304.1,436.58 304.1,431.17 304.1,425.76 304.1,420.35 304.1,414.94 304.1,409.53 304.1,404.12 304.1,398.71 304.1,393.3 310.58,393.3 310.58,398.71 310.58,404.12 310.58,409.53 310.58,414.94 310.58,420.35 310.58,425.76 310.58,431.17 310.58,436.58 310.58,441.99 310.58,447.4Z M324.62,447.4 324.62,441.99 324.62,436.58 324.62,431.17 324.62,425.76 324.62,420.35 324.62,414.94 324.62,409.53 324.62,404.12 324.62,398.71 324.62,393.3 331.1,393.3 331.1,398.71 331.1,404.12 331.1,409.53 331.1,414.94 331.1,420.35 331.1,425.76 331.1,431.17 331.1,436.58 331.1,441.99 331.1,447.4Z" fill="#c6c6c6"/>
<path d="M305.18,447.4 305.18,441.99 305.18,436.58 305.18,431.17 305.18,425.76 305.18,420.35 305.18,414.94 305.18,409.53 305.18,404.12 305.18,398.71 305.18,393.3 M306.26,447.4 306.26,441.99 306.26,436.58 306.26,431.17 306.26,425.76 306.26,420.35 306.26,414.94 306.26,409.53 306.26,404.12 306.26,398.71 306.26,393.3 M308.42,447.4 308.42,441.99 308.42,436.58 308.42,431.17 308.42,425.76 308.42,420.35 308.42,414.94 308.42,409.53 308.42,404.12 308.42,398.71 308.42,393.3 M309.5,447.4 309.5,441.99 309.5,436.58 309.5,431.17 309.5,425.76 309.5,420.35 309.5,414.94 309.5,409.53 309.5,404.12 309.5,398.71 309.5,393.3 M312.34,447.4 312.34,441.99 312.34,436.58 312.34,431.17 312.34,425.76 312.34,420.35 312.34,414.94 312.34,409.53 312.34,404.12 312.34,398.71 312.34,393.3 M315.85,447.4 315.85,441.99 315.85,436.58 315.85,431.17 315.85,425.76 315.85,420.35 315.85,414.94 315.85,409.53 315.85,404.12 315.85,398.71 315.85,393.3 M319.36,447.4 319.36,441.99 319.36,436.58 319.36,431.17 319.36,425.76 319.36,420.35 319.36,414.94 319.36,409.53 319.36,404.12 319.36,398.71 319.36,393.3 M322.87,447.4 322.87,441.99 322.87,436.58 322.87,431.17 322.87,425.76 322.87,420.35 322.87,414.94 322.87,409.53 322.87,404.12 322.87,398.71 322.87,393.3 M325.7,447.4 325.7,441.99 325.7,436.58 325.7,431.17 325.7,425.76 325.7,420.35 325.7,414.94 325.7,409.53 325.7,404.12 325.7,398.71 325.7,393.3 M326.78,447.4 326.78,441.99 326.78,436.58 326.78,431.17 326.78,425.76 326.78,420.35 326.78,414.94 326.78,409.53 326.78,404.12 326.78,398.71 326.78,393.3 M328.94,447.4 328.94,441.99 328.94,436.58 328.94,431.17 328.94,425.76 328.94,420.35 328.94,414.94 328.94,409.53 328.94,404.12 328.94,398.71 328.94,393.3 M330.02,447.4 330.02,441.99 330.02,436.58 330.02,431.17 330.02,425.76 330.02,420.35 330.02,414.94 330.02,409.53 330.02,404.12 330.02,398.71 330.02,393.3 M304.1,445.6 310.85,445.6 317.6,445.6 324.35,445.6 331.1,445.6 M304.1,443.79 310.85,443.79 317.6,443.79 324.35,443.79 331.1,443.79 M304.1,440.19 310.85,440.19 317.6,440.19 324.35,440.19 331.1,440.19 M304.1,438.38 310.85,438.38 317.6,438.38 324.35,438.38 331.1,438.38 M304.1,434.78 310.85,434.78 317.6,434.78 324.35,434.78 331.1,434.78 M304.1,432.97 310.85,432.97 317.6,432.97 324.35,432.97 331.1,432.97 M304.1,429.37 310.85,429.37 317.6,429.37 324.35,429.37 331.1,429.37 M304.1,427.56 310.85,427.56 317.6,427.56 324.35,427.56 331.1,427.56 M304.1,423.96 310.85,423.96 317.6,423.96 324.35,423.96 331.1,423.96 M304.1,422.15 310.85,422.15 317.6,422.15 324.35,422.15 331.1,422.15 M304.1,418.55 310.85,418.55 317.6,418.55 324.35,418.55 331.1,418.55 M304.1,416.74 310.85,416.74 317.6,416.74 324.35,416.74 331.1,416.74 M304.1,413.14 310.85,413.14 317.6,413.14 324.35,413.14 331.1,413.14 M304.1,411.33 310.85,411.33 317.6,411.33 324.35,411.33 331.1,411.33 M304.1,407.73 310.85,407.73 317.6,407.73 324.35,407.73 331.1,407.73 M304.1,405.92 310.85,405.92 317.6,405.92 324.35,405.92 331.1,405.92 M304.1,402.32 310.85,402.32 317.6,402.32 324.35,402.32 331.1,402.32 M304.1,400.51 310.85,400.51 317.6,400.51 324.35,400.51 331.1,400.51 M304.1,396.91 310.85,396.91 317.6,396.91 324.35,396.91 331.1,396.91 M304.1,395.1 310.85,395.1 317.6,395.1 324.35,395.1 331.1,395.1" fill="none" stroke="#a4a4a4" stroke-width="0.3"/>
<path d="M304.1,447.4 304.1,441.99 304.1,436.58 304.1,431.17 304.1,425.76 304.1,420.35 304.1,414.94 304.1,409.53 304.1,404.12 304.1,398.71 304.1,393.3 M307.34,447.4 307.34,441.99 307.34,436.58 307.34,431.17 307.34,425.76 307.34,420.35 307.34,414.94 307.34,409.53 307.34,404.12 307.34,398.71 307.34,393.3 M310.58,447.4 310.58,441.99 310.58,436.58 310.58,431.17 310.58,425.76 310.58,420.35 310.58,414.94 310.58,409.53 310.58,404.12 310.58,398.71 310.58,393.3 M314.09,447.4 314.09,441.99 314.09,436.58 314.09,431.17 314.09,425.76 314.09,420.35 314.09,414.94 314.09,409.53 314.09,404.12 314.09,398.71 314.09,393.3 M317.6,447.4 317.6,441.99 317.6,436.58 317.6,431.17 317.6,425.76 317.6,420.35 317.6,414.94 317.6,409.53 317.6,404.12 317.6,398.71 317.6,393.3 M321.11,447.4 321.11,441.99 321.11,436.58 321.11,431.17 321.11,425.76 321.11,420.35 321.11,414.94 321.11,409.53 321.11,404.12 321.11,398.71 321.11,393.3 M324.62,447.4 324.62,441.99 324.62,436.58 324.62,431.17 324.62,425.76 324.62,420.35 324.62,414.94 324.62,409.53 324.62,404.12 324.62,398.71 324.62,393.3 M327.86,447.4 327.86,441.99 327.86,436.58 327.86,431.17 327.86,425.76 327.86,420.35 327.86,414.94 327.86,409.53 327.86,404.12 327.86,398.71 327.86,393.3 M331.1,447.4 331.1,441.99 331.1,436.58 331.1,431.17 331.1,425.76 331.1,420.35 331.1,414.94 331.1,409.53 331.1,404.12 331.1,398.71 331.1,393.3" fill="none" stroke="#444" stroke-width="0.5"/>
<path d="M304.1,447.4 310.85,447.4 317.6,447.4 324.35,447.4 331.1,447.4 M304.1,441.99 310.85,441.99 317.6,441.99 324.35,441.99 331.1,441.99 M304.1,436.58 310.85,436.58 317.6,436.58 324.35,436.58 331.1,436.58 M304.1,431.17 310.85,431.17 317.6,431.17 324.35,431.17 331.1,431.17 M304.1,425.76 310.85,425.76 317.6,425.76 324.35,425.76 331.1,425.76 M304.1,420.35 310.85,420.35 317.6,420.35 324.35,420.35 331.1,420.35 M304.1,414.94 310.85,414.94 317.6,414.94 324.35,414.94 331.1,414.94 M304.1,409.53 310.85,409.53 317.6,409.53 324.35,409.53 331.1,409.53 M304.1,404.12 310.85,404.12 317.6,404.12 324.35,404.12 331.1,404.12 M304.1,398.71 310.85,398.71 317.6,398.71 324.35,398.71 331.1,398.71 M304.1,393.3 310.85,393.3 317.6,393.3 324.35,393.3 331.1,393.3" fill="none" stroke="#333" stroke-width="0.6"/>
<path d="M365.2,446.8 367.82,446.8 370.44,446.8 373.06,446.8 375.68,446.8 378.3,446.8 380.92,446.8 383.54,446.8 386.16,446.8 388.78,446.8 391.4,446.8 391.4,446.8 391.68,441.74 392.11,436.7 392.62,431.67 393.2,426.65 393.83,421.64 394.51,416.62 395.23,411.61 395.99,406.61 396.78,401.6 397.6,396.6 397.6,396.6 395.05,396.22 392.5,395.84 389.95,395.46 387.4,395.08 384.85,394.7 382.3,394.32 379.75,393.94 377.2,393.56 374.65,393.18 372.1,392.8 372.1,392.8 371.19,398.2 370.31,403.6 369.46,409 368.66,414.4 367.91,419.8 367.2,425.2 366.56,430.6 365.99,436 365.51,441.4 365.2,446.8Z" fill="#e6e6e6"/>
<path d="M365.2,446.8 365.51,441.4 365.99,436 366.56,430.6 367.2,425.2 367.91,419.8 368.66,414.4 369.46,409 370.31,403.6 371.19,398.2 372.1,392.8 378.22,393.71 377.33,399.02 376.47,404.32 375.65,409.63 374.87,414.93 374.13,420.24 373.44,425.55 372.81,430.86 372.25,436.17 371.79,441.48 371.49,446.8Z M385.11,446.8 385.4,441.66 385.84,436.53 386.37,431.42 386.96,426.3 387.61,421.19 388.31,416.09 389.05,410.99 389.82,405.88 390.64,400.79 391.48,395.69 397.6,396.6 396.78,401.6 395.99,406.61 395.23,411.61 394.51,416.62 393.83,421.64 393.2,426.65 392.62,431.67 392.11,436.7 391.68,441.74 391.4,446.8Z" fill="#c6c6c6"/>
<path d="M366.25,446.8 366.55,441.41 367.03,436.03 367.6,430.64 368.24,425.26 368.94,419.87 369.7,414.49 370.49,409.1 371.33,403.72 372.21,398.34 373.12,392.95 M367.3,446.8 367.6,441.43 368.08,436.06 368.64,430.69 369.28,425.32 369.98,419.95 370.73,414.58 371.52,409.21 372.36,403.84 373.23,398.47 374.14,393.1 M369.39,446.8 369.7,441.45 370.16,436.11 370.73,430.77 371.36,425.43 372.05,420.09 372.8,414.76 373.59,409.42 374.41,404.08 375.28,398.74 376.18,393.41 M370.44,446.8 370.74,441.47 371.21,436.14 371.77,430.81 372.4,425.49 373.09,420.17 373.83,414.84 374.62,409.52 375.44,404.2 376.3,398.88 377.2,393.56 M373.19,446.8 373.49,441.5 373.95,436.21 374.51,430.93 375.13,425.64 375.81,420.36 376.55,415.08 377.32,409.8 378.14,404.52 378.99,399.24 379.88,393.96 M376.6,446.8 376.89,441.55 377.35,436.31 377.9,431.07 378.51,425.83 379.18,420.6 379.91,415.37 380.67,410.14 381.48,404.91 382.32,399.68 383.19,394.45 M380,446.8 380.29,441.59 380.74,436.4 381.28,431.21 381.89,426.02 382.55,420.84 383.27,415.66 384.02,410.48 384.82,405.3 385.65,400.12 386.51,394.95 M383.41,446.8 383.7,441.64 384.14,436.49 384.67,431.35 385.27,426.21 385.92,421.08 386.63,415.94 387.37,410.82 388.15,405.69 388.97,400.56 389.82,395.44 M386.16,446.8 386.44,441.67 386.88,436.56 387.41,431.46 388,426.36 388.65,421.27 389.34,416.18 390.08,411.09 390.85,406.01 391.66,400.92 392.5,395.84 M387.21,446.8 387.49,441.68 387.93,436.59 388.45,431.5 389.04,426.42 389.68,421.34 390.38,416.27 391.11,411.19 391.88,406.13 392.68,401.06 393.52,395.99 M389.3,446.8 389.58,441.71 390.02,436.65 390.54,431.59 391.12,426.54 391.76,421.49 392.44,416.44 393.17,411.4 393.93,406.37 394.73,401.33 395.56,396.3 M390.35,446.8 390.63,441.73 391.06,436.67 391.58,431.63 392.16,426.59 392.8,421.56 393.48,416.53 394.2,411.51 394.96,406.49 395.75,401.47 396.58,396.45 M365.27,445 371.82,445.03 378.37,445.05 384.91,445.08 391.46,445.11 M365.38,443.2 371.92,443.26 378.47,443.31 385.01,443.37 391.56,443.42 M365.65,439.6 372.19,439.71 378.73,439.83 385.27,439.94 391.81,440.06 M365.81,437.8 372.35,437.94 378.88,438.09 385.42,438.23 391.95,438.38 M366.17,434.2 372.69,434.41 379.22,434.61 385.74,434.82 392.27,435.02 M366.36,432.4 372.88,432.64 379.4,432.87 385.92,433.11 392.44,433.35 M366.77,428.8 373.28,429.1 379.79,429.4 386.3,429.7 392.81,430 M366.98,427 373.49,427.33 379.99,427.66 386.5,427.99 393,428.33 M367.43,423.4 373.92,423.79 380.42,424.19 386.91,424.58 393.4,424.98 M367.67,421.6 374.15,422.03 380.64,422.45 387.13,422.88 393.62,423.31 M368.15,418 374.63,418.49 381.1,418.98 387.58,419.47 394.05,419.96 M368.41,416.2 374.87,416.72 381.34,417.25 387.81,417.77 394.28,418.29 M368.92,412.6 375.38,413.19 381.84,413.78 388.29,414.36 394.75,414.95 M369.19,410.8 375.64,411.42 382.09,412.04 388.54,412.66 394.99,413.28 M369.74,407.2 376.17,407.89 382.61,408.57 389.04,409.26 395.48,409.94 M370.02,405.4 376.45,406.12 382.88,406.84 389.3,407.56 395.73,408.27 M370.59,401.8 377.01,402.58 383.42,403.37 389.83,404.15 396.25,404.94 M370.89,400 377.29,400.82 383.7,401.63 390.11,402.45 396.51,403.27 M371.49,396.4 377.88,397.28 384.27,398.17 390.66,399.05 397.05,399.93 M371.79,394.6 378.17,395.52 384.56,396.43 390.94,397.35 397.32,398.27" fill="none" stroke="#a4a4a4" stroke-width="0.3"/>
<path d="M365.2,446.8 365.51,441.4 365.99,436 366.56,430.6 367.2,425.2 367.91,419.8 368.66,414.4 369.46,409 370.31,403.6 371.19,398.2 372.1,392.8 M368.34,446.8 368.65,441.44 369.12,436.08 369.69,430.73 370.32,425.37 371.02,420.02 371.76,414.67 372.56,409.31 373.39,403.96 374.26,398.61 375.16,393.26 M371.49,446.8 371.79,441.48 372.25,436.17 372.81,430.86 373.44,425.55 374.13,420.24 374.87,414.93 375.65,409.63 376.47,404.32 377.33,399.02 378.22,393.71 M374.89,446.8 375.19,441.53 375.65,436.26 376.2,431 376.82,425.74 377.5,420.48 378.23,415.22 379,409.97 379.81,404.71 380.65,399.46 381.54,394.21 M378.3,446.8 378.59,441.57 379.05,436.35 379.59,431.14 380.2,425.93 380.87,420.72 381.59,415.51 382.35,410.31 383.15,405.1 383.98,399.9 384.85,394.7 M381.71,446.8 381.99,441.61 382.44,436.44 382.98,431.28 383.58,426.11 384.24,420.96 384.95,415.8 385.7,410.65 386.48,405.49 387.31,400.34 388.17,395.19 M385.11,446.8 385.4,441.66 385.84,436.53 386.37,431.42 386.96,426.3 387.61,421.19 388.31,416.09 389.05,410.99 389.82,405.88 390.64,400.79 391.48,395.69 M388.26,446.8 388.54,441.7 388.97,436.62 389.49,431.54 390.08,426.48 390.72,421.42 391.41,416.36 392.14,411.3 392.91,406.25 393.71,401.19 394.54,396.14 M391.4,446.8 391.68,441.74 392.11,436.7 392.62,431.67 393.2,426.65 393.83,421.64 394.51,416.62 395.23,411.61 395.99,406.61 396.78,401.6 397.6,396.6" fill="none" stroke="#444" stroke-width="0.5"/>
<path d="M365.2,446.8 371.75,446.8 378.3,446.8 384.85,446.8 391.4,446.8 M365.51,441.4 372.05,441.48 378.59,441.57 385.13,441.65 391.68,441.74 M365.99,436 372.52,436.18 379.05,436.35 385.58,436.53 392.11,436.7 M366.56,430.6 373.07,430.87 379.59,431.14 386.1,431.41 392.62,431.67 M367.2,425.2 373.7,425.56 380.2,425.93 386.7,426.29 393.2,426.65 M367.91,419.8 374.39,420.26 380.87,420.72 387.35,421.18 393.83,421.64 M368.66,414.4 375.12,414.96 381.59,415.51 388.05,416.07 394.51,416.62 M369.46,409 375.91,409.65 382.35,410.31 388.79,410.96 395.23,411.61 M370.31,403.6 376.73,404.35 383.15,405.1 389.57,405.85 395.99,406.61 M371.19,398.2 377.58,399.05 383.98,399.9 390.38,400.75 396.78,401.6 M372.1,392.8 378.48,393.75 384.85,394.7 391.23,395.65 397.6,396.6" fill="none" stroke="#333" stroke-width="0.6"/>
<line x1="301.3" y1="448.2" x2="333.1" y2="448.2" stroke="#000" stroke-width="1.7" />
<line x1="362.2" y1="448" x2="395" y2="448" stroke="#000" stroke-width="1.7" />
<line x1="317.2" y1="384.3" x2="317.2" y2="390.2" stroke="#111" stroke-width="0.75" />
<polygon points="315.9,389.7 318.5,389.7 317.2,392.7" fill="#111"/>
<text x="320.5" y="384.7" font-size="6.2" text-anchor="start" fill="#222" stroke="#222" stroke-width="0.14" >555 kN</text>
<text x="407" y="450.2" font-size="5.9" text-anchor="start" fill="#222" stroke="#222" stroke-width="0.14" >scale x25</text>
<text x="285.8" y="462.9" font-size="9.2" text-anchor="start" fill="#111" stroke="#111" stroke-width="0.18" >DNN-MVLEM</text>
<line x1="307.6" y1="481.6" x2="307.6" y2="535" stroke="#9a9a9a" stroke-width="0.45" />
<line x1="314.5" y1="481.6" x2="314.5" y2="535" stroke="#9a9a9a" stroke-width="0.45" />
<line x1="321.4" y1="481.6" x2="321.4" y2="535" stroke="#9a9a9a" stroke-width="0.45" />
<line x1="328.3" y1="481.6" x2="328.3" y2="535" stroke="#9a9a9a" stroke-width="0.45" />
<path d="M317.9,481.6 V514.3 H323.5 V519.1 H317.9 V535" fill="none" stroke="#000" stroke-width="1.05"/>
<line x1="304.1" y1="481.6" x2="331.8" y2="481.6" stroke="#000" stroke-width="1.4" />
<line x1="304.1" y1="535" x2="331.8" y2="535" stroke="#000" stroke-width="1.4" />
<line x1="368.2" y1="535.2" x2="374.3" y2="481.47" stroke="#9a9a9a" stroke-width="0.45" />
<line x1="375.1" y1="535.2" x2="380.3" y2="482.19" stroke="#9a9a9a" stroke-width="0.45" />
<line x1="381.2" y1="535.2" x2="387.2" y2="483.02" stroke="#9a9a9a" stroke-width="0.45" />
<line x1="388.1" y1="535.2" x2="394.2" y2="483.85" stroke="#9a9a9a" stroke-width="0.45" />
<path d="M383.8,483.2 L380.3,513.1 M378.9,515.3 H382.9 V520 H377.7 V535.2" fill="none" stroke="#000" stroke-width="1.05"/>
<line x1="378.9" y1="515.3" x2="378.9" y2="516.5" stroke="#000" stroke-width="0.8" />
<line x1="371.2" y1="481.1" x2="397.1" y2="484.2" stroke="#000" stroke-width="1.4" />
<line x1="365.3" y1="535.2" x2="391.2" y2="535.2" stroke="#000" stroke-width="1.4" />
<text x="407.1" y="542" font-size="5.9" text-anchor="start" fill="#222" stroke="#222" stroke-width="0.14" >scale x25</text>
<rect x="459" y="76.9" width="13.7" height="65.2" fill="#dedede"/>
<line x1="461.5" y1="76.9" x2="461.5" y2="142.1" stroke="#a4d2a4" stroke-width="1.5" />
<line x1="470.2" y1="76.9" x2="470.2" y2="142.1" stroke="#a4d2a4" stroke-width="1.5" />
<rect x="459" y="50.8" width="13.7" height="26.1" fill="#adadb1"/>
<rect x="460.2" y="51.9" width="11.3" height="23.9" fill="none" stroke="#96a0dc" stroke-width="0.9"/>
<rect x="459" y="142.1" width="13.7" height="26.5" fill="#adadb1"/>
<rect x="460.2" y="143.2" width="11.3" height="24.3" fill="none" stroke="#96a0dc" stroke-width="0.9"/>
<rect x="459" y="50.8" width="13.7" height="117.8" fill="none" stroke="#8c8c8c" stroke-width="0.9"/>
<line x1="459" y1="76.9" x2="472.7" y2="76.9" stroke="#6c6c6c" stroke-width="0.9" />
<line x1="459" y1="142.1" x2="472.7" y2="142.1" stroke="#6c6c6c" stroke-width="0.9" />
<circle cx="461.5" cy="53.3" r="0.8" fill="#1818aa"/>
<circle cx="465.8" cy="53.3" r="0.8" fill="#1818aa"/>
<circle cx="470.2" cy="53.3" r="0.8" fill="#1818aa"/>
<circle cx="461.5" cy="63.8" r="0.8" fill="#1818aa"/>
<circle cx="465.8" cy="63.8" r="0.8" fill="#1818aa"/>
<circle cx="470.2" cy="63.8" r="0.8" fill="#1818aa"/>
<circle cx="461.5" cy="74.3" r="0.8" fill="#1818aa"/>
<circle cx="465.8" cy="74.3" r="0.8" fill="#1818aa"/>
<circle cx="470.2" cy="74.3" r="0.8" fill="#1818aa"/>
<circle cx="461.5" cy="145" r="0.8" fill="#1818aa"/>
<circle cx="465.8" cy="145" r="0.8" fill="#1818aa"/>
<circle cx="470.2" cy="145" r="0.8" fill="#1818aa"/>
<circle cx="461.5" cy="155.4" r="0.8" fill="#1818aa"/>
<circle cx="465.8" cy="155.4" r="0.8" fill="#1818aa"/>
<circle cx="470.2" cy="155.4" r="0.8" fill="#1818aa"/>
<circle cx="461.5" cy="166" r="0.8" fill="#1818aa"/>
<circle cx="465.8" cy="166" r="0.8" fill="#1818aa"/>
<circle cx="470.2" cy="166" r="0.8" fill="#1818aa"/>
<circle cx="461.5" cy="79.2" r="0.75" fill="#1c4a1c"/>
<circle cx="470.2" cy="79.2" r="0.75" fill="#1c4a1c"/>
<circle cx="461.5" cy="99.5" r="0.75" fill="#1c4a1c"/>
<circle cx="470.2" cy="99.5" r="0.75" fill="#1c4a1c"/>
<circle cx="461.5" cy="119.6" r="0.75" fill="#1c4a1c"/>
<circle cx="470.2" cy="119.6" r="0.75" fill="#1c4a1c"/>
<circle cx="461.5" cy="139.6" r="0.75" fill="#1c4a1c"/>
<circle cx="470.2" cy="139.6" r="0.75" fill="#1c4a1c"/>
<line x1="460.2" y1="46.6" x2="471.5" y2="46.6" stroke="#444" stroke-width="0.75" />
<polygon points="459,46.6 460.8,45.34 460.8,47.86" fill="#333"/>
<polygon points="472.7,46.6 470.9,45.34 470.9,47.86" fill="#333"/>
<text x="465.85" y="44.2" font-size="6.8" text-anchor="middle" fill="#333" stroke="#333" stroke-width="0.14" >21</text>
<line x1="454.5" y1="52.4" x2="454.5" y2="74.6" stroke="#555" stroke-width="0.8" />
<polygon points="454.5,51.2 453.24,53 455.76,53" fill="#333"/>
<polygon points="454.5,75.8 453.24,74 455.76,74" fill="#333"/>
<text x="450.7" y="65.7" font-size="6.4" text-anchor="middle" fill="#6a6a6a" stroke="#6a6a6a" stroke-width="0.14" >41</text>
<line x1="478.3" y1="52.4" x2="478.3" y2="166.8" stroke="#444" stroke-width="0.75" />
<polygon points="478.3,51.2 477.04,53 479.56,53" fill="#333"/>
<polygon points="478.3,168 477.04,166.2 479.56,166.2" fill="#333"/>
<text x="484.3" y="110.45" font-size="6.6" text-anchor="middle" fill="#333" stroke="#333" stroke-width="0.14" >187</text>
<rect x="457.2" y="237" width="16.5" height="91" fill="#dedede"/>
<line x1="459.5" y1="237" x2="459.5" y2="328" stroke="#a4d2a4" stroke-width="1.5" />
<line x1="471.6" y1="237" x2="471.6" y2="328" stroke="#a4d2a4" stroke-width="1.5" />
<rect x="457.2" y="207.1" width="16.5" height="29.9" fill="#adadb1"/>
<rect x="458.4" y="208.2" width="14.1" height="27.7" fill="none" stroke="#96a0dc" stroke-width="0.9"/>
<rect x="457.2" y="328" width="16.5" height="30.5" fill="#adadb1"/>
<rect x="458.4" y="329.1" width="14.1" height="28.3" fill="none" stroke="#96a0dc" stroke-width="0.9"/>
<rect x="457.2" y="207.1" width="16.5" height="151.4" fill="none" stroke="#8c8c8c" stroke-width="0.9"/>
<line x1="457.2" y1="237" x2="473.7" y2="237" stroke="#6c6c6c" stroke-width="0.9" />
<line x1="457.2" y1="328" x2="473.7" y2="328" stroke="#6c6c6c" stroke-width="0.9" />
<circle cx="459.5" cy="209.9" r="0.8" fill="#1818aa"/>
<circle cx="465.8" cy="209.9" r="0.8" fill="#1818aa"/>
<circle cx="471.6" cy="209.9" r="0.8" fill="#1818aa"/>
<circle cx="459.5" cy="215" r="0.8" fill="#1818aa"/>
<circle cx="465.8" cy="215" r="0.8" fill="#1818aa"/>
<circle cx="471.6" cy="215" r="0.8" fill="#1818aa"/>
<circle cx="459.5" cy="220" r="0.8" fill="#1818aa"/>
<circle cx="465.8" cy="220" r="0.8" fill="#1818aa"/>
<circle cx="471.6" cy="220" r="0.8" fill="#1818aa"/>
<circle cx="459.5" cy="225.2" r="0.8" fill="#1818aa"/>
<circle cx="465.8" cy="225.2" r="0.8" fill="#1818aa"/>
<circle cx="471.6" cy="225.2" r="0.8" fill="#1818aa"/>
<circle cx="459.5" cy="230.2" r="0.8" fill="#1818aa"/>
<circle cx="465.8" cy="230.2" r="0.8" fill="#1818aa"/>
<circle cx="471.6" cy="230.2" r="0.8" fill="#1818aa"/>
<circle cx="459.5" cy="235.3" r="0.8" fill="#1818aa"/>
<circle cx="465.8" cy="235.3" r="0.8" fill="#1818aa"/>
<circle cx="471.6" cy="235.3" r="0.8" fill="#1818aa"/>
<circle cx="459.5" cy="331.2" r="0.8" fill="#1818aa"/>
<circle cx="465.8" cy="331.2" r="0.8" fill="#1818aa"/>
<circle cx="471.6" cy="331.2" r="0.8" fill="#1818aa"/>
<circle cx="459.5" cy="336.2" r="0.8" fill="#1818aa"/>
<circle cx="465.8" cy="336.2" r="0.8" fill="#1818aa"/>
<circle cx="471.6" cy="336.2" r="0.8" fill="#1818aa"/>
<circle cx="459.5" cy="341.2" r="0.8" fill="#1818aa"/>
<circle cx="465.8" cy="341.2" r="0.8" fill="#1818aa"/>
<circle cx="471.6" cy="341.2" r="0.8" fill="#1818aa"/>
<circle cx="459.5" cy="346.2" r="0.8" fill="#1818aa"/>
<circle cx="465.8" cy="346.2" r="0.8" fill="#1818aa"/>
<circle cx="471.6" cy="346.2" r="0.8" fill="#1818aa"/>
<circle cx="459.5" cy="351.2" r="0.8" fill="#1818aa"/>
<circle cx="465.8" cy="351.2" r="0.8" fill="#1818aa"/>
<circle cx="471.6" cy="351.2" r="0.8" fill="#1818aa"/>
<circle cx="459.5" cy="356.2" r="0.8" fill="#1818aa"/>
<circle cx="465.8" cy="356.2" r="0.8" fill="#1818aa"/>
<circle cx="471.6" cy="356.2" r="0.8" fill="#1818aa"/>
<circle cx="459.5" cy="240.2" r="0.75" fill="#1c4a1c"/>
<circle cx="471.6" cy="240.2" r="0.75" fill="#1c4a1c"/>
<circle cx="459.5" cy="254.4" r="0.75" fill="#1c4a1c"/>
<circle cx="471.6" cy="254.4" r="0.75" fill="#1c4a1c"/>
<circle cx="459.5" cy="268.7" r="0.75" fill="#1c4a1c"/>
<circle cx="471.6" cy="268.7" r="0.75" fill="#1c4a1c"/>
<circle cx="459.5" cy="283" r="0.75" fill="#1c4a1c"/>
<circle cx="471.6" cy="283" r="0.75" fill="#1c4a1c"/>
<circle cx="459.5" cy="297.3" r="0.75" fill="#1c4a1c"/>
<circle cx="471.6" cy="297.3" r="0.75" fill="#1c4a1c"/>
<circle cx="459.5" cy="311.6" r="0.75" fill="#1c4a1c"/>
<circle cx="471.6" cy="311.6" r="0.75" fill="#1c4a1c"/>
<circle cx="459.5" cy="326" r="0.75" fill="#1c4a1c"/>
<circle cx="471.6" cy="326" r="0.75" fill="#1c4a1c"/>
<line x1="458.4" y1="202.4" x2="472.5" y2="202.4" stroke="#444" stroke-width="0.75" />
<polygon points="457.2,202.4 459,201.14 459,203.66" fill="#333"/>
<polygon points="473.7,202.4 471.9,201.14 471.9,203.66" fill="#333"/>
<text x="465.45" y="200.9" font-size="6.8" text-anchor="middle" fill="#333" stroke="#333" stroke-width="0.14" >27</text>
<line x1="452.7" y1="208.7" x2="452.7" y2="235.8" stroke="#555" stroke-width="0.8" />
<polygon points="452.7,207.5 451.44,209.3 453.96,209.3" fill="#333"/>
<polygon points="452.7,237 451.44,235.2 453.96,235.2" fill="#333"/>
<text x="447.2" y="224.2" font-size="6.4" text-anchor="middle" fill="#6a6a6a" stroke="#6a6a6a" stroke-width="0.14" >48</text>
<line x1="479.2" y1="208.7" x2="479.2" y2="356.2" stroke="#444" stroke-width="0.75" />
<polygon points="479.2,207.5 477.94,209.3 480.46,209.3" fill="#333"/>
<polygon points="479.2,357.4 477.94,355.6 480.46,355.6" fill="#333"/>
<text x="486.6" y="285.95" font-size="6.6" text-anchor="middle" fill="#333" stroke="#333" stroke-width="0.14" >242</text>
<rect x="453.3" y="431.4" width="22.3" height="53.5" fill="#dedede"/>
<line x1="455.5" y1="431.4" x2="455.5" y2="484.9" stroke="#a4d2a4" stroke-width="1.5" />
<line x1="473.4" y1="431.4" x2="473.4" y2="484.9" stroke="#a4d2a4" stroke-width="1.5" />
<rect x="453.3" y="406.8" width="22.3" height="24.6" fill="#adadb1"/>
<rect x="454.5" y="407.9" width="19.9" height="22.4" fill="none" stroke="#96a0dc" stroke-width="0.9"/>
<rect x="453.3" y="484.9" width="22.3" height="25.5" fill="#adadb1"/>
<rect x="454.5" y="486" width="19.9" height="23.3" fill="none" stroke="#96a0dc" stroke-width="0.9"/>
<rect x="453.3" y="406.8" width="22.3" height="103.6" fill="none" stroke="#8c8c8c" stroke-width="0.9"/>
<line x1="453.3" y1="431.4" x2="475.6" y2="431.4" stroke="#6c6c6c" stroke-width="0.9" />
<line x1="453.3" y1="484.9" x2="475.6" y2="484.9" stroke="#6c6c6c" stroke-width="0.9" />
<circle cx="455.5" cy="409.2" r="0.8" fill="#1818aa"/>
<circle cx="464.4" cy="409.2" r="0.8" fill="#1818aa"/>
<circle cx="473.4" cy="409.2" r="0.8" fill="#1818aa"/>
<circle cx="455.5" cy="413.2" r="0.8" fill="#1818aa"/>
<circle cx="464.4" cy="413.2" r="0.8" fill="#1818aa"/>
<circle cx="473.4" cy="413.2" r="0.8" fill="#1818aa"/>
<circle cx="455.5" cy="417.2" r="0.8" fill="#1818aa"/>
<circle cx="464.4" cy="417.2" r="0.8" fill="#1818aa"/>
<circle cx="473.4" cy="417.2" r="0.8" fill="#1818aa"/>
<circle cx="455.5" cy="421.2" r="0.8" fill="#1818aa"/>
<circle cx="464.4" cy="421.2" r="0.8" fill="#1818aa"/>
<circle cx="473.4" cy="421.2" r="0.8" fill="#1818aa"/>
<circle cx="455.5" cy="425.2" r="0.8" fill="#1818aa"/>
<circle cx="464.4" cy="425.2" r="0.8" fill="#1818aa"/>
<circle cx="473.4" cy="425.2" r="0.8" fill="#1818aa"/>
<circle cx="455.5" cy="429.2" r="0.8" fill="#1818aa"/>
<circle cx="464.4" cy="429.2" r="0.8" fill="#1818aa"/>
<circle cx="473.4" cy="429.2" r="0.8" fill="#1818aa"/>
<circle cx="455.5" cy="487.9" r="0.8" fill="#1818aa"/>
<circle cx="464.4" cy="487.9" r="0.8" fill="#1818aa"/>
<circle cx="473.4" cy="487.9" r="0.8" fill="#1818aa"/>
<circle cx="455.5" cy="491.9" r="0.8" fill="#1818aa"/>
<circle cx="464.4" cy="491.9" r="0.8" fill="#1818aa"/>
<circle cx="473.4" cy="491.9" r="0.8" fill="#1818aa"/>
<circle cx="455.5" cy="495.9" r="0.8" fill="#1818aa"/>
<circle cx="464.4" cy="495.9" r="0.8" fill="#1818aa"/>
<circle cx="473.4" cy="495.9" r="0.8" fill="#1818aa"/>
<circle cx="455.5" cy="499.9" r="0.8" fill="#1818aa"/>
<circle cx="464.4" cy="499.9" r="0.8" fill="#1818aa"/>
<circle cx="473.4" cy="499.9" r="0.8" fill="#1818aa"/>
<circle cx="455.5" cy="503.9" r="0.8" fill="#1818aa"/>
<circle cx="464.4" cy="503.9" r="0.8" fill="#1818aa"/>
<circle cx="473.4" cy="503.9" r="0.8" fill="#1818aa"/>
<circle cx="455.5" cy="507.9" r="0.8" fill="#1818aa"/>
<circle cx="464.4" cy="507.9" r="0.8" fill="#1818aa"/>
<circle cx="473.4" cy="507.9" r="0.8" fill="#1818aa"/>
<circle cx="455.5" cy="434.5" r="0.75" fill="#1c4a1c"/>
<circle cx="473.4" cy="434.5" r="0.75" fill="#1c4a1c"/>
<circle cx="455.5" cy="442.3" r="0.75" fill="#1c4a1c"/>
<circle cx="473.4" cy="442.3" r="0.75" fill="#1c4a1c"/>
<circle cx="455.5" cy="450.4" r="0.75" fill="#1c4a1c"/>
<circle cx="473.4" cy="450.4" r="0.75" fill="#1c4a1c"/>
<circle cx="455.5" cy="458.6" r="0.75" fill="#1c4a1c"/>
<circle cx="473.4" cy="458.6" r="0.75" fill="#1c4a1c"/>
<circle cx="455.5" cy="466.9" r="0.75" fill="#1c4a1c"/>
<circle cx="473.4" cy="466.9" r="0.75" fill="#1c4a1c"/>
<circle cx="455.5" cy="474.8" r="0.75" fill="#1c4a1c"/>
<circle cx="473.4" cy="474.8" r="0.75" fill="#1c4a1c"/>
<circle cx="455.5" cy="482.8" r="0.75" fill="#1c4a1c"/>
<circle cx="473.4" cy="482.8" r="0.75" fill="#1c4a1c"/>
<line x1="454.5" y1="401.9" x2="474.4" y2="401.9" stroke="#444" stroke-width="0.75" />
<polygon points="453.3,401.9 455.1,400.64 455.1,403.16" fill="#333"/>
<polygon points="475.6,401.9 473.8,400.64 473.8,403.16" fill="#333"/>
<text x="464.45" y="399.9" font-size="6.8" text-anchor="middle" fill="#333" stroke="#333" stroke-width="0.14" >36</text>
<line x1="448.7" y1="408.2" x2="448.7" y2="430" stroke="#555" stroke-width="0.8" />
<polygon points="448.7,407 447.44,408.8 449.96,408.8" fill="#333"/>
<polygon points="448.7,431.2 447.44,429.4 449.96,429.4" fill="#333"/>
<text x="443.9" y="421.6" font-size="6.4" text-anchor="middle" fill="#6a6a6a" stroke="#6a6a6a" stroke-width="0.14" >40</text>
<line x1="481.3" y1="408.2" x2="481.3" y2="508.4" stroke="#444" stroke-width="0.75" />
<polygon points="481.3,407 480.04,408.8 482.56,408.8" fill="#333"/>
<polygon points="481.3,509.6 480.04,507.8 482.56,507.8" fill="#333"/>
<text x="488.3" y="462.75" font-size="6.6" text-anchor="middle" fill="#333" stroke="#333" stroke-width="0.14" >165</text>
</svg>
</body></html>
